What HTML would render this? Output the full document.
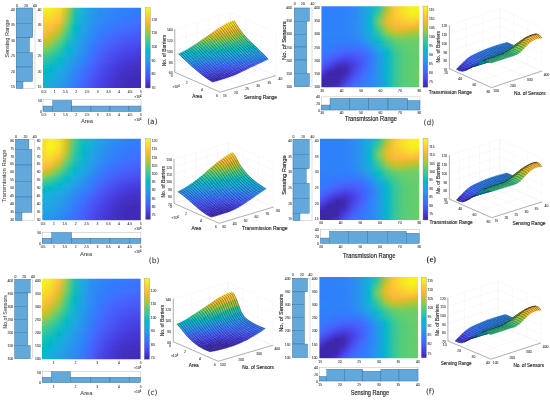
<!DOCTYPE html><html><head><meta charset="utf-8"><style>
html,body{margin:0;padding:0;background:#fff;width:550px;height:400px;overflow:hidden}
svg{display:block}
text{font-family:"Liberation Sans",Arial,sans-serif;dominant-baseline:central}
.t{font-size:3.4px;fill:#444;stroke:#444;stroke-width:0.08}
.zl{font-size:4.9px;fill:#333;stroke:#333;stroke-width:0.13}
.al{font-size:5.9px;fill:#2a2a2a;stroke:#2a2a2a;stroke-width:0.18}
.alL{font-size:5.7px;fill:#4a4a4a;stroke:#4a4a4a;stroke-width:0.06}
.al3{font-size:5px;fill:#2a2a2a;stroke:#2a2a2a;stroke-width:0.15}
.pl{font-size:7.5px;fill:#444;stroke:#444;stroke-width:0.1;font-family:"DejaVu Sans","Liberation Sans",sans-serif}
.pe{font-size:8.5px;fill:#333;font-family:"Liberation Serif",serif;font-weight:bold}
.hb{fill:#62a8da;stroke:#2c5f8c;stroke-width:0.35}
.s path{fill:currentColor;stroke:currentColor;stroke-width:0.4;stroke-linejoin:round}
.c0{color:#3e26a8}.c1{color:#402ab4}.c2{color:#422ec0}.c3{color:#4332cb}.c4{color:#4537d5}.c5{color:#463cde}.c6{color:#4741e5}.c7{color:#4747eb}.c8{color:#484df0}.c9{color:#4852f4}.c10{color:#4758f8}.c11{color:#465efb}.c12{color:#4563fd}.c13{color:#4269fe}.c14{color:#3e6fff}.c15{color:#3875fe}.c16{color:#327cfc}.c17{color:#2f81fa}.c18{color:#2e87f7}.c19{color:#2d8cf3}.c20{color:#2b91ef}.c21{color:#2797eb}.c22{color:#259be8}.c23{color:#23a0e5}.c24{color:#20a5e3}.c25{color:#1ca9df}.c26{color:#18addb}.c27{color:#12b1d6}.c28{color:#08b5d0}.c29{color:#01b8ca}.c30{color:#02bac3}.c31{color:#0bbdbd}.c32{color:#19bfb6}.c33{color:#24c1ae}.c34{color:#2cc4a7}.c35{color:#31c69f}.c36{color:#37c897}.c37{color:#3fca8e}.c38{color:#4acb84}.c39{color:#57cc7a}.c40{color:#64cd6f}.c41{color:#72cd64}.c42{color:#81cc59}.c43{color:#8fcb4e}.c44{color:#9dc943}.c45{color:#abc739}.c46{color:#b9c431}.c47{color:#c5c22a}.c48{color:#d1bf27}.c49{color:#dcbd29}.c50{color:#e6bb2d}.c51{color:#f0ba36}.c52{color:#f8ba3d}.c53{color:#febe3c}.c54{color:#fec338}.c55{color:#fec934}.c56{color:#fccf30}.c57{color:#fad62d}.c58{color:#f7dc2a}.c59{color:#f5e327}.c60{color:#f5e924}.c61{color:#f6ef20}.c62{color:#f7f51b}.c63{color:#f9fb15}
.s .cr{fill:none;stroke:#0a1a3a;stroke-opacity:0.6;stroke-width:0.9}
.s .el{fill:none;stroke:#000;stroke-opacity:0.45;stroke-width:0.75}
</style></head><body><svg width="550" height="400" viewBox="0 0 550 400"><defs><filter id="bv" x="-5%" y="-5%" width="110%" height="110%"><feGaussianBlur stdDeviation="0.3 1.3"/></filter><clipPath id="c1"><rect x="43" y="7.8" width="98" height="80.2"/></clipPath><linearGradient id="g2"><stop offset="0" stop-color="#f9fb15"/><stop offset="0.08" stop-color="#f6f21e"/><stop offset="0.17" stop-color="#f8da2b"/><stop offset="0.25" stop-color="#bcc42f"/><stop offset="0.33" stop-color="#26c2ac"/><stop offset="0.42" stop-color="#18addb"/><stop offset="0.5" stop-color="#259be8"/><stop offset="0.58" stop-color="#2b91ef"/><stop offset="0.67" stop-color="#2d89f5"/><stop offset="0.75" stop-color="#2e84f8"/><stop offset="0.83" stop-color="#3080fa"/><stop offset="0.92" stop-color="#317dfc"/><stop offset="1" stop-color="#347afd"/></linearGradient><linearGradient id="g3"><stop offset="0" stop-color="#f7f41c"/><stop offset="0.08" stop-color="#f5ed21"/><stop offset="0.17" stop-color="#f9d82c"/><stop offset="0.25" stop-color="#b9c431"/><stop offset="0.33" stop-color="#24c2ae"/><stop offset="0.42" stop-color="#19addc"/><stop offset="0.5" stop-color="#259be8"/><stop offset="0.58" stop-color="#2c90f0"/><stop offset="0.67" stop-color="#2d89f5"/><stop offset="0.75" stop-color="#2e84f9"/><stop offset="0.83" stop-color="#3080fa"/><stop offset="0.92" stop-color="#317dfc"/><stop offset="1" stop-color="#3479fd"/></linearGradient><linearGradient id="g4"><stop offset="0" stop-color="#f5e825"/><stop offset="0.08" stop-color="#f5e427"/><stop offset="0.17" stop-color="#fbd22f"/><stop offset="0.25" stop-color="#aec637"/><stop offset="0.33" stop-color="#1ec0b2"/><stop offset="0.42" stop-color="#1aacdd"/><stop offset="0.5" stop-color="#269ae9"/><stop offset="0.58" stop-color="#2c8ef1"/><stop offset="0.67" stop-color="#2e87f7"/><stop offset="0.75" stop-color="#2e83f9"/><stop offset="0.83" stop-color="#307ffb"/><stop offset="0.92" stop-color="#327cfc"/><stop offset="1" stop-color="#3777fe"/></linearGradient><linearGradient id="g5"><stop offset="0" stop-color="#f6de29"/><stop offset="0.08" stop-color="#f7db2b"/><stop offset="0.17" stop-color="#fec934"/><stop offset="0.25" stop-color="#a0c841"/><stop offset="0.33" stop-color="#17bfb6"/><stop offset="0.42" stop-color="#1babde"/><stop offset="0.5" stop-color="#2698ea"/><stop offset="0.58" stop-color="#2d8df2"/><stop offset="0.67" stop-color="#2e85f8"/><stop offset="0.75" stop-color="#2f81fa"/><stop offset="0.83" stop-color="#317dfc"/><stop offset="0.92" stop-color="#347afd"/><stop offset="1" stop-color="#3a74fe"/></linearGradient><linearGradient id="g6"><stop offset="0" stop-color="#fad52d"/><stop offset="0.08" stop-color="#fbd22f"/><stop offset="0.17" stop-color="#fec03b"/><stop offset="0.25" stop-color="#8fcb4e"/><stop offset="0.33" stop-color="#0ebebb"/><stop offset="0.42" stop-color="#1da9e0"/><stop offset="0.5" stop-color="#2797eb"/><stop offset="0.58" stop-color="#2d8af4"/><stop offset="0.67" stop-color="#2f83f9"/><stop offset="0.75" stop-color="#317efb"/><stop offset="0.83" stop-color="#337afd"/><stop offset="0.92" stop-color="#3776fe"/><stop offset="1" stop-color="#3d70ff"/></linearGradient><linearGradient id="g7"><stop offset="0" stop-color="#fdce31"/><stop offset="0.08" stop-color="#fec934"/><stop offset="0.17" stop-color="#f5ba3a"/><stop offset="0.25" stop-color="#7acc5e"/><stop offset="0.33" stop-color="#07bcc0"/><stop offset="0.42" stop-color="#1ea6e1"/><stop offset="0.5" stop-color="#2994ed"/><stop offset="0.58" stop-color="#2d88f6"/><stop offset="0.67" stop-color="#3080fb"/><stop offset="0.75" stop-color="#347afd"/><stop offset="0.83" stop-color="#3876fe"/><stop offset="0.92" stop-color="#3c72ff"/><stop offset="1" stop-color="#406cfe"/></linearGradient><linearGradient id="g8"><stop offset="0" stop-color="#fec735"/><stop offset="0.08" stop-color="#fec13a"/><stop offset="0.17" stop-color="#e2bc2b"/><stop offset="0.25" stop-color="#64cd6f"/><stop offset="0.33" stop-color="#02bac5"/><stop offset="0.42" stop-color="#20a4e3"/><stop offset="0.5" stop-color="#2b91ef"/><stop offset="0.58" stop-color="#2e85f8"/><stop offset="0.67" stop-color="#327cfc"/><stop offset="0.75" stop-color="#3876fe"/><stop offset="0.83" stop-color="#3d71ff"/><stop offset="0.92" stop-color="#406dfe"/><stop offset="1" stop-color="#4367fd"/></linearGradient><linearGradient id="g9"><stop offset="0" stop-color="#fec13a"/><stop offset="0.08" stop-color="#f8ba3d"/><stop offset="0.17" stop-color="#cbc129"/><stop offset="0.25" stop-color="#4fcc80"/><stop offset="0.33" stop-color="#01b8ca"/><stop offset="0.42" stop-color="#23a1e4"/><stop offset="0.5" stop-color="#2c8ef1"/><stop offset="0.58" stop-color="#2f81fa"/><stop offset="0.67" stop-color="#3678fe"/><stop offset="0.75" stop-color="#3d71ff"/><stop offset="0.83" stop-color="#416bfe"/><stop offset="0.92" stop-color="#4367fd"/><stop offset="1" stop-color="#4562fc"/></linearGradient><linearGradient id="g10"><stop offset="0" stop-color="#fbbc3d"/><stop offset="0.08" stop-color="#e9bb30"/><stop offset="0.17" stop-color="#afc637"/><stop offset="0.25" stop-color="#3dc990"/><stop offset="0.33" stop-color="#06b5cf"/><stop offset="0.42" stop-color="#249ee6"/><stop offset="0.5" stop-color="#2d8bf4"/><stop offset="0.58" stop-color="#317efb"/><stop offset="0.67" stop-color="#3a73fe"/><stop offset="0.75" stop-color="#416bfe"/><stop offset="0.83" stop-color="#4466fd"/><stop offset="0.92" stop-color="#4561fc"/><stop offset="1" stop-color="#465dfa"/></linearGradient><linearGradient id="g11"><stop offset="0" stop-color="#f0ba36"/><stop offset="0.08" stop-color="#d7be28"/><stop offset="0.17" stop-color="#90ca4d"/><stop offset="0.25" stop-color="#32c69f"/><stop offset="0.33" stop-color="#0eb2d4"/><stop offset="0.42" stop-color="#269be8"/><stop offset="0.5" stop-color="#2d88f6"/><stop offset="0.58" stop-color="#347afd"/><stop offset="0.67" stop-color="#3f6eff"/><stop offset="0.75" stop-color="#4466fd"/><stop offset="0.83" stop-color="#4660fb"/><stop offset="0.92" stop-color="#475bf9"/><stop offset="1" stop-color="#4757f7"/></linearGradient><linearGradient id="g12"><stop offset="0" stop-color="#e0bc2a"/><stop offset="0.08" stop-color="#bfc32d"/><stop offset="0.17" stop-color="#6fcd66"/><stop offset="0.25" stop-color="#28c2ab"/><stop offset="0.33" stop-color="#15afd9"/><stop offset="0.42" stop-color="#2797ea"/><stop offset="0.5" stop-color="#2e84f8"/><stop offset="0.58" stop-color="#3875fe"/><stop offset="0.67" stop-color="#4269fe"/><stop offset="0.75" stop-color="#4661fc"/><stop offset="0.83" stop-color="#475af9"/><stop offset="0.92" stop-color="#4755f6"/><stop offset="1" stop-color="#4852f4"/></linearGradient><linearGradient id="g13"><stop offset="0" stop-color="#c8c129"/><stop offset="0.08" stop-color="#a2c840"/><stop offset="0.17" stop-color="#53cc7d"/><stop offset="0.25" stop-color="#18bfb6"/><stop offset="0.33" stop-color="#1aacdd"/><stop offset="0.42" stop-color="#2994ed"/><stop offset="0.5" stop-color="#2f81fa"/><stop offset="0.58" stop-color="#3d71ff"/><stop offset="0.67" stop-color="#4464fd"/><stop offset="0.75" stop-color="#475bf9"/><stop offset="0.83" stop-color="#4855f6"/><stop offset="0.92" stop-color="#4850f2"/><stop offset="1" stop-color="#484cf0"/></linearGradient><linearGradient id="g14"><stop offset="0" stop-color="#aac73a"/><stop offset="0.08" stop-color="#80cc59"/><stop offset="0.17" stop-color="#3cc991"/><stop offset="0.25" stop-color="#07bcc0"/><stop offset="0.33" stop-color="#1da8e0"/><stop offset="0.42" stop-color="#2b91ef"/><stop offset="0.5" stop-color="#317dfc"/><stop offset="0.58" stop-color="#406cfe"/><stop offset="0.67" stop-color="#465ffb"/><stop offset="0.75" stop-color="#4756f7"/><stop offset="0.83" stop-color="#484ff2"/><stop offset="0.92" stop-color="#484aee"/><stop offset="1" stop-color="#4747eb"/></linearGradient><linearGradient id="g15"><stop offset="0" stop-color="#87cb54"/><stop offset="0.08" stop-color="#5ecd74"/><stop offset="0.17" stop-color="#30c5a1"/><stop offset="0.25" stop-color="#01b8c9"/><stop offset="0.33" stop-color="#20a4e3"/><stop offset="0.42" stop-color="#2c8ef1"/><stop offset="0.5" stop-color="#347afd"/><stop offset="0.58" stop-color="#4367fd"/><stop offset="0.67" stop-color="#475af9"/><stop offset="0.75" stop-color="#4851f3"/><stop offset="0.83" stop-color="#484aee"/><stop offset="0.92" stop-color="#4745e9"/><stop offset="1" stop-color="#4741e5"/></linearGradient><linearGradient id="g16"><stop offset="0" stop-color="#63cd70"/><stop offset="0.08" stop-color="#42ca8b"/><stop offset="0.17" stop-color="#23c1af"/><stop offset="0.25" stop-color="#09b4d1"/><stop offset="0.33" stop-color="#23a0e5"/><stop offset="0.42" stop-color="#2d8bf4"/><stop offset="0.5" stop-color="#3876fe"/><stop offset="0.58" stop-color="#4563fc"/><stop offset="0.67" stop-color="#4755f6"/><stop offset="0.75" stop-color="#484cef"/><stop offset="0.83" stop-color="#4745e9"/><stop offset="0.92" stop-color="#4740e4"/><stop offset="1" stop-color="#463cdf"/></linearGradient><linearGradient id="g17"><stop offset="0" stop-color="#45cb88"/><stop offset="0.08" stop-color="#32c69e"/><stop offset="0.17" stop-color="#0fbebb"/><stop offset="0.25" stop-color="#14b0d8"/><stop offset="0.33" stop-color="#259ce7"/><stop offset="0.42" stop-color="#2e87f7"/><stop offset="0.5" stop-color="#3c71ff"/><stop offset="0.58" stop-color="#465ffb"/><stop offset="0.67" stop-color="#4851f3"/><stop offset="0.75" stop-color="#4747eb"/><stop offset="0.83" stop-color="#4740e4"/><stop offset="0.92" stop-color="#463bde"/><stop offset="1" stop-color="#4538d8"/></linearGradient><linearGradient id="g18"><stop offset="0" stop-color="#34c79c"/><stop offset="0.08" stop-color="#26c2ad"/><stop offset="0.17" stop-color="#02bac5"/><stop offset="0.25" stop-color="#1aabdd"/><stop offset="0.33" stop-color="#2797ea"/><stop offset="0.42" stop-color="#2e83f9"/><stop offset="0.5" stop-color="#406dfe"/><stop offset="0.58" stop-color="#475af9"/><stop offset="0.67" stop-color="#484df0"/><stop offset="0.75" stop-color="#4743e7"/><stop offset="0.83" stop-color="#463cde"/><stop offset="0.92" stop-color="#4538d7"/><stop offset="1" stop-color="#4435d1"/></linearGradient><linearGradient id="g19"><stop offset="0" stop-color="#28c3aa"/><stop offset="0.08" stop-color="#13beb8"/><stop offset="0.17" stop-color="#05b6ce"/><stop offset="0.25" stop-color="#1fa6e1"/><stop offset="0.33" stop-color="#2a93ee"/><stop offset="0.42" stop-color="#307ffb"/><stop offset="0.5" stop-color="#4369fe"/><stop offset="0.58" stop-color="#4757f7"/><stop offset="0.67" stop-color="#4849ed"/><stop offset="0.75" stop-color="#473fe2"/><stop offset="0.83" stop-color="#4538d8"/><stop offset="0.92" stop-color="#4435d0"/><stop offset="1" stop-color="#4433cb"/></linearGradient><linearGradient id="g20"><stop offset="0" stop-color="#17bfb6"/><stop offset="0.08" stop-color="#04bbc2"/><stop offset="0.17" stop-color="#10b2d5"/><stop offset="0.25" stop-color="#22a2e4"/><stop offset="0.33" stop-color="#2c8ef1"/><stop offset="0.42" stop-color="#347afd"/><stop offset="0.5" stop-color="#4464fd"/><stop offset="0.58" stop-color="#4853f5"/><stop offset="0.67" stop-color="#4745e9"/><stop offset="0.75" stop-color="#463bdd"/><stop offset="0.83" stop-color="#4435d2"/><stop offset="0.92" stop-color="#4332ca"/><stop offset="1" stop-color="#4331c6"/></linearGradient><linearGradient id="g21"><stop offset="0" stop-color="#06bcc0"/><stop offset="0.08" stop-color="#01b8ca"/><stop offset="0.17" stop-color="#18addb"/><stop offset="0.25" stop-color="#249de7"/><stop offset="0.33" stop-color="#2d8af4"/><stop offset="0.42" stop-color="#3975fe"/><stop offset="0.5" stop-color="#4660fc"/><stop offset="0.58" stop-color="#484ff2"/><stop offset="0.67" stop-color="#4742e6"/><stop offset="0.75" stop-color="#4538d8"/><stop offset="0.83" stop-color="#4433cc"/><stop offset="0.92" stop-color="#4230c4"/><stop offset="1" stop-color="#422fc1"/></linearGradient><linearGradient id="g22"><stop offset="0" stop-color="#01b8c8"/><stop offset="0.08" stop-color="#09b4d1"/><stop offset="0.17" stop-color="#1ca9df"/><stop offset="0.25" stop-color="#2699e9"/><stop offset="0.33" stop-color="#2e86f7"/><stop offset="0.42" stop-color="#3d70ff"/><stop offset="0.5" stop-color="#475dfa"/><stop offset="0.58" stop-color="#484cf0"/><stop offset="0.67" stop-color="#473fe2"/><stop offset="0.75" stop-color="#4536d3"/><stop offset="0.83" stop-color="#4331c6"/><stop offset="0.92" stop-color="#422ebf"/><stop offset="1" stop-color="#412ebd"/></linearGradient><linearGradient id="g23"><stop offset="0" stop-color="#06b5ce"/><stop offset="0.08" stop-color="#12b1d6"/><stop offset="0.17" stop-color="#1fa5e2"/><stop offset="0.25" stop-color="#2895ec"/><stop offset="0.33" stop-color="#2f82f9"/><stop offset="0.42" stop-color="#406cfe"/><stop offset="0.5" stop-color="#4759f8"/><stop offset="0.58" stop-color="#4849ed"/><stop offset="0.67" stop-color="#463cdf"/><stop offset="0.75" stop-color="#4434cf"/><stop offset="0.83" stop-color="#422fc2"/><stop offset="0.92" stop-color="#412dbb"/><stop offset="1" stop-color="#412cbb"/></linearGradient><linearGradient id="g24"><stop offset="0" stop-color="#0cb3d3"/><stop offset="0.08" stop-color="#17aeda"/><stop offset="0.17" stop-color="#22a2e4"/><stop offset="0.25" stop-color="#2b92ee"/><stop offset="0.33" stop-color="#307ffb"/><stop offset="0.42" stop-color="#4368fe"/><stop offset="0.5" stop-color="#4756f7"/><stop offset="0.58" stop-color="#4747eb"/><stop offset="0.67" stop-color="#463adc"/><stop offset="0.75" stop-color="#4433cb"/><stop offset="0.83" stop-color="#422ebe"/><stop offset="0.92" stop-color="#402bb8"/><stop offset="1" stop-color="#412cb9"/></linearGradient><linearGradient id="g25"><stop offset="0" stop-color="#12b1d6"/><stop offset="0.08" stop-color="#1babde"/><stop offset="0.17" stop-color="#249fe6"/><stop offset="0.25" stop-color="#2c8ff0"/><stop offset="0.33" stop-color="#327cfc"/><stop offset="0.42" stop-color="#4466fd"/><stop offset="0.5" stop-color="#4854f5"/><stop offset="0.58" stop-color="#4744e9"/><stop offset="0.67" stop-color="#4539d9"/><stop offset="0.75" stop-color="#4332c8"/><stop offset="0.83" stop-color="#412dbc"/><stop offset="0.92" stop-color="#402bb6"/><stop offset="1" stop-color="#402bb8"/></linearGradient><linearGradient id="g26"><stop offset="0" stop-color="#14b0d8"/><stop offset="0.08" stop-color="#1da8e0"/><stop offset="0.17" stop-color="#259ce7"/><stop offset="0.25" stop-color="#2d8df2"/><stop offset="0.33" stop-color="#347afd"/><stop offset="0.42" stop-color="#4563fd"/><stop offset="0.5" stop-color="#4852f4"/><stop offset="0.58" stop-color="#4743e7"/><stop offset="0.67" stop-color="#4538d7"/><stop offset="0.75" stop-color="#4331c6"/><stop offset="0.83" stop-color="#412dbb"/><stop offset="0.92" stop-color="#402bb6"/><stop offset="1" stop-color="#402bb7"/></linearGradient><linearGradient id="g27"><stop offset="0" stop-color="#15afd9"/><stop offset="0.08" stop-color="#1ea7e1"/><stop offset="0.17" stop-color="#259be8"/><stop offset="0.25" stop-color="#2d8cf3"/><stop offset="0.33" stop-color="#3579fd"/><stop offset="0.42" stop-color="#4563fc"/><stop offset="0.5" stop-color="#4851f3"/><stop offset="0.58" stop-color="#4742e6"/><stop offset="0.67" stop-color="#4537d6"/><stop offset="0.75" stop-color="#4331c6"/><stop offset="0.83" stop-color="#412cbb"/><stop offset="0.92" stop-color="#402bb6"/><stop offset="1" stop-color="#402bb7"/></linearGradient><linearGradient id="g28" x1="0" y1="0" x2="0" y2="1"><stop offset="0" stop-color="#f9fb15"/><stop offset="0.07" stop-color="#f5e128"/><stop offset="0.13" stop-color="#fec735"/><stop offset="0.2" stop-color="#eaba31"/><stop offset="0.27" stop-color="#bbc42f"/><stop offset="0.33" stop-color="#81cc59"/><stop offset="0.4" stop-color="#48cb86"/><stop offset="0.47" stop-color="#29c3aa"/><stop offset="0.53" stop-color="#01b9c7"/><stop offset="0.6" stop-color="#1caadf"/><stop offset="0.67" stop-color="#2797eb"/><stop offset="0.73" stop-color="#2f80fa"/><stop offset="0.8" stop-color="#4367fd"/><stop offset="0.87" stop-color="#484ff2"/><stop offset="0.93" stop-color="#4538d7"/><stop offset="1" stop-color="#3e26a8"/></linearGradient><clipPath id="c29"><rect x="42.2" y="138.75" width="98.7" height="81.45"/></clipPath><linearGradient id="g30"><stop offset="0" stop-color="#f7dc2a"/><stop offset="0.08" stop-color="#f6f01f"/><stop offset="0.17" stop-color="#f7dc2a"/><stop offset="0.25" stop-color="#d4bf28"/><stop offset="0.33" stop-color="#4acb84"/><stop offset="0.42" stop-color="#14beb8"/><stop offset="0.5" stop-color="#12b1d7"/><stop offset="0.58" stop-color="#22a1e4"/><stop offset="0.67" stop-color="#2895ec"/><stop offset="0.75" stop-color="#2d8cf3"/><stop offset="0.83" stop-color="#2e86f7"/><stop offset="0.92" stop-color="#2f82fa"/><stop offset="1" stop-color="#317efb"/></linearGradient><linearGradient id="g31"><stop offset="0" stop-color="#f7db2b"/><stop offset="0.08" stop-color="#f7f41c"/><stop offset="0.17" stop-color="#f6e028"/><stop offset="0.25" stop-color="#d5be28"/><stop offset="0.33" stop-color="#47cb87"/><stop offset="0.42" stop-color="#10beba"/><stop offset="0.5" stop-color="#14b0d8"/><stop offset="0.58" stop-color="#23a0e5"/><stop offset="0.67" stop-color="#2994ed"/><stop offset="0.75" stop-color="#2d8bf4"/><stop offset="0.83" stop-color="#2e85f8"/><stop offset="0.92" stop-color="#2f80fa"/><stop offset="1" stop-color="#327cfc"/></linearGradient><linearGradient id="g32"><stop offset="0" stop-color="#f8d92c"/><stop offset="0.08" stop-color="#f8f719"/><stop offset="0.17" stop-color="#f5e327"/><stop offset="0.25" stop-color="#d3bf27"/><stop offset="0.33" stop-color="#3fca8e"/><stop offset="0.42" stop-color="#09bcbe"/><stop offset="0.5" stop-color="#18aedb"/><stop offset="0.58" stop-color="#249ee6"/><stop offset="0.67" stop-color="#2b92ef"/><stop offset="0.75" stop-color="#2d88f6"/><stop offset="0.83" stop-color="#2f82fa"/><stop offset="0.92" stop-color="#317dfc"/><stop offset="1" stop-color="#3579fd"/></linearGradient><linearGradient id="g33"><stop offset="0" stop-color="#f9d82c"/><stop offset="0.08" stop-color="#f8f61a"/><stop offset="0.17" stop-color="#f6e029"/><stop offset="0.25" stop-color="#cac129"/><stop offset="0.33" stop-color="#3ac994"/><stop offset="0.42" stop-color="#03bbc3"/><stop offset="0.5" stop-color="#1aabdd"/><stop offset="0.58" stop-color="#259ce7"/><stop offset="0.67" stop-color="#2c8ff1"/><stop offset="0.75" stop-color="#2e86f8"/><stop offset="0.83" stop-color="#307ffb"/><stop offset="0.92" stop-color="#347afd"/><stop offset="1" stop-color="#3876fe"/></linearGradient><linearGradient id="g34"><stop offset="0" stop-color="#f9d72d"/><stop offset="0.08" stop-color="#f6f21e"/><stop offset="0.17" stop-color="#f9d82c"/><stop offset="0.25" stop-color="#bcc42f"/><stop offset="0.33" stop-color="#35c79b"/><stop offset="0.42" stop-color="#01b9c7"/><stop offset="0.5" stop-color="#1ca9e0"/><stop offset="0.58" stop-color="#2699e9"/><stop offset="0.67" stop-color="#2d8cf3"/><stop offset="0.75" stop-color="#2e83f9"/><stop offset="0.83" stop-color="#327cfc"/><stop offset="0.92" stop-color="#3777fe"/><stop offset="1" stop-color="#3b73fe"/></linearGradient><linearGradient id="g35"><stop offset="0" stop-color="#fad52e"/><stop offset="0.08" stop-color="#f5ea24"/><stop offset="0.17" stop-color="#fdcc32"/><stop offset="0.25" stop-color="#a9c73b"/><stop offset="0.33" stop-color="#30c5a2"/><stop offset="0.42" stop-color="#02b7cb"/><stop offset="0.5" stop-color="#1fa6e1"/><stop offset="0.58" stop-color="#2896eb"/><stop offset="0.67" stop-color="#2d89f5"/><stop offset="0.75" stop-color="#3080fb"/><stop offset="0.83" stop-color="#3579fd"/><stop offset="0.92" stop-color="#3a73fe"/><stop offset="1" stop-color="#3e6fff"/></linearGradient><linearGradient id="g36"><stop offset="0" stop-color="#fbd12f"/><stop offset="0.08" stop-color="#f6de29"/><stop offset="0.17" stop-color="#febe3c"/><stop offset="0.25" stop-color="#90ca4d"/><stop offset="0.33" stop-color="#2ac3a9"/><stop offset="0.42" stop-color="#07b5d0"/><stop offset="0.5" stop-color="#21a3e3"/><stop offset="0.58" stop-color="#2a93ee"/><stop offset="0.67" stop-color="#2e86f8"/><stop offset="0.75" stop-color="#327cfc"/><stop offset="0.83" stop-color="#3975fe"/><stop offset="0.92" stop-color="#3e70ff"/><stop offset="1" stop-color="#406cfe"/></linearGradient><linearGradient id="g37"><stop offset="0" stop-color="#fdcc32"/><stop offset="0.08" stop-color="#fccf30"/><stop offset="0.17" stop-color="#e8bb2f"/><stop offset="0.25" stop-color="#72cd63"/><stop offset="0.33" stop-color="#21c1b0"/><stop offset="0.42" stop-color="#0eb2d4"/><stop offset="0.5" stop-color="#23a0e5"/><stop offset="0.58" stop-color="#2c8ff0"/><stop offset="0.67" stop-color="#2f82fa"/><stop offset="0.75" stop-color="#3678fe"/><stop offset="0.83" stop-color="#3d71ff"/><stop offset="0.92" stop-color="#406cfe"/><stop offset="1" stop-color="#4368fe"/></linearGradient><linearGradient id="g38"><stop offset="0" stop-color="#fec338"/><stop offset="0.08" stop-color="#febf3b"/><stop offset="0.17" stop-color="#c7c129"/><stop offset="0.25" stop-color="#56cc7b"/><stop offset="0.33" stop-color="#14beb8"/><stop offset="0.42" stop-color="#15afd9"/><stop offset="0.5" stop-color="#259ce7"/><stop offset="0.58" stop-color="#2d8bf4"/><stop offset="0.67" stop-color="#317dfb"/><stop offset="0.75" stop-color="#3a73fe"/><stop offset="0.83" stop-color="#406cfe"/><stop offset="0.92" stop-color="#4368fd"/><stop offset="1" stop-color="#4564fd"/></linearGradient><linearGradient id="g39"><stop offset="0" stop-color="#f9ba3d"/><stop offset="0.08" stop-color="#e8bb2f"/><stop offset="0.17" stop-color="#9dc943"/><stop offset="0.25" stop-color="#3cc991"/><stop offset="0.33" stop-color="#05bbc1"/><stop offset="0.42" stop-color="#1aabdd"/><stop offset="0.5" stop-color="#2798ea"/><stop offset="0.58" stop-color="#2e87f7"/><stop offset="0.67" stop-color="#3578fd"/><stop offset="0.75" stop-color="#3f6efe"/><stop offset="0.83" stop-color="#4367fd"/><stop offset="0.92" stop-color="#4562fc"/><stop offset="1" stop-color="#465ffb"/></linearGradient><linearGradient id="g40"><stop offset="0" stop-color="#e1bc2b"/><stop offset="0.08" stop-color="#c2c22c"/><stop offset="0.17" stop-color="#6ecd67"/><stop offset="0.25" stop-color="#2ec4a4"/><stop offset="0.33" stop-color="#01b8ca"/><stop offset="0.42" stop-color="#1ea7e1"/><stop offset="0.5" stop-color="#2a93ed"/><stop offset="0.58" stop-color="#2f82fa"/><stop offset="0.67" stop-color="#3b73fe"/><stop offset="0.75" stop-color="#4368fe"/><stop offset="0.83" stop-color="#4561fc"/><stop offset="0.92" stop-color="#475dfa"/><stop offset="1" stop-color="#4759f8"/></linearGradient><linearGradient id="g41"><stop offset="0" stop-color="#b9c430"/><stop offset="0.08" stop-color="#90ca4d"/><stop offset="0.17" stop-color="#45cb88"/><stop offset="0.25" stop-color="#1ac0b5"/><stop offset="0.33" stop-color="#0db3d3"/><stop offset="0.42" stop-color="#22a1e4"/><stop offset="0.5" stop-color="#2c8ef1"/><stop offset="0.58" stop-color="#327cfc"/><stop offset="0.67" stop-color="#406cfe"/><stop offset="0.75" stop-color="#4562fc"/><stop offset="0.83" stop-color="#475bf9"/><stop offset="0.92" stop-color="#4756f7"/><stop offset="1" stop-color="#4853f4"/></linearGradient><linearGradient id="g42"><stop offset="0" stop-color="#83cc57"/><stop offset="0.08" stop-color="#5bcc76"/><stop offset="0.17" stop-color="#2fc5a2"/><stop offset="0.25" stop-color="#02bac4"/><stop offset="0.33" stop-color="#19addc"/><stop offset="0.42" stop-color="#259be7"/><stop offset="0.5" stop-color="#2d88f6"/><stop offset="0.58" stop-color="#3876fe"/><stop offset="0.67" stop-color="#4466fd"/><stop offset="0.75" stop-color="#475bfa"/><stop offset="0.83" stop-color="#4854f5"/><stop offset="0.92" stop-color="#484ff2"/><stop offset="1" stop-color="#484bef"/></linearGradient><linearGradient id="g43"><stop offset="0" stop-color="#4ccb83"/><stop offset="0.08" stop-color="#36c799"/><stop offset="0.17" stop-color="#17bfb7"/><stop offset="0.25" stop-color="#08b4d1"/><stop offset="0.33" stop-color="#1fa6e2"/><stop offset="0.42" stop-color="#2895ec"/><stop offset="0.5" stop-color="#2f82f9"/><stop offset="0.58" stop-color="#3e6fff"/><stop offset="0.67" stop-color="#4660fb"/><stop offset="0.75" stop-color="#4755f6"/><stop offset="0.83" stop-color="#484df0"/><stop offset="0.92" stop-color="#4848ec"/><stop offset="1" stop-color="#4744e8"/></linearGradient><linearGradient id="g44"><stop offset="0" stop-color="#2ec4a4"/><stop offset="0.08" stop-color="#1ec0b2"/><stop offset="0.17" stop-color="#01b9c7"/><stop offset="0.25" stop-color="#18aedb"/><stop offset="0.33" stop-color="#249fe6"/><stop offset="0.42" stop-color="#2c8ef1"/><stop offset="0.5" stop-color="#327cfc"/><stop offset="0.58" stop-color="#4368fe"/><stop offset="0.67" stop-color="#4759f9"/><stop offset="0.75" stop-color="#484ef1"/><stop offset="0.83" stop-color="#4746ea"/><stop offset="0.92" stop-color="#4740e4"/><stop offset="1" stop-color="#463ee1"/></linearGradient><linearGradient id="g45"><stop offset="0" stop-color="#0ebdbb"/><stop offset="0.08" stop-color="#02bac5"/><stop offset="0.17" stop-color="#0db3d3"/><stop offset="0.25" stop-color="#1ea7e1"/><stop offset="0.33" stop-color="#2798ea"/><stop offset="0.42" stop-color="#2d88f6"/><stop offset="0.5" stop-color="#3975fe"/><stop offset="0.58" stop-color="#4562fc"/><stop offset="0.67" stop-color="#4853f5"/><stop offset="0.75" stop-color="#4848ec"/><stop offset="0.83" stop-color="#473fe3"/><stop offset="0.92" stop-color="#463adc"/><stop offset="1" stop-color="#4538d8"/></linearGradient><linearGradient id="g46"><stop offset="0" stop-color="#02b7cb"/><stop offset="0.08" stop-color="#0ab4d1"/><stop offset="0.17" stop-color="#19addc"/><stop offset="0.25" stop-color="#23a0e5"/><stop offset="0.33" stop-color="#2b91ef"/><stop offset="0.42" stop-color="#2f81fa"/><stop offset="0.5" stop-color="#3f6efe"/><stop offset="0.58" stop-color="#475cfa"/><stop offset="0.67" stop-color="#484ef1"/><stop offset="0.75" stop-color="#4742e6"/><stop offset="0.83" stop-color="#463adb"/><stop offset="0.92" stop-color="#4536d3"/><stop offset="1" stop-color="#4435d0"/></linearGradient><linearGradient id="g47"><stop offset="0" stop-color="#0fb2d4"/><stop offset="0.08" stop-color="#16afd9"/><stop offset="0.17" stop-color="#1ea8e1"/><stop offset="0.25" stop-color="#259be8"/><stop offset="0.33" stop-color="#2d8bf3"/><stop offset="0.42" stop-color="#337afd"/><stop offset="0.5" stop-color="#4367fd"/><stop offset="0.58" stop-color="#4757f7"/><stop offset="0.67" stop-color="#4848ec"/><stop offset="0.75" stop-color="#463de0"/><stop offset="0.83" stop-color="#4536d3"/><stop offset="0.92" stop-color="#4332cb"/><stop offset="1" stop-color="#4332c9"/></linearGradient><linearGradient id="g48"><stop offset="0" stop-color="#17aeda"/><stop offset="0.08" stop-color="#1babde"/><stop offset="0.17" stop-color="#21a3e3"/><stop offset="0.25" stop-color="#2796eb"/><stop offset="0.33" stop-color="#2e86f7"/><stop offset="0.42" stop-color="#3a74fe"/><stop offset="0.5" stop-color="#4562fc"/><stop offset="0.58" stop-color="#4851f4"/><stop offset="0.67" stop-color="#4743e7"/><stop offset="0.75" stop-color="#4539d9"/><stop offset="0.83" stop-color="#4433cb"/><stop offset="0.92" stop-color="#4230c4"/><stop offset="1" stop-color="#4230c4"/></linearGradient><linearGradient id="g49"><stop offset="0" stop-color="#1aabdd"/><stop offset="0.08" stop-color="#1ea8e1"/><stop offset="0.17" stop-color="#23a0e5"/><stop offset="0.25" stop-color="#2a92ee"/><stop offset="0.33" stop-color="#2f81fa"/><stop offset="0.42" stop-color="#3f6eff"/><stop offset="0.5" stop-color="#475cfa"/><stop offset="0.58" stop-color="#484df0"/><stop offset="0.67" stop-color="#473fe2"/><stop offset="0.75" stop-color="#4536d2"/><stop offset="0.83" stop-color="#4330c5"/><stop offset="0.92" stop-color="#422ebe"/><stop offset="1" stop-color="#422fc0"/></linearGradient><linearGradient id="g50"><stop offset="0" stop-color="#1ca9df"/><stop offset="0.08" stop-color="#20a5e2"/><stop offset="0.17" stop-color="#259ce7"/><stop offset="0.25" stop-color="#2c8ef1"/><stop offset="0.33" stop-color="#327cfc"/><stop offset="0.42" stop-color="#4269fe"/><stop offset="0.5" stop-color="#4758f8"/><stop offset="0.58" stop-color="#4848ec"/><stop offset="0.67" stop-color="#463bdd"/><stop offset="0.75" stop-color="#4433cc"/><stop offset="0.83" stop-color="#422ec0"/><stop offset="0.92" stop-color="#412cba"/><stop offset="1" stop-color="#412ebe"/></linearGradient><linearGradient id="g51"><stop offset="0" stop-color="#1ea8e1"/><stop offset="0.08" stop-color="#22a2e4"/><stop offset="0.17" stop-color="#2699e9"/><stop offset="0.25" stop-color="#2d8bf4"/><stop offset="0.33" stop-color="#3678fd"/><stop offset="0.42" stop-color="#4465fd"/><stop offset="0.5" stop-color="#4854f5"/><stop offset="0.58" stop-color="#4745e9"/><stop offset="0.67" stop-color="#4539d9"/><stop offset="0.75" stop-color="#4331c8"/><stop offset="0.83" stop-color="#412dbc"/><stop offset="0.92" stop-color="#402bb8"/><stop offset="1" stop-color="#412dbc"/></linearGradient><linearGradient id="g52"><stop offset="0" stop-color="#20a5e2"/><stop offset="0.08" stop-color="#249fe6"/><stop offset="0.17" stop-color="#2895ec"/><stop offset="0.25" stop-color="#2e87f7"/><stop offset="0.33" stop-color="#3974fe"/><stop offset="0.42" stop-color="#4561fc"/><stop offset="0.5" stop-color="#4851f3"/><stop offset="0.58" stop-color="#4742e6"/><stop offset="0.67" stop-color="#4537d5"/><stop offset="0.75" stop-color="#4230c4"/><stop offset="0.83" stop-color="#412cba"/><stop offset="0.92" stop-color="#402bb7"/><stop offset="1" stop-color="#412cbb"/></linearGradient><linearGradient id="g53"><stop offset="0" stop-color="#23a1e5"/><stop offset="0.08" stop-color="#269ae9"/><stop offset="0.17" stop-color="#2c90f0"/><stop offset="0.25" stop-color="#2f82f9"/><stop offset="0.33" stop-color="#3d71ff"/><stop offset="0.42" stop-color="#465ffb"/><stop offset="0.5" stop-color="#484ef1"/><stop offset="0.58" stop-color="#4740e3"/><stop offset="0.67" stop-color="#4535d2"/><stop offset="0.75" stop-color="#4230c3"/><stop offset="0.83" stop-color="#412cba"/><stop offset="0.92" stop-color="#402bb7"/><stop offset="1" stop-color="#412cb9"/></linearGradient><linearGradient id="g54"><stop offset="0" stop-color="#269ae8"/><stop offset="0.08" stop-color="#2a92ee"/><stop offset="0.17" stop-color="#2d89f5"/><stop offset="0.25" stop-color="#317dfb"/><stop offset="0.33" stop-color="#3f6efe"/><stop offset="0.42" stop-color="#465dfa"/><stop offset="0.5" stop-color="#484df0"/><stop offset="0.58" stop-color="#473fe2"/><stop offset="0.67" stop-color="#4435d1"/><stop offset="0.75" stop-color="#4230c3"/><stop offset="0.83" stop-color="#412cbb"/><stop offset="0.92" stop-color="#402bb7"/><stop offset="1" stop-color="#402cb8"/></linearGradient><linearGradient id="g55"><stop offset="0" stop-color="#2895ec"/><stop offset="0.08" stop-color="#2d8df2"/><stop offset="0.17" stop-color="#2e85f8"/><stop offset="0.25" stop-color="#337bfd"/><stop offset="0.33" stop-color="#406cfe"/><stop offset="0.42" stop-color="#475cfa"/><stop offset="0.5" stop-color="#484df0"/><stop offset="0.58" stop-color="#473ee1"/><stop offset="0.67" stop-color="#4435d1"/><stop offset="0.75" stop-color="#4230c4"/><stop offset="0.83" stop-color="#412dbc"/><stop offset="0.92" stop-color="#402cb8"/><stop offset="1" stop-color="#402bb7"/></linearGradient><linearGradient id="g56" x1="0" y1="0" x2="0" y2="1"><stop offset="0" stop-color="#f9fb15"/><stop offset="0.07" stop-color="#f5e128"/><stop offset="0.13" stop-color="#fec735"/><stop offset="0.2" stop-color="#eaba31"/><stop offset="0.27" stop-color="#bbc42f"/><stop offset="0.33" stop-color="#81cc59"/><stop offset="0.4" stop-color="#48cb86"/><stop offset="0.47" stop-color="#29c3aa"/><stop offset="0.53" stop-color="#01b9c7"/><stop offset="0.6" stop-color="#1caadf"/><stop offset="0.67" stop-color="#2797eb"/><stop offset="0.73" stop-color="#2f80fa"/><stop offset="0.8" stop-color="#4367fd"/><stop offset="0.87" stop-color="#484ff2"/><stop offset="0.93" stop-color="#4538d7"/><stop offset="1" stop-color="#3e26a8"/></linearGradient><clipPath id="c57"><rect x="42" y="278.75" width="98.75" height="80.55"/></clipPath><linearGradient id="g58"><stop offset="0" stop-color="#f9fb15"/><stop offset="0.08" stop-color="#f5ee21"/><stop offset="0.17" stop-color="#fec537"/><stop offset="0.25" stop-color="#97ca48"/><stop offset="0.33" stop-color="#1dc0b3"/><stop offset="0.42" stop-color="#1ea7e1"/><stop offset="0.5" stop-color="#2b92ee"/><stop offset="0.58" stop-color="#2e86f7"/><stop offset="0.67" stop-color="#3080fb"/><stop offset="0.75" stop-color="#327cfc"/><stop offset="0.83" stop-color="#3479fd"/><stop offset="0.92" stop-color="#3678fe"/><stop offset="1" stop-color="#3876fe"/></linearGradient><linearGradient id="g59"><stop offset="0" stop-color="#f8f818"/><stop offset="0.08" stop-color="#f5eb23"/><stop offset="0.17" stop-color="#fec339"/><stop offset="0.25" stop-color="#94ca4a"/><stop offset="0.33" stop-color="#1cc0b3"/><stop offset="0.42" stop-color="#1ea7e1"/><stop offset="0.5" stop-color="#2b91ef"/><stop offset="0.58" stop-color="#2e86f7"/><stop offset="0.67" stop-color="#307ffb"/><stop offset="0.75" stop-color="#327cfc"/><stop offset="0.83" stop-color="#3479fd"/><stop offset="0.92" stop-color="#3677fe"/><stop offset="1" stop-color="#3975fe"/></linearGradient><linearGradient id="g60"><stop offset="0" stop-color="#f6f21e"/><stop offset="0.08" stop-color="#f5e526"/><stop offset="0.17" stop-color="#febd3c"/><stop offset="0.25" stop-color="#8ccb50"/><stop offset="0.33" stop-color="#19bfb5"/><stop offset="0.42" stop-color="#1fa6e2"/><stop offset="0.5" stop-color="#2b90f0"/><stop offset="0.58" stop-color="#2e85f8"/><stop offset="0.67" stop-color="#317efb"/><stop offset="0.75" stop-color="#337afd"/><stop offset="0.83" stop-color="#3678fd"/><stop offset="0.92" stop-color="#3876fe"/><stop offset="1" stop-color="#3b72fe"/></linearGradient><linearGradient id="g61"><stop offset="0" stop-color="#f5ec23"/><stop offset="0.08" stop-color="#f6de29"/><stop offset="0.17" stop-color="#f7ba3c"/><stop offset="0.25" stop-color="#81cc59"/><stop offset="0.33" stop-color="#14bfb8"/><stop offset="0.42" stop-color="#20a5e3"/><stop offset="0.5" stop-color="#2c8ff0"/><stop offset="0.58" stop-color="#2e83f9"/><stop offset="0.67" stop-color="#317dfc"/><stop offset="0.75" stop-color="#3578fd"/><stop offset="0.83" stop-color="#3876fe"/><stop offset="0.92" stop-color="#3a73fe"/><stop offset="1" stop-color="#3e6fff"/></linearGradient><linearGradient id="g62"><stop offset="0" stop-color="#f5e526"/><stop offset="0.08" stop-color="#f9d62d"/><stop offset="0.17" stop-color="#ecba32"/><stop offset="0.25" stop-color="#73cd63"/><stop offset="0.33" stop-color="#0ebdbb"/><stop offset="0.42" stop-color="#21a3e3"/><stop offset="0.5" stop-color="#2c8ef1"/><stop offset="0.58" stop-color="#2f82fa"/><stop offset="0.67" stop-color="#337afd"/><stop offset="0.75" stop-color="#3876fe"/><stop offset="0.83" stop-color="#3b72fe"/><stop offset="0.92" stop-color="#3e70ff"/><stop offset="1" stop-color="#406cfe"/></linearGradient><linearGradient id="g63"><stop offset="0" stop-color="#f6de29"/><stop offset="0.08" stop-color="#fdcd31"/><stop offset="0.17" stop-color="#debc2a"/><stop offset="0.25" stop-color="#65cd6e"/><stop offset="0.33" stop-color="#08bcbf"/><stop offset="0.42" stop-color="#22a2e4"/><stop offset="0.5" stop-color="#2d8df2"/><stop offset="0.58" stop-color="#2f80fa"/><stop offset="0.67" stop-color="#3678fd"/><stop offset="0.75" stop-color="#3b72ff"/><stop offset="0.83" stop-color="#3f6eff"/><stop offset="0.92" stop-color="#416bfe"/><stop offset="1" stop-color="#4368fe"/></linearGradient><linearGradient id="g64"><stop offset="0" stop-color="#f9d72d"/><stop offset="0.08" stop-color="#fec438"/><stop offset="0.17" stop-color="#cdc028"/><stop offset="0.25" stop-color="#56cc7b"/><stop offset="0.33" stop-color="#02bbc3"/><stop offset="0.42" stop-color="#23a1e4"/><stop offset="0.5" stop-color="#2d8cf3"/><stop offset="0.58" stop-color="#307ffb"/><stop offset="0.67" stop-color="#3975fe"/><stop offset="0.75" stop-color="#3f6eff"/><stop offset="0.83" stop-color="#426afe"/><stop offset="0.92" stop-color="#4366fd"/><stop offset="1" stop-color="#4564fd"/></linearGradient><linearGradient id="g65"><stop offset="0" stop-color="#fdce31"/><stop offset="0.08" stop-color="#fbbc3d"/><stop offset="0.17" stop-color="#b9c430"/><stop offset="0.25" stop-color="#47cb87"/><stop offset="0.33" stop-color="#01b9c7"/><stop offset="0.42" stop-color="#239fe5"/><stop offset="0.5" stop-color="#2d8bf4"/><stop offset="0.58" stop-color="#317dfc"/><stop offset="0.67" stop-color="#3c72ff"/><stop offset="0.75" stop-color="#426afe"/><stop offset="0.83" stop-color="#4465fd"/><stop offset="0.92" stop-color="#4561fc"/><stop offset="1" stop-color="#465ffb"/></linearGradient><linearGradient id="g66"><stop offset="0" stop-color="#fec537"/><stop offset="0.08" stop-color="#ecba33"/><stop offset="0.17" stop-color="#a2c840"/><stop offset="0.25" stop-color="#3ac993"/><stop offset="0.33" stop-color="#03b7cc"/><stop offset="0.42" stop-color="#249ee6"/><stop offset="0.5" stop-color="#2d89f5"/><stop offset="0.58" stop-color="#337afd"/><stop offset="0.67" stop-color="#3f6eff"/><stop offset="0.75" stop-color="#4466fd"/><stop offset="0.83" stop-color="#4660fb"/><stop offset="0.92" stop-color="#475cfa"/><stop offset="1" stop-color="#475bf9"/></linearGradient><linearGradient id="g67"><stop offset="0" stop-color="#fbbc3d"/><stop offset="0.08" stop-color="#d9be28"/><stop offset="0.17" stop-color="#88cb53"/><stop offset="0.25" stop-color="#32c69e"/><stop offset="0.33" stop-color="#08b4d1"/><stop offset="0.42" stop-color="#259ce7"/><stop offset="0.5" stop-color="#2d88f6"/><stop offset="0.58" stop-color="#3678fd"/><stop offset="0.67" stop-color="#416bfe"/><stop offset="0.75" stop-color="#4561fc"/><stop offset="0.83" stop-color="#475bf9"/><stop offset="0.92" stop-color="#4757f7"/><stop offset="1" stop-color="#4756f7"/></linearGradient><linearGradient id="g68"><stop offset="0" stop-color="#ecba32"/><stop offset="0.08" stop-color="#c1c32c"/><stop offset="0.17" stop-color="#6dcd67"/><stop offset="0.25" stop-color="#2ac3a9"/><stop offset="0.33" stop-color="#10b2d5"/><stop offset="0.42" stop-color="#269ae8"/><stop offset="0.5" stop-color="#2e86f7"/><stop offset="0.58" stop-color="#3876fe"/><stop offset="0.67" stop-color="#4368fe"/><stop offset="0.75" stop-color="#465dfb"/><stop offset="0.83" stop-color="#4756f7"/><stop offset="0.92" stop-color="#4852f4"/><stop offset="1" stop-color="#4852f4"/></linearGradient><linearGradient id="g69"><stop offset="0" stop-color="#d5be28"/><stop offset="0.08" stop-color="#a4c83e"/><stop offset="0.17" stop-color="#54cc7c"/><stop offset="0.25" stop-color="#1ec0b2"/><stop offset="0.33" stop-color="#16afd9"/><stop offset="0.42" stop-color="#2798ea"/><stop offset="0.5" stop-color="#2e84f8"/><stop offset="0.58" stop-color="#3b73fe"/><stop offset="0.67" stop-color="#4465fd"/><stop offset="0.75" stop-color="#475af9"/><stop offset="0.83" stop-color="#4852f4"/><stop offset="0.92" stop-color="#484ef1"/><stop offset="1" stop-color="#484df0"/></linearGradient><linearGradient id="g70"><stop offset="0" stop-color="#b8c431"/><stop offset="0.08" stop-color="#83cc57"/><stop offset="0.17" stop-color="#3eca8f"/><stop offset="0.25" stop-color="#0ebdbb"/><stop offset="0.33" stop-color="#1aacdd"/><stop offset="0.42" stop-color="#2896ec"/><stop offset="0.5" stop-color="#2f82fa"/><stop offset="0.58" stop-color="#3e70ff"/><stop offset="0.67" stop-color="#4561fc"/><stop offset="0.75" stop-color="#4756f7"/><stop offset="0.83" stop-color="#484ef1"/><stop offset="0.92" stop-color="#4849ed"/><stop offset="1" stop-color="#4848ec"/></linearGradient><linearGradient id="g71"><stop offset="0" stop-color="#96ca48"/><stop offset="0.08" stop-color="#63cd70"/><stop offset="0.17" stop-color="#32c69f"/><stop offset="0.25" stop-color="#02bac4"/><stop offset="0.33" stop-color="#1da9e0"/><stop offset="0.42" stop-color="#2a93ed"/><stop offset="0.5" stop-color="#307ffb"/><stop offset="0.58" stop-color="#406dfe"/><stop offset="0.67" stop-color="#465efb"/><stop offset="0.75" stop-color="#4853f5"/><stop offset="0.83" stop-color="#484aee"/><stop offset="0.92" stop-color="#4745e9"/><stop offset="1" stop-color="#4744e8"/></linearGradient><linearGradient id="g72"><stop offset="0" stop-color="#73cd63"/><stop offset="0.08" stop-color="#48cb86"/><stop offset="0.17" stop-color="#27c2ac"/><stop offset="0.25" stop-color="#03b7cc"/><stop offset="0.33" stop-color="#1fa5e2"/><stop offset="0.42" stop-color="#2b91ef"/><stop offset="0.5" stop-color="#327cfc"/><stop offset="0.58" stop-color="#4269fe"/><stop offset="0.67" stop-color="#475bf9"/><stop offset="0.75" stop-color="#484ff2"/><stop offset="0.83" stop-color="#4747eb"/><stop offset="0.92" stop-color="#4741e5"/><stop offset="1" stop-color="#473fe3"/></linearGradient><linearGradient id="g73"><stop offset="0" stop-color="#55cc7c"/><stop offset="0.08" stop-color="#36c898"/><stop offset="0.17" stop-color="#16bfb7"/><stop offset="0.25" stop-color="#0cb3d2"/><stop offset="0.33" stop-color="#22a2e4"/><stop offset="0.42" stop-color="#2c8ef1"/><stop offset="0.5" stop-color="#3479fd"/><stop offset="0.58" stop-color="#4466fd"/><stop offset="0.67" stop-color="#4757f7"/><stop offset="0.75" stop-color="#484cef"/><stop offset="0.83" stop-color="#4743e7"/><stop offset="0.92" stop-color="#463ee1"/><stop offset="1" stop-color="#463cde"/></linearGradient><linearGradient id="g74"><stop offset="0" stop-color="#3eca8f"/><stop offset="0.08" stop-color="#2dc4a6"/><stop offset="0.17" stop-color="#06bbc1"/><stop offset="0.25" stop-color="#15afd8"/><stop offset="0.33" stop-color="#249fe6"/><stop offset="0.42" stop-color="#2d8bf4"/><stop offset="0.5" stop-color="#3876fe"/><stop offset="0.58" stop-color="#4562fc"/><stop offset="0.67" stop-color="#4853f5"/><stop offset="0.75" stop-color="#4848ec"/><stop offset="0.83" stop-color="#473fe3"/><stop offset="0.92" stop-color="#463adc"/><stop offset="1" stop-color="#4538d8"/></linearGradient><linearGradient id="g75"><stop offset="0" stop-color="#32c69e"/><stop offset="0.08" stop-color="#20c1b1"/><stop offset="0.17" stop-color="#01b8c9"/><stop offset="0.25" stop-color="#1aacdd"/><stop offset="0.33" stop-color="#259be8"/><stop offset="0.42" stop-color="#2d88f6"/><stop offset="0.5" stop-color="#3b73fe"/><stop offset="0.58" stop-color="#465ffb"/><stop offset="0.67" stop-color="#484ff2"/><stop offset="0.75" stop-color="#4744e8"/><stop offset="0.83" stop-color="#463cde"/><stop offset="0.92" stop-color="#4537d7"/><stop offset="1" stop-color="#4536d3"/></linearGradient><linearGradient id="g76"><stop offset="0" stop-color="#29c3aa"/><stop offset="0.08" stop-color="#10beba"/><stop offset="0.17" stop-color="#07b5d0"/><stop offset="0.25" stop-color="#1ea8e1"/><stop offset="0.33" stop-color="#2798ea"/><stop offset="0.42" stop-color="#2e86f8"/><stop offset="0.5" stop-color="#3e6fff"/><stop offset="0.58" stop-color="#475bf9"/><stop offset="0.67" stop-color="#484bef"/><stop offset="0.75" stop-color="#4740e3"/><stop offset="0.83" stop-color="#4539d8"/><stop offset="0.92" stop-color="#4435d1"/><stop offset="1" stop-color="#4434cd"/></linearGradient><linearGradient id="g77"><stop offset="0" stop-color="#1cc0b3"/><stop offset="0.08" stop-color="#04bbc2"/><stop offset="0.17" stop-color="#10b2d5"/><stop offset="0.25" stop-color="#20a4e3"/><stop offset="0.33" stop-color="#2995ec"/><stop offset="0.42" stop-color="#2e83f9"/><stop offset="0.5" stop-color="#406cfe"/><stop offset="0.58" stop-color="#4757f7"/><stop offset="0.67" stop-color="#4747eb"/><stop offset="0.75" stop-color="#463cde"/><stop offset="0.83" stop-color="#4536d3"/><stop offset="0.92" stop-color="#4433cb"/><stop offset="1" stop-color="#4332c9"/></linearGradient><linearGradient id="g78"><stop offset="0" stop-color="#0dbdbb"/><stop offset="0.08" stop-color="#01b8c8"/><stop offset="0.17" stop-color="#17aeda"/><stop offset="0.25" stop-color="#23a0e5"/><stop offset="0.33" stop-color="#2b92ef"/><stop offset="0.42" stop-color="#2f80fa"/><stop offset="0.5" stop-color="#4269fe"/><stop offset="0.58" stop-color="#4854f5"/><stop offset="0.67" stop-color="#4744e8"/><stop offset="0.75" stop-color="#4539d9"/><stop offset="0.83" stop-color="#4433cd"/><stop offset="0.92" stop-color="#4331c6"/><stop offset="1" stop-color="#4230c4"/></linearGradient><linearGradient id="g79"><stop offset="0" stop-color="#03bbc2"/><stop offset="0.08" stop-color="#05b6ce"/><stop offset="0.17" stop-color="#1aabdd"/><stop offset="0.25" stop-color="#249de7"/><stop offset="0.33" stop-color="#2c8ef1"/><stop offset="0.42" stop-color="#317dfc"/><stop offset="0.5" stop-color="#4466fd"/><stop offset="0.58" stop-color="#4851f3"/><stop offset="0.67" stop-color="#4740e4"/><stop offset="0.75" stop-color="#4536d4"/><stop offset="0.83" stop-color="#4331c8"/><stop offset="0.92" stop-color="#422fc2"/><stop offset="1" stop-color="#422fc0"/></linearGradient><linearGradient id="g80"><stop offset="0" stop-color="#01b8c9"/><stop offset="0.08" stop-color="#0cb3d3"/><stop offset="0.17" stop-color="#1da8e0"/><stop offset="0.25" stop-color="#269ae8"/><stop offset="0.33" stop-color="#2d8cf3"/><stop offset="0.42" stop-color="#347afd"/><stop offset="0.5" stop-color="#4563fd"/><stop offset="0.58" stop-color="#484ef1"/><stop offset="0.67" stop-color="#463ee1"/><stop offset="0.75" stop-color="#4435d0"/><stop offset="0.83" stop-color="#4230c4"/><stop offset="0.92" stop-color="#422ebe"/><stop offset="1" stop-color="#412dbd"/></linearGradient><linearGradient id="g81"><stop offset="0" stop-color="#05b6ce"/><stop offset="0.08" stop-color="#13b0d7"/><stop offset="0.17" stop-color="#1fa5e2"/><stop offset="0.25" stop-color="#2797ea"/><stop offset="0.33" stop-color="#2d89f5"/><stop offset="0.42" stop-color="#3777fe"/><stop offset="0.5" stop-color="#4660fc"/><stop offset="0.58" stop-color="#484cef"/><stop offset="0.67" stop-color="#463cdf"/><stop offset="0.75" stop-color="#4434ce"/><stop offset="0.83" stop-color="#422fc2"/><stop offset="0.92" stop-color="#412dbc"/><stop offset="1" stop-color="#412cba"/></linearGradient><linearGradient id="g82"><stop offset="0" stop-color="#0db3d3"/><stop offset="0.08" stop-color="#18addb"/><stop offset="0.17" stop-color="#22a2e4"/><stop offset="0.25" stop-color="#2895ec"/><stop offset="0.33" stop-color="#2e86f7"/><stop offset="0.42" stop-color="#3a73fe"/><stop offset="0.5" stop-color="#465efb"/><stop offset="0.58" stop-color="#484aee"/><stop offset="0.67" stop-color="#463cde"/><stop offset="0.75" stop-color="#4433cd"/><stop offset="0.83" stop-color="#422fc1"/><stop offset="0.92" stop-color="#412dbb"/><stop offset="1" stop-color="#402cb8"/></linearGradient><linearGradient id="g83"><stop offset="0" stop-color="#11b1d6"/><stop offset="0.08" stop-color="#1aacdd"/><stop offset="0.17" stop-color="#23a1e5"/><stop offset="0.25" stop-color="#2994ed"/><stop offset="0.33" stop-color="#2e85f8"/><stop offset="0.42" stop-color="#3c72ff"/><stop offset="0.5" stop-color="#475dfa"/><stop offset="0.58" stop-color="#484aee"/><stop offset="0.67" stop-color="#463cde"/><stop offset="0.75" stop-color="#4433cd"/><stop offset="0.83" stop-color="#422fc1"/><stop offset="0.92" stop-color="#412cbb"/><stop offset="1" stop-color="#402bb7"/></linearGradient><linearGradient id="g84" x1="0" y1="0" x2="0" y2="1"><stop offset="0" stop-color="#f9fb15"/><stop offset="0.07" stop-color="#f5e128"/><stop offset="0.13" stop-color="#fec735"/><stop offset="0.2" stop-color="#eaba31"/><stop offset="0.27" stop-color="#bbc42f"/><stop offset="0.33" stop-color="#81cc59"/><stop offset="0.4" stop-color="#48cb86"/><stop offset="0.47" stop-color="#29c3aa"/><stop offset="0.53" stop-color="#01b9c7"/><stop offset="0.6" stop-color="#1caadf"/><stop offset="0.67" stop-color="#2797eb"/><stop offset="0.73" stop-color="#2f80fa"/><stop offset="0.8" stop-color="#4367fd"/><stop offset="0.87" stop-color="#484ff2"/><stop offset="0.93" stop-color="#4538d7"/><stop offset="1" stop-color="#3e26a8"/></linearGradient><clipPath id="c85"><rect x="321.25" y="6.25" width="98.25" height="81.05"/></clipPath><linearGradient id="g86"><stop offset="0" stop-color="#2f81fa"/><stop offset="0.08" stop-color="#2f81fa"/><stop offset="0.17" stop-color="#2f81fa"/><stop offset="0.25" stop-color="#2f82f9"/><stop offset="0.33" stop-color="#2d89f5"/><stop offset="0.42" stop-color="#2699e9"/><stop offset="0.5" stop-color="#15afd9"/><stop offset="0.58" stop-color="#21c1b0"/><stop offset="0.67" stop-color="#a4c83e"/><stop offset="0.75" stop-color="#fec239"/><stop offset="0.83" stop-color="#f6de29"/><stop offset="0.92" stop-color="#f5ee21"/><stop offset="1" stop-color="#f6f020"/></linearGradient><linearGradient id="g87"><stop offset="0" stop-color="#2f81fa"/><stop offset="0.08" stop-color="#2f81fa"/><stop offset="0.17" stop-color="#2f81fa"/><stop offset="0.25" stop-color="#2f82f9"/><stop offset="0.33" stop-color="#2d89f5"/><stop offset="0.42" stop-color="#2699e9"/><stop offset="0.5" stop-color="#16afd9"/><stop offset="0.58" stop-color="#23c1af"/><stop offset="0.67" stop-color="#acc738"/><stop offset="0.75" stop-color="#fec636"/><stop offset="0.83" stop-color="#f6e028"/><stop offset="0.92" stop-color="#f6f11e"/><stop offset="1" stop-color="#f6f31d"/></linearGradient><linearGradient id="g88"><stop offset="0" stop-color="#2f81fa"/><stop offset="0.08" stop-color="#2f81fa"/><stop offset="0.17" stop-color="#2f81fa"/><stop offset="0.25" stop-color="#2f82fa"/><stop offset="0.33" stop-color="#2d89f5"/><stop offset="0.42" stop-color="#2699e9"/><stop offset="0.5" stop-color="#14b0d8"/><stop offset="0.58" stop-color="#2fc5a3"/><stop offset="0.67" stop-color="#c0c32d"/><stop offset="0.75" stop-color="#fec934"/><stop offset="0.83" stop-color="#f6e128"/><stop offset="0.92" stop-color="#f7f31d"/><stop offset="1" stop-color="#f6f21d"/></linearGradient><linearGradient id="g89"><stop offset="0" stop-color="#2f81fa"/><stop offset="0.08" stop-color="#2f81fa"/><stop offset="0.17" stop-color="#2f81fa"/><stop offset="0.25" stop-color="#2f82fa"/><stop offset="0.33" stop-color="#2d89f5"/><stop offset="0.42" stop-color="#2699e9"/><stop offset="0.5" stop-color="#10b2d5"/><stop offset="0.58" stop-color="#3fca8e"/><stop offset="0.67" stop-color="#d4bf28"/><stop offset="0.75" stop-color="#fec835"/><stop offset="0.83" stop-color="#f7dc2a"/><stop offset="0.92" stop-color="#f5ee21"/><stop offset="1" stop-color="#f5eb23"/></linearGradient><linearGradient id="g90"><stop offset="0" stop-color="#2f81fa"/><stop offset="0.08" stop-color="#2f81fa"/><stop offset="0.17" stop-color="#2f81fa"/><stop offset="0.25" stop-color="#2f82f9"/><stop offset="0.33" stop-color="#2d89f5"/><stop offset="0.42" stop-color="#2699e9"/><stop offset="0.5" stop-color="#0ab4d1"/><stop offset="0.58" stop-color="#5bcc77"/><stop offset="0.67" stop-color="#e2bc2b"/><stop offset="0.75" stop-color="#fec437"/><stop offset="0.83" stop-color="#fbd22f"/><stop offset="0.92" stop-color="#f5e327"/><stop offset="1" stop-color="#f7dd2a"/></linearGradient><linearGradient id="g91"><stop offset="0" stop-color="#2f81fa"/><stop offset="0.08" stop-color="#2f81fa"/><stop offset="0.17" stop-color="#2f81fa"/><stop offset="0.25" stop-color="#2f82f9"/><stop offset="0.33" stop-color="#2d89f5"/><stop offset="0.42" stop-color="#2699e9"/><stop offset="0.5" stop-color="#06b5cf"/><stop offset="0.58" stop-color="#6acd6a"/><stop offset="0.67" stop-color="#e5bb2d"/><stop offset="0.75" stop-color="#febf3b"/><stop offset="0.83" stop-color="#fec735"/><stop offset="0.92" stop-color="#fbd32f"/><stop offset="1" stop-color="#feca33"/></linearGradient><linearGradient id="g92"><stop offset="0" stop-color="#2f81fa"/><stop offset="0.08" stop-color="#2f81fa"/><stop offset="0.17" stop-color="#2f81fa"/><stop offset="0.25" stop-color="#2f82fa"/><stop offset="0.33" stop-color="#2d89f6"/><stop offset="0.42" stop-color="#2699e9"/><stop offset="0.5" stop-color="#05b6ce"/><stop offset="0.58" stop-color="#60cd72"/><stop offset="0.67" stop-color="#dabd28"/><stop offset="0.75" stop-color="#f9bb3d"/><stop offset="0.83" stop-color="#fdbd3d"/><stop offset="0.92" stop-color="#fec03b"/><stop offset="1" stop-color="#f6ba3b"/></linearGradient><linearGradient id="g93"><stop offset="0" stop-color="#2f81fa"/><stop offset="0.08" stop-color="#2f81fa"/><stop offset="0.17" stop-color="#2f81fa"/><stop offset="0.25" stop-color="#2f82fa"/><stop offset="0.33" stop-color="#2d88f6"/><stop offset="0.42" stop-color="#2699e9"/><stop offset="0.5" stop-color="#07b5d0"/><stop offset="0.58" stop-color="#45cb89"/><stop offset="0.67" stop-color="#c0c32d"/><stop offset="0.75" stop-color="#ecba32"/><stop offset="0.83" stop-color="#edba33"/><stop offset="0.92" stop-color="#e6bb2d"/><stop offset="1" stop-color="#d4bf28"/></linearGradient><linearGradient id="g94"><stop offset="0" stop-color="#2f82fa"/><stop offset="0.08" stop-color="#2f82fa"/><stop offset="0.17" stop-color="#2f81fa"/><stop offset="0.25" stop-color="#2f82fa"/><stop offset="0.33" stop-color="#2d88f6"/><stop offset="0.42" stop-color="#2699e9"/><stop offset="0.5" stop-color="#0fb2d4"/><stop offset="0.58" stop-color="#33c69e"/><stop offset="0.67" stop-color="#9ac945"/><stop offset="0.75" stop-color="#d2bf27"/><stop offset="0.83" stop-color="#d0bf27"/><stop offset="0.92" stop-color="#c0c32d"/><stop offset="1" stop-color="#adc638"/></linearGradient><linearGradient id="g95"><stop offset="0" stop-color="#2f82fa"/><stop offset="0.08" stop-color="#2f82fa"/><stop offset="0.17" stop-color="#2f81fa"/><stop offset="0.25" stop-color="#2f82fa"/><stop offset="0.33" stop-color="#2d87f7"/><stop offset="0.42" stop-color="#2796eb"/><stop offset="0.5" stop-color="#17aeda"/><stop offset="0.58" stop-color="#28c2ab"/><stop offset="0.67" stop-color="#70cd65"/><stop offset="0.75" stop-color="#a5c83d"/><stop offset="0.83" stop-color="#a7c73c"/><stop offset="0.92" stop-color="#99c946"/><stop offset="1" stop-color="#8acb51"/></linearGradient><linearGradient id="g96"><stop offset="0" stop-color="#2f81fa"/><stop offset="0.08" stop-color="#2f81fa"/><stop offset="0.17" stop-color="#2f81fa"/><stop offset="0.25" stop-color="#2f80fa"/><stop offset="0.33" stop-color="#2e85f8"/><stop offset="0.42" stop-color="#2b92ee"/><stop offset="0.5" stop-color="#1ea8e0"/><stop offset="0.58" stop-color="#15bfb7"/><stop offset="0.67" stop-color="#4ccb83"/><stop offset="0.75" stop-color="#76cc61"/><stop offset="0.83" stop-color="#7fcc5a"/><stop offset="0.92" stop-color="#7bcc5d"/><stop offset="1" stop-color="#72cd63"/></linearGradient><linearGradient id="g97"><stop offset="0" stop-color="#2f80fa"/><stop offset="0.08" stop-color="#3080fa"/><stop offset="0.17" stop-color="#307efb"/><stop offset="0.25" stop-color="#317dfb"/><stop offset="0.33" stop-color="#2f80fa"/><stop offset="0.42" stop-color="#2d8bf4"/><stop offset="0.5" stop-color="#249fe5"/><stop offset="0.58" stop-color="#01b9c7"/><stop offset="0.67" stop-color="#36c799"/><stop offset="0.75" stop-color="#59cc78"/><stop offset="0.83" stop-color="#69cd6b"/><stop offset="0.92" stop-color="#6dcd67"/><stop offset="1" stop-color="#69cd6b"/></linearGradient><linearGradient id="g98"><stop offset="0" stop-color="#307efb"/><stop offset="0.08" stop-color="#317dfb"/><stop offset="0.17" stop-color="#337afd"/><stop offset="0.25" stop-color="#3678fd"/><stop offset="0.33" stop-color="#3579fd"/><stop offset="0.42" stop-color="#2f82fa"/><stop offset="0.5" stop-color="#2895ec"/><stop offset="0.58" stop-color="#12b1d7"/><stop offset="0.67" stop-color="#29c3aa"/><stop offset="0.75" stop-color="#4bcb84"/><stop offset="0.83" stop-color="#61cd71"/><stop offset="0.92" stop-color="#6acd6a"/><stop offset="1" stop-color="#68cd6c"/></linearGradient><linearGradient id="g99"><stop offset="0" stop-color="#327cfc"/><stop offset="0.08" stop-color="#347afd"/><stop offset="0.17" stop-color="#3974fe"/><stop offset="0.25" stop-color="#3e6fff"/><stop offset="0.33" stop-color="#3e6fff"/><stop offset="0.42" stop-color="#3777fe"/><stop offset="0.5" stop-color="#2d8af4"/><stop offset="0.58" stop-color="#1ea6e1"/><stop offset="0.67" stop-color="#15bfb7"/><stop offset="0.75" stop-color="#40ca8d"/><stop offset="0.83" stop-color="#5dcc75"/><stop offset="0.92" stop-color="#68cd6c"/><stop offset="1" stop-color="#68cd6b"/></linearGradient><linearGradient id="g100"><stop offset="0" stop-color="#3479fd"/><stop offset="0.08" stop-color="#3975fe"/><stop offset="0.17" stop-color="#416cfe"/><stop offset="0.25" stop-color="#4464fd"/><stop offset="0.33" stop-color="#4564fd"/><stop offset="0.42" stop-color="#406cfe"/><stop offset="0.5" stop-color="#2f80fa"/><stop offset="0.58" stop-color="#249de7"/><stop offset="0.67" stop-color="#02bbc3"/><stop offset="0.75" stop-color="#38c896"/><stop offset="0.83" stop-color="#57cc7a"/><stop offset="0.92" stop-color="#64cd6f"/><stop offset="1" stop-color="#68cd6b"/></linearGradient><linearGradient id="g101"><stop offset="0" stop-color="#3876fe"/><stop offset="0.08" stop-color="#3f6dfe"/><stop offset="0.17" stop-color="#4660fc"/><stop offset="0.25" stop-color="#4757f7"/><stop offset="0.33" stop-color="#4758f8"/><stop offset="0.42" stop-color="#4564fd"/><stop offset="0.5" stop-color="#3579fd"/><stop offset="0.58" stop-color="#2796eb"/><stop offset="0.67" stop-color="#02b7cb"/><stop offset="0.75" stop-color="#34c79c"/><stop offset="0.83" stop-color="#53cc7d"/><stop offset="0.92" stop-color="#61cd71"/><stop offset="1" stop-color="#68cd6b"/></linearGradient><linearGradient id="g102"><stop offset="0" stop-color="#3d70ff"/><stop offset="0.08" stop-color="#4563fd"/><stop offset="0.17" stop-color="#4851f4"/><stop offset="0.25" stop-color="#4747eb"/><stop offset="0.33" stop-color="#484df0"/><stop offset="0.42" stop-color="#465efb"/><stop offset="0.5" stop-color="#3875fe"/><stop offset="0.58" stop-color="#2a93ee"/><stop offset="0.67" stop-color="#06b5ce"/><stop offset="0.75" stop-color="#33c69e"/><stop offset="0.83" stop-color="#53cc7d"/><stop offset="0.92" stop-color="#60cd72"/><stop offset="1" stop-color="#68cd6b"/></linearGradient><linearGradient id="g103"><stop offset="0" stop-color="#4368fe"/><stop offset="0.08" stop-color="#4756f7"/><stop offset="0.17" stop-color="#4740e4"/><stop offset="0.25" stop-color="#4538d7"/><stop offset="0.33" stop-color="#4743e8"/><stop offset="0.42" stop-color="#475bfa"/><stop offset="0.5" stop-color="#3876fe"/><stop offset="0.58" stop-color="#2b92ee"/><stop offset="0.67" stop-color="#07b5cf"/><stop offset="0.75" stop-color="#33c69d"/><stop offset="0.83" stop-color="#54cc7c"/><stop offset="0.92" stop-color="#61cd72"/><stop offset="1" stop-color="#68cd6b"/></linearGradient><linearGradient id="g104"><stop offset="0" stop-color="#465efb"/><stop offset="0.08" stop-color="#4746ea"/><stop offset="0.17" stop-color="#4331c8"/><stop offset="0.25" stop-color="#422fc0"/><stop offset="0.33" stop-color="#473fe3"/><stop offset="0.42" stop-color="#475cfa"/><stop offset="0.5" stop-color="#3678fe"/><stop offset="0.58" stop-color="#2a93ee"/><stop offset="0.67" stop-color="#07b5cf"/><stop offset="0.75" stop-color="#33c69d"/><stop offset="0.83" stop-color="#55cc7c"/><stop offset="0.92" stop-color="#61cd71"/><stop offset="1" stop-color="#68cd6b"/></linearGradient><linearGradient id="g105"><stop offset="0" stop-color="#4850f3"/><stop offset="0.08" stop-color="#4536d3"/><stop offset="0.17" stop-color="#3e27aa"/><stop offset="0.25" stop-color="#402ab4"/><stop offset="0.33" stop-color="#4740e4"/><stop offset="0.42" stop-color="#4660fc"/><stop offset="0.5" stop-color="#337bfd"/><stop offset="0.58" stop-color="#2993ed"/><stop offset="0.67" stop-color="#06b5cf"/><stop offset="0.75" stop-color="#33c69d"/><stop offset="0.83" stop-color="#54cc7c"/><stop offset="0.92" stop-color="#61cd71"/><stop offset="1" stop-color="#68cd6b"/></linearGradient><linearGradient id="g106"><stop offset="0" stop-color="#4740e4"/><stop offset="0.08" stop-color="#3f29b2"/><stop offset="0.17" stop-color="#3e26a8"/><stop offset="0.25" stop-color="#402ab3"/><stop offset="0.33" stop-color="#4746ea"/><stop offset="0.42" stop-color="#4466fd"/><stop offset="0.5" stop-color="#317dfb"/><stop offset="0.58" stop-color="#2994ed"/><stop offset="0.67" stop-color="#06b5cf"/><stop offset="0.75" stop-color="#33c69d"/><stop offset="0.83" stop-color="#54cc7c"/><stop offset="0.92" stop-color="#61cd71"/><stop offset="1" stop-color="#68cd6b"/></linearGradient><linearGradient id="g107"><stop offset="0" stop-color="#4331c8"/><stop offset="0.08" stop-color="#3e26a8"/><stop offset="0.17" stop-color="#3e26a8"/><stop offset="0.25" stop-color="#422ebf"/><stop offset="0.33" stop-color="#484ff2"/><stop offset="0.42" stop-color="#416cfe"/><stop offset="0.5" stop-color="#3080fa"/><stop offset="0.58" stop-color="#2895ec"/><stop offset="0.67" stop-color="#06b5cf"/><stop offset="0.75" stop-color="#33c69d"/><stop offset="0.83" stop-color="#54cc7c"/><stop offset="0.92" stop-color="#61cd71"/><stop offset="1" stop-color="#68cd6b"/></linearGradient><linearGradient id="g108"><stop offset="0" stop-color="#3e27a9"/><stop offset="0.08" stop-color="#3e26a8"/><stop offset="0.17" stop-color="#3e26a8"/><stop offset="0.25" stop-color="#4536d3"/><stop offset="0.33" stop-color="#4759f8"/><stop offset="0.42" stop-color="#3c71ff"/><stop offset="0.5" stop-color="#2f82fa"/><stop offset="0.58" stop-color="#2895ec"/><stop offset="0.67" stop-color="#06b5ce"/><stop offset="0.75" stop-color="#33c69d"/><stop offset="0.83" stop-color="#54cc7c"/><stop offset="0.92" stop-color="#61cd71"/><stop offset="1" stop-color="#68cd6b"/></linearGradient><linearGradient id="g109"><stop offset="0" stop-color="#3e26a8"/><stop offset="0.08" stop-color="#3e26a8"/><stop offset="0.17" stop-color="#3e26a8"/><stop offset="0.25" stop-color="#4742e6"/><stop offset="0.33" stop-color="#4563fc"/><stop offset="0.42" stop-color="#3776fe"/><stop offset="0.5" stop-color="#2e83f9"/><stop offset="0.58" stop-color="#2896ec"/><stop offset="0.67" stop-color="#06b5ce"/><stop offset="0.75" stop-color="#33c79d"/><stop offset="0.83" stop-color="#54cc7c"/><stop offset="0.92" stop-color="#61cd71"/><stop offset="1" stop-color="#68cd6b"/></linearGradient><linearGradient id="g110"><stop offset="0" stop-color="#3e26a8"/><stop offset="0.08" stop-color="#3e26a8"/><stop offset="0.17" stop-color="#4230c4"/><stop offset="0.25" stop-color="#4850f2"/><stop offset="0.33" stop-color="#416cfe"/><stop offset="0.42" stop-color="#347afd"/><stop offset="0.5" stop-color="#2e84f8"/><stop offset="0.58" stop-color="#2896ec"/><stop offset="0.67" stop-color="#06b5ce"/><stop offset="0.75" stop-color="#33c79d"/><stop offset="0.83" stop-color="#54cc7c"/><stop offset="0.92" stop-color="#61cd71"/><stop offset="1" stop-color="#68cd6b"/></linearGradient><linearGradient id="g111"><stop offset="0" stop-color="#3e26a8"/><stop offset="0.08" stop-color="#3e26a8"/><stop offset="0.17" stop-color="#4536d3"/><stop offset="0.25" stop-color="#4756f7"/><stop offset="0.33" stop-color="#3e6fff"/><stop offset="0.42" stop-color="#337bfc"/><stop offset="0.5" stop-color="#2e84f8"/><stop offset="0.58" stop-color="#2896eb"/><stop offset="0.67" stop-color="#06b5ce"/><stop offset="0.75" stop-color="#33c69d"/><stop offset="0.83" stop-color="#54cc7c"/><stop offset="0.92" stop-color="#61cd71"/><stop offset="1" stop-color="#68cd6b"/></linearGradient><linearGradient id="g112" x1="0" y1="0" x2="0" y2="1"><stop offset="0" stop-color="#f9fb15"/><stop offset="0.07" stop-color="#f5e128"/><stop offset="0.13" stop-color="#fec735"/><stop offset="0.2" stop-color="#eaba31"/><stop offset="0.27" stop-color="#bbc42f"/><stop offset="0.33" stop-color="#81cc59"/><stop offset="0.4" stop-color="#48cb86"/><stop offset="0.47" stop-color="#29c3aa"/><stop offset="0.53" stop-color="#01b9c7"/><stop offset="0.6" stop-color="#1caadf"/><stop offset="0.67" stop-color="#2797eb"/><stop offset="0.73" stop-color="#2f80fa"/><stop offset="0.8" stop-color="#4367fd"/><stop offset="0.87" stop-color="#484ff2"/><stop offset="0.93" stop-color="#4538d7"/><stop offset="1" stop-color="#3e26a8"/></linearGradient><clipPath id="c113"><rect x="320" y="138.75" width="99.5" height="81.25"/></clipPath><linearGradient id="g114"><stop offset="0" stop-color="#2f81fa"/><stop offset="0.08" stop-color="#2f81fa"/><stop offset="0.17" stop-color="#2f81fa"/><stop offset="0.25" stop-color="#2f82f9"/><stop offset="0.33" stop-color="#2d89f5"/><stop offset="0.42" stop-color="#2699e9"/><stop offset="0.5" stop-color="#15afd9"/><stop offset="0.58" stop-color="#21c1b0"/><stop offset="0.67" stop-color="#a4c83e"/><stop offset="0.75" stop-color="#fec239"/><stop offset="0.83" stop-color="#f6de29"/><stop offset="0.92" stop-color="#f5ee21"/><stop offset="1" stop-color="#f6f020"/></linearGradient><linearGradient id="g115"><stop offset="0" stop-color="#2f81fa"/><stop offset="0.08" stop-color="#2f81fa"/><stop offset="0.17" stop-color="#2f81fa"/><stop offset="0.25" stop-color="#2f82f9"/><stop offset="0.33" stop-color="#2d89f5"/><stop offset="0.42" stop-color="#2699e9"/><stop offset="0.5" stop-color="#16afd9"/><stop offset="0.58" stop-color="#23c1af"/><stop offset="0.67" stop-color="#acc738"/><stop offset="0.75" stop-color="#fec636"/><stop offset="0.83" stop-color="#f6e028"/><stop offset="0.92" stop-color="#f6f11e"/><stop offset="1" stop-color="#f6f31d"/></linearGradient><linearGradient id="g116"><stop offset="0" stop-color="#2f81fa"/><stop offset="0.08" stop-color="#2f81fa"/><stop offset="0.17" stop-color="#2f81fa"/><stop offset="0.25" stop-color="#2f82fa"/><stop offset="0.33" stop-color="#2d89f5"/><stop offset="0.42" stop-color="#2699e9"/><stop offset="0.5" stop-color="#14b0d8"/><stop offset="0.58" stop-color="#2fc5a3"/><stop offset="0.67" stop-color="#c0c32d"/><stop offset="0.75" stop-color="#fec934"/><stop offset="0.83" stop-color="#f6e128"/><stop offset="0.92" stop-color="#f7f31d"/><stop offset="1" stop-color="#f6f21d"/></linearGradient><linearGradient id="g117"><stop offset="0" stop-color="#2f81fa"/><stop offset="0.08" stop-color="#2f81fa"/><stop offset="0.17" stop-color="#2f81fa"/><stop offset="0.25" stop-color="#2f82fa"/><stop offset="0.33" stop-color="#2d89f5"/><stop offset="0.42" stop-color="#2699e9"/><stop offset="0.5" stop-color="#10b2d5"/><stop offset="0.58" stop-color="#3fca8e"/><stop offset="0.67" stop-color="#d4bf28"/><stop offset="0.75" stop-color="#fec835"/><stop offset="0.83" stop-color="#f7dc2a"/><stop offset="0.92" stop-color="#f5ee21"/><stop offset="1" stop-color="#f5eb23"/></linearGradient><linearGradient id="g118"><stop offset="0" stop-color="#2f81fa"/><stop offset="0.08" stop-color="#2f81fa"/><stop offset="0.17" stop-color="#2f81fa"/><stop offset="0.25" stop-color="#2f82f9"/><stop offset="0.33" stop-color="#2d89f5"/><stop offset="0.42" stop-color="#2699e9"/><stop offset="0.5" stop-color="#0ab4d1"/><stop offset="0.58" stop-color="#5bcc77"/><stop offset="0.67" stop-color="#e2bc2b"/><stop offset="0.75" stop-color="#fec437"/><stop offset="0.83" stop-color="#fbd22f"/><stop offset="0.92" stop-color="#f5e327"/><stop offset="1" stop-color="#f7dd2a"/></linearGradient><linearGradient id="g119"><stop offset="0" stop-color="#2f81fa"/><stop offset="0.08" stop-color="#2f81fa"/><stop offset="0.17" stop-color="#2f81fa"/><stop offset="0.25" stop-color="#2f82f9"/><stop offset="0.33" stop-color="#2d89f5"/><stop offset="0.42" stop-color="#2699e9"/><stop offset="0.5" stop-color="#06b5cf"/><stop offset="0.58" stop-color="#6acd6a"/><stop offset="0.67" stop-color="#e5bb2d"/><stop offset="0.75" stop-color="#febf3b"/><stop offset="0.83" stop-color="#fec735"/><stop offset="0.92" stop-color="#fbd32f"/><stop offset="1" stop-color="#feca33"/></linearGradient><linearGradient id="g120"><stop offset="0" stop-color="#2f81fa"/><stop offset="0.08" stop-color="#2f81fa"/><stop offset="0.17" stop-color="#2f81fa"/><stop offset="0.25" stop-color="#2f82fa"/><stop offset="0.33" stop-color="#2d89f6"/><stop offset="0.42" stop-color="#2699e9"/><stop offset="0.5" stop-color="#05b6ce"/><stop offset="0.58" stop-color="#60cd72"/><stop offset="0.67" stop-color="#dabd28"/><stop offset="0.75" stop-color="#f9bb3d"/><stop offset="0.83" stop-color="#fdbd3d"/><stop offset="0.92" stop-color="#fec03b"/><stop offset="1" stop-color="#f6ba3b"/></linearGradient><linearGradient id="g121"><stop offset="0" stop-color="#2f81fa"/><stop offset="0.08" stop-color="#2f81fa"/><stop offset="0.17" stop-color="#2f81fa"/><stop offset="0.25" stop-color="#2f82fa"/><stop offset="0.33" stop-color="#2d88f6"/><stop offset="0.42" stop-color="#2699e9"/><stop offset="0.5" stop-color="#07b5d0"/><stop offset="0.58" stop-color="#45cb89"/><stop offset="0.67" stop-color="#c0c32d"/><stop offset="0.75" stop-color="#ecba32"/><stop offset="0.83" stop-color="#edba33"/><stop offset="0.92" stop-color="#e6bb2d"/><stop offset="1" stop-color="#d4bf28"/></linearGradient><linearGradient id="g122"><stop offset="0" stop-color="#2f82fa"/><stop offset="0.08" stop-color="#2f82fa"/><stop offset="0.17" stop-color="#2f81fa"/><stop offset="0.25" stop-color="#2f82fa"/><stop offset="0.33" stop-color="#2d88f6"/><stop offset="0.42" stop-color="#2699e9"/><stop offset="0.5" stop-color="#0fb2d4"/><stop offset="0.58" stop-color="#33c69e"/><stop offset="0.67" stop-color="#9ac945"/><stop offset="0.75" stop-color="#d2bf27"/><stop offset="0.83" stop-color="#d0bf27"/><stop offset="0.92" stop-color="#c0c32d"/><stop offset="1" stop-color="#adc638"/></linearGradient><linearGradient id="g123"><stop offset="0" stop-color="#2f82fa"/><stop offset="0.08" stop-color="#2f82fa"/><stop offset="0.17" stop-color="#2f81fa"/><stop offset="0.25" stop-color="#2f82fa"/><stop offset="0.33" stop-color="#2d87f7"/><stop offset="0.42" stop-color="#2796eb"/><stop offset="0.5" stop-color="#17aeda"/><stop offset="0.58" stop-color="#28c2ab"/><stop offset="0.67" stop-color="#70cd65"/><stop offset="0.75" stop-color="#a5c83d"/><stop offset="0.83" stop-color="#a7c73c"/><stop offset="0.92" stop-color="#99c946"/><stop offset="1" stop-color="#8acb51"/></linearGradient><linearGradient id="g124"><stop offset="0" stop-color="#2f81fa"/><stop offset="0.08" stop-color="#2f81fa"/><stop offset="0.17" stop-color="#2f81fa"/><stop offset="0.25" stop-color="#2f80fa"/><stop offset="0.33" stop-color="#2e85f8"/><stop offset="0.42" stop-color="#2b92ee"/><stop offset="0.5" stop-color="#1ea8e0"/><stop offset="0.58" stop-color="#15bfb7"/><stop offset="0.67" stop-color="#4ccb83"/><stop offset="0.75" stop-color="#76cc61"/><stop offset="0.83" stop-color="#7fcc5a"/><stop offset="0.92" stop-color="#7bcc5d"/><stop offset="1" stop-color="#72cd63"/></linearGradient><linearGradient id="g125"><stop offset="0" stop-color="#2f80fa"/><stop offset="0.08" stop-color="#3080fa"/><stop offset="0.17" stop-color="#307efb"/><stop offset="0.25" stop-color="#317dfb"/><stop offset="0.33" stop-color="#2f80fa"/><stop offset="0.42" stop-color="#2d8bf4"/><stop offset="0.5" stop-color="#249fe5"/><stop offset="0.58" stop-color="#01b9c7"/><stop offset="0.67" stop-color="#36c799"/><stop offset="0.75" stop-color="#59cc78"/><stop offset="0.83" stop-color="#69cd6b"/><stop offset="0.92" stop-color="#6dcd67"/><stop offset="1" stop-color="#69cd6b"/></linearGradient><linearGradient id="g126"><stop offset="0" stop-color="#307efb"/><stop offset="0.08" stop-color="#317dfb"/><stop offset="0.17" stop-color="#337afd"/><stop offset="0.25" stop-color="#3678fd"/><stop offset="0.33" stop-color="#3579fd"/><stop offset="0.42" stop-color="#2f82fa"/><stop offset="0.5" stop-color="#2895ec"/><stop offset="0.58" stop-color="#12b1d7"/><stop offset="0.67" stop-color="#29c3aa"/><stop offset="0.75" stop-color="#4bcb84"/><stop offset="0.83" stop-color="#61cd71"/><stop offset="0.92" stop-color="#6acd6a"/><stop offset="1" stop-color="#68cd6c"/></linearGradient><linearGradient id="g127"><stop offset="0" stop-color="#327cfc"/><stop offset="0.08" stop-color="#347afd"/><stop offset="0.17" stop-color="#3974fe"/><stop offset="0.25" stop-color="#3e6fff"/><stop offset="0.33" stop-color="#3e6fff"/><stop offset="0.42" stop-color="#3777fe"/><stop offset="0.5" stop-color="#2d8af4"/><stop offset="0.58" stop-color="#1ea6e1"/><stop offset="0.67" stop-color="#15bfb7"/><stop offset="0.75" stop-color="#40ca8d"/><stop offset="0.83" stop-color="#5dcc75"/><stop offset="0.92" stop-color="#68cd6c"/><stop offset="1" stop-color="#68cd6b"/></linearGradient><linearGradient id="g128"><stop offset="0" stop-color="#3479fd"/><stop offset="0.08" stop-color="#3975fe"/><stop offset="0.17" stop-color="#416cfe"/><stop offset="0.25" stop-color="#4464fd"/><stop offset="0.33" stop-color="#4564fd"/><stop offset="0.42" stop-color="#406cfe"/><stop offset="0.5" stop-color="#2f80fa"/><stop offset="0.58" stop-color="#249de7"/><stop offset="0.67" stop-color="#02bbc3"/><stop offset="0.75" stop-color="#38c896"/><stop offset="0.83" stop-color="#57cc7a"/><stop offset="0.92" stop-color="#64cd6f"/><stop offset="1" stop-color="#68cd6b"/></linearGradient><linearGradient id="g129"><stop offset="0" stop-color="#3876fe"/><stop offset="0.08" stop-color="#3f6dfe"/><stop offset="0.17" stop-color="#4660fc"/><stop offset="0.25" stop-color="#4757f7"/><stop offset="0.33" stop-color="#4758f8"/><stop offset="0.42" stop-color="#4564fd"/><stop offset="0.5" stop-color="#3579fd"/><stop offset="0.58" stop-color="#2796eb"/><stop offset="0.67" stop-color="#02b7cb"/><stop offset="0.75" stop-color="#34c79c"/><stop offset="0.83" stop-color="#53cc7d"/><stop offset="0.92" stop-color="#61cd71"/><stop offset="1" stop-color="#68cd6b"/></linearGradient><linearGradient id="g130"><stop offset="0" stop-color="#3d70ff"/><stop offset="0.08" stop-color="#4563fd"/><stop offset="0.17" stop-color="#4851f4"/><stop offset="0.25" stop-color="#4747eb"/><stop offset="0.33" stop-color="#484df0"/><stop offset="0.42" stop-color="#465efb"/><stop offset="0.5" stop-color="#3875fe"/><stop offset="0.58" stop-color="#2a93ee"/><stop offset="0.67" stop-color="#06b5ce"/><stop offset="0.75" stop-color="#33c69e"/><stop offset="0.83" stop-color="#53cc7d"/><stop offset="0.92" stop-color="#60cd72"/><stop offset="1" stop-color="#68cd6b"/></linearGradient><linearGradient id="g131"><stop offset="0" stop-color="#4368fe"/><stop offset="0.08" stop-color="#4756f7"/><stop offset="0.17" stop-color="#4740e4"/><stop offset="0.25" stop-color="#4538d7"/><stop offset="0.33" stop-color="#4743e8"/><stop offset="0.42" stop-color="#475bfa"/><stop offset="0.5" stop-color="#3876fe"/><stop offset="0.58" stop-color="#2b92ee"/><stop offset="0.67" stop-color="#07b5cf"/><stop offset="0.75" stop-color="#33c69d"/><stop offset="0.83" stop-color="#54cc7c"/><stop offset="0.92" stop-color="#61cd72"/><stop offset="1" stop-color="#68cd6b"/></linearGradient><linearGradient id="g132"><stop offset="0" stop-color="#465efb"/><stop offset="0.08" stop-color="#4746ea"/><stop offset="0.17" stop-color="#4331c8"/><stop offset="0.25" stop-color="#422fc0"/><stop offset="0.33" stop-color="#473fe3"/><stop offset="0.42" stop-color="#475cfa"/><stop offset="0.5" stop-color="#3678fe"/><stop offset="0.58" stop-color="#2a93ee"/><stop offset="0.67" stop-color="#07b5cf"/><stop offset="0.75" stop-color="#33c69d"/><stop offset="0.83" stop-color="#55cc7c"/><stop offset="0.92" stop-color="#61cd71"/><stop offset="1" stop-color="#68cd6b"/></linearGradient><linearGradient id="g133"><stop offset="0" stop-color="#4850f3"/><stop offset="0.08" stop-color="#4536d3"/><stop offset="0.17" stop-color="#3e27aa"/><stop offset="0.25" stop-color="#402ab4"/><stop offset="0.33" stop-color="#4740e4"/><stop offset="0.42" stop-color="#4660fc"/><stop offset="0.5" stop-color="#337bfd"/><stop offset="0.58" stop-color="#2993ed"/><stop offset="0.67" stop-color="#06b5cf"/><stop offset="0.75" stop-color="#33c69d"/><stop offset="0.83" stop-color="#54cc7c"/><stop offset="0.92" stop-color="#61cd71"/><stop offset="1" stop-color="#68cd6b"/></linearGradient><linearGradient id="g134"><stop offset="0" stop-color="#4740e4"/><stop offset="0.08" stop-color="#3f29b2"/><stop offset="0.17" stop-color="#3e26a8"/><stop offset="0.25" stop-color="#402ab3"/><stop offset="0.33" stop-color="#4746ea"/><stop offset="0.42" stop-color="#4466fd"/><stop offset="0.5" stop-color="#317dfb"/><stop offset="0.58" stop-color="#2994ed"/><stop offset="0.67" stop-color="#06b5cf"/><stop offset="0.75" stop-color="#33c69d"/><stop offset="0.83" stop-color="#54cc7c"/><stop offset="0.92" stop-color="#61cd71"/><stop offset="1" stop-color="#68cd6b"/></linearGradient><linearGradient id="g135"><stop offset="0" stop-color="#4331c8"/><stop offset="0.08" stop-color="#3e26a8"/><stop offset="0.17" stop-color="#3e26a8"/><stop offset="0.25" stop-color="#422ebf"/><stop offset="0.33" stop-color="#484ff2"/><stop offset="0.42" stop-color="#416cfe"/><stop offset="0.5" stop-color="#3080fa"/><stop offset="0.58" stop-color="#2895ec"/><stop offset="0.67" stop-color="#06b5cf"/><stop offset="0.75" stop-color="#33c69d"/><stop offset="0.83" stop-color="#54cc7c"/><stop offset="0.92" stop-color="#61cd71"/><stop offset="1" stop-color="#68cd6b"/></linearGradient><linearGradient id="g136"><stop offset="0" stop-color="#3e27a9"/><stop offset="0.08" stop-color="#3e26a8"/><stop offset="0.17" stop-color="#3e26a8"/><stop offset="0.25" stop-color="#4536d3"/><stop offset="0.33" stop-color="#4759f8"/><stop offset="0.42" stop-color="#3c71ff"/><stop offset="0.5" stop-color="#2f82fa"/><stop offset="0.58" stop-color="#2895ec"/><stop offset="0.67" stop-color="#06b5ce"/><stop offset="0.75" stop-color="#33c69d"/><stop offset="0.83" stop-color="#54cc7c"/><stop offset="0.92" stop-color="#61cd71"/><stop offset="1" stop-color="#68cd6b"/></linearGradient><linearGradient id="g137"><stop offset="0" stop-color="#3e26a8"/><stop offset="0.08" stop-color="#3e26a8"/><stop offset="0.17" stop-color="#3e26a8"/><stop offset="0.25" stop-color="#4742e6"/><stop offset="0.33" stop-color="#4563fc"/><stop offset="0.42" stop-color="#3776fe"/><stop offset="0.5" stop-color="#2e83f9"/><stop offset="0.58" stop-color="#2896ec"/><stop offset="0.67" stop-color="#06b5ce"/><stop offset="0.75" stop-color="#33c79d"/><stop offset="0.83" stop-color="#54cc7c"/><stop offset="0.92" stop-color="#61cd71"/><stop offset="1" stop-color="#68cd6b"/></linearGradient><linearGradient id="g138"><stop offset="0" stop-color="#3e26a8"/><stop offset="0.08" stop-color="#3e26a8"/><stop offset="0.17" stop-color="#4230c4"/><stop offset="0.25" stop-color="#4850f2"/><stop offset="0.33" stop-color="#416cfe"/><stop offset="0.42" stop-color="#347afd"/><stop offset="0.5" stop-color="#2e84f8"/><stop offset="0.58" stop-color="#2896ec"/><stop offset="0.67" stop-color="#06b5ce"/><stop offset="0.75" stop-color="#33c79d"/><stop offset="0.83" stop-color="#54cc7c"/><stop offset="0.92" stop-color="#61cd71"/><stop offset="1" stop-color="#68cd6b"/></linearGradient><linearGradient id="g139"><stop offset="0" stop-color="#3e26a8"/><stop offset="0.08" stop-color="#3e26a8"/><stop offset="0.17" stop-color="#4536d3"/><stop offset="0.25" stop-color="#4756f7"/><stop offset="0.33" stop-color="#3e6fff"/><stop offset="0.42" stop-color="#337bfc"/><stop offset="0.5" stop-color="#2e84f8"/><stop offset="0.58" stop-color="#2896eb"/><stop offset="0.67" stop-color="#06b5ce"/><stop offset="0.75" stop-color="#33c69d"/><stop offset="0.83" stop-color="#54cc7c"/><stop offset="0.92" stop-color="#61cd71"/><stop offset="1" stop-color="#68cd6b"/></linearGradient><linearGradient id="g140" x1="0" y1="0" x2="0" y2="1"><stop offset="0" stop-color="#f9fb15"/><stop offset="0.07" stop-color="#f5e128"/><stop offset="0.13" stop-color="#fec735"/><stop offset="0.2" stop-color="#eaba31"/><stop offset="0.27" stop-color="#bbc42f"/><stop offset="0.33" stop-color="#81cc59"/><stop offset="0.4" stop-color="#48cb86"/><stop offset="0.47" stop-color="#29c3aa"/><stop offset="0.53" stop-color="#01b9c7"/><stop offset="0.6" stop-color="#1caadf"/><stop offset="0.67" stop-color="#2797eb"/><stop offset="0.73" stop-color="#2f80fa"/><stop offset="0.8" stop-color="#4367fd"/><stop offset="0.87" stop-color="#484ff2"/><stop offset="0.93" stop-color="#4538d7"/><stop offset="1" stop-color="#3e26a8"/></linearGradient><clipPath id="c141"><rect x="319.25" y="277" width="98.75" height="81.2"/></clipPath><linearGradient id="g142"><stop offset="0" stop-color="#2f81fa"/><stop offset="0.08" stop-color="#2f81fa"/><stop offset="0.17" stop-color="#2f81fa"/><stop offset="0.25" stop-color="#2f82f9"/><stop offset="0.33" stop-color="#2d89f5"/><stop offset="0.42" stop-color="#2699e9"/><stop offset="0.5" stop-color="#15afd9"/><stop offset="0.58" stop-color="#21c1b0"/><stop offset="0.67" stop-color="#a4c83e"/><stop offset="0.75" stop-color="#fec239"/><stop offset="0.83" stop-color="#f6de29"/><stop offset="0.92" stop-color="#f5ee21"/><stop offset="1" stop-color="#f6f020"/></linearGradient><linearGradient id="g143"><stop offset="0" stop-color="#2f81fa"/><stop offset="0.08" stop-color="#2f81fa"/><stop offset="0.17" stop-color="#2f81fa"/><stop offset="0.25" stop-color="#2f82f9"/><stop offset="0.33" stop-color="#2d89f5"/><stop offset="0.42" stop-color="#2699e9"/><stop offset="0.5" stop-color="#16afd9"/><stop offset="0.58" stop-color="#23c1af"/><stop offset="0.67" stop-color="#acc738"/><stop offset="0.75" stop-color="#fec636"/><stop offset="0.83" stop-color="#f6e028"/><stop offset="0.92" stop-color="#f6f11e"/><stop offset="1" stop-color="#f6f31d"/></linearGradient><linearGradient id="g144"><stop offset="0" stop-color="#2f81fa"/><stop offset="0.08" stop-color="#2f81fa"/><stop offset="0.17" stop-color="#2f81fa"/><stop offset="0.25" stop-color="#2f82fa"/><stop offset="0.33" stop-color="#2d89f5"/><stop offset="0.42" stop-color="#2699e9"/><stop offset="0.5" stop-color="#14b0d8"/><stop offset="0.58" stop-color="#2fc5a3"/><stop offset="0.67" stop-color="#c0c32d"/><stop offset="0.75" stop-color="#fec934"/><stop offset="0.83" stop-color="#f6e128"/><stop offset="0.92" stop-color="#f7f31d"/><stop offset="1" stop-color="#f6f21d"/></linearGradient><linearGradient id="g145"><stop offset="0" stop-color="#2f81fa"/><stop offset="0.08" stop-color="#2f81fa"/><stop offset="0.17" stop-color="#2f81fa"/><stop offset="0.25" stop-color="#2f82fa"/><stop offset="0.33" stop-color="#2d89f5"/><stop offset="0.42" stop-color="#2699e9"/><stop offset="0.5" stop-color="#10b2d5"/><stop offset="0.58" stop-color="#3fca8e"/><stop offset="0.67" stop-color="#d4bf28"/><stop offset="0.75" stop-color="#fec835"/><stop offset="0.83" stop-color="#f7dc2a"/><stop offset="0.92" stop-color="#f5ee21"/><stop offset="1" stop-color="#f5eb23"/></linearGradient><linearGradient id="g146"><stop offset="0" stop-color="#2f81fa"/><stop offset="0.08" stop-color="#2f81fa"/><stop offset="0.17" stop-color="#2f81fa"/><stop offset="0.25" stop-color="#2f82f9"/><stop offset="0.33" stop-color="#2d89f5"/><stop offset="0.42" stop-color="#2699e9"/><stop offset="0.5" stop-color="#0ab4d1"/><stop offset="0.58" stop-color="#5bcc77"/><stop offset="0.67" stop-color="#e2bc2b"/><stop offset="0.75" stop-color="#fec437"/><stop offset="0.83" stop-color="#fbd22f"/><stop offset="0.92" stop-color="#f5e327"/><stop offset="1" stop-color="#f7dd2a"/></linearGradient><linearGradient id="g147"><stop offset="0" stop-color="#2f81fa"/><stop offset="0.08" stop-color="#2f81fa"/><stop offset="0.17" stop-color="#2f81fa"/><stop offset="0.25" stop-color="#2f82f9"/><stop offset="0.33" stop-color="#2d89f5"/><stop offset="0.42" stop-color="#2699e9"/><stop offset="0.5" stop-color="#06b5cf"/><stop offset="0.58" stop-color="#6acd6a"/><stop offset="0.67" stop-color="#e5bb2d"/><stop offset="0.75" stop-color="#febf3b"/><stop offset="0.83" stop-color="#fec735"/><stop offset="0.92" stop-color="#fbd32f"/><stop offset="1" stop-color="#feca33"/></linearGradient><linearGradient id="g148"><stop offset="0" stop-color="#2f81fa"/><stop offset="0.08" stop-color="#2f81fa"/><stop offset="0.17" stop-color="#2f81fa"/><stop offset="0.25" stop-color="#2f82fa"/><stop offset="0.33" stop-color="#2d89f6"/><stop offset="0.42" stop-color="#2699e9"/><stop offset="0.5" stop-color="#05b6ce"/><stop offset="0.58" stop-color="#60cd72"/><stop offset="0.67" stop-color="#dabd28"/><stop offset="0.75" stop-color="#f9bb3d"/><stop offset="0.83" stop-color="#fdbd3d"/><stop offset="0.92" stop-color="#fec03b"/><stop offset="1" stop-color="#f6ba3b"/></linearGradient><linearGradient id="g149"><stop offset="0" stop-color="#2f81fa"/><stop offset="0.08" stop-color="#2f81fa"/><stop offset="0.17" stop-color="#2f81fa"/><stop offset="0.25" stop-color="#2f82fa"/><stop offset="0.33" stop-color="#2d88f6"/><stop offset="0.42" stop-color="#2699e9"/><stop offset="0.5" stop-color="#07b5d0"/><stop offset="0.58" stop-color="#45cb89"/><stop offset="0.67" stop-color="#c0c32d"/><stop offset="0.75" stop-color="#ecba32"/><stop offset="0.83" stop-color="#edba33"/><stop offset="0.92" stop-color="#e6bb2d"/><stop offset="1" stop-color="#d4bf28"/></linearGradient><linearGradient id="g150"><stop offset="0" stop-color="#2f82fa"/><stop offset="0.08" stop-color="#2f82fa"/><stop offset="0.17" stop-color="#2f81fa"/><stop offset="0.25" stop-color="#2f82fa"/><stop offset="0.33" stop-color="#2d88f6"/><stop offset="0.42" stop-color="#2699e9"/><stop offset="0.5" stop-color="#0fb2d4"/><stop offset="0.58" stop-color="#33c69e"/><stop offset="0.67" stop-color="#9ac945"/><stop offset="0.75" stop-color="#d2bf27"/><stop offset="0.83" stop-color="#d0bf27"/><stop offset="0.92" stop-color="#c0c32d"/><stop offset="1" stop-color="#adc638"/></linearGradient><linearGradient id="g151"><stop offset="0" stop-color="#2f82fa"/><stop offset="0.08" stop-color="#2f82fa"/><stop offset="0.17" stop-color="#2f81fa"/><stop offset="0.25" stop-color="#2f82fa"/><stop offset="0.33" stop-color="#2d87f7"/><stop offset="0.42" stop-color="#2796eb"/><stop offset="0.5" stop-color="#17aeda"/><stop offset="0.58" stop-color="#28c2ab"/><stop offset="0.67" stop-color="#70cd65"/><stop offset="0.75" stop-color="#a5c83d"/><stop offset="0.83" stop-color="#a7c73c"/><stop offset="0.92" stop-color="#99c946"/><stop offset="1" stop-color="#8acb51"/></linearGradient><linearGradient id="g152"><stop offset="0" stop-color="#2f81fa"/><stop offset="0.08" stop-color="#2f81fa"/><stop offset="0.17" stop-color="#2f81fa"/><stop offset="0.25" stop-color="#2f80fa"/><stop offset="0.33" stop-color="#2e85f8"/><stop offset="0.42" stop-color="#2b92ee"/><stop offset="0.5" stop-color="#1ea8e0"/><stop offset="0.58" stop-color="#15bfb7"/><stop offset="0.67" stop-color="#4ccb83"/><stop offset="0.75" stop-color="#76cc61"/><stop offset="0.83" stop-color="#7fcc5a"/><stop offset="0.92" stop-color="#7bcc5d"/><stop offset="1" stop-color="#72cd63"/></linearGradient><linearGradient id="g153"><stop offset="0" stop-color="#2f80fa"/><stop offset="0.08" stop-color="#3080fa"/><stop offset="0.17" stop-color="#307efb"/><stop offset="0.25" stop-color="#317dfb"/><stop offset="0.33" stop-color="#2f80fa"/><stop offset="0.42" stop-color="#2d8bf4"/><stop offset="0.5" stop-color="#249fe5"/><stop offset="0.58" stop-color="#01b9c7"/><stop offset="0.67" stop-color="#36c799"/><stop offset="0.75" stop-color="#59cc78"/><stop offset="0.83" stop-color="#69cd6b"/><stop offset="0.92" stop-color="#6dcd67"/><stop offset="1" stop-color="#69cd6b"/></linearGradient><linearGradient id="g154"><stop offset="0" stop-color="#307efb"/><stop offset="0.08" stop-color="#317dfb"/><stop offset="0.17" stop-color="#337afd"/><stop offset="0.25" stop-color="#3678fd"/><stop offset="0.33" stop-color="#3579fd"/><stop offset="0.42" stop-color="#2f82fa"/><stop offset="0.5" stop-color="#2895ec"/><stop offset="0.58" stop-color="#12b1d7"/><stop offset="0.67" stop-color="#29c3aa"/><stop offset="0.75" stop-color="#4bcb84"/><stop offset="0.83" stop-color="#61cd71"/><stop offset="0.92" stop-color="#6acd6a"/><stop offset="1" stop-color="#68cd6c"/></linearGradient><linearGradient id="g155"><stop offset="0" stop-color="#327cfc"/><stop offset="0.08" stop-color="#347afd"/><stop offset="0.17" stop-color="#3974fe"/><stop offset="0.25" stop-color="#3e6fff"/><stop offset="0.33" stop-color="#3e6fff"/><stop offset="0.42" stop-color="#3777fe"/><stop offset="0.5" stop-color="#2d8af4"/><stop offset="0.58" stop-color="#1ea6e1"/><stop offset="0.67" stop-color="#15bfb7"/><stop offset="0.75" stop-color="#40ca8d"/><stop offset="0.83" stop-color="#5dcc75"/><stop offset="0.92" stop-color="#68cd6c"/><stop offset="1" stop-color="#68cd6b"/></linearGradient><linearGradient id="g156"><stop offset="0" stop-color="#3479fd"/><stop offset="0.08" stop-color="#3975fe"/><stop offset="0.17" stop-color="#416cfe"/><stop offset="0.25" stop-color="#4464fd"/><stop offset="0.33" stop-color="#4564fd"/><stop offset="0.42" stop-color="#406cfe"/><stop offset="0.5" stop-color="#2f80fa"/><stop offset="0.58" stop-color="#249de7"/><stop offset="0.67" stop-color="#02bbc3"/><stop offset="0.75" stop-color="#38c896"/><stop offset="0.83" stop-color="#57cc7a"/><stop offset="0.92" stop-color="#64cd6f"/><stop offset="1" stop-color="#68cd6b"/></linearGradient><linearGradient id="g157"><stop offset="0" stop-color="#3876fe"/><stop offset="0.08" stop-color="#3f6dfe"/><stop offset="0.17" stop-color="#4660fc"/><stop offset="0.25" stop-color="#4757f7"/><stop offset="0.33" stop-color="#4758f8"/><stop offset="0.42" stop-color="#4564fd"/><stop offset="0.5" stop-color="#3579fd"/><stop offset="0.58" stop-color="#2796eb"/><stop offset="0.67" stop-color="#02b7cb"/><stop offset="0.75" stop-color="#34c79c"/><stop offset="0.83" stop-color="#53cc7d"/><stop offset="0.92" stop-color="#61cd71"/><stop offset="1" stop-color="#68cd6b"/></linearGradient><linearGradient id="g158"><stop offset="0" stop-color="#3d70ff"/><stop offset="0.08" stop-color="#4563fd"/><stop offset="0.17" stop-color="#4851f4"/><stop offset="0.25" stop-color="#4747eb"/><stop offset="0.33" stop-color="#484df0"/><stop offset="0.42" stop-color="#465efb"/><stop offset="0.5" stop-color="#3875fe"/><stop offset="0.58" stop-color="#2a93ee"/><stop offset="0.67" stop-color="#06b5ce"/><stop offset="0.75" stop-color="#33c69e"/><stop offset="0.83" stop-color="#53cc7d"/><stop offset="0.92" stop-color="#60cd72"/><stop offset="1" stop-color="#68cd6b"/></linearGradient><linearGradient id="g159"><stop offset="0" stop-color="#4368fe"/><stop offset="0.08" stop-color="#4756f7"/><stop offset="0.17" stop-color="#4740e4"/><stop offset="0.25" stop-color="#4538d7"/><stop offset="0.33" stop-color="#4743e8"/><stop offset="0.42" stop-color="#475bfa"/><stop offset="0.5" stop-color="#3876fe"/><stop offset="0.58" stop-color="#2b92ee"/><stop offset="0.67" stop-color="#07b5cf"/><stop offset="0.75" stop-color="#33c69d"/><stop offset="0.83" stop-color="#54cc7c"/><stop offset="0.92" stop-color="#61cd72"/><stop offset="1" stop-color="#68cd6b"/></linearGradient><linearGradient id="g160"><stop offset="0" stop-color="#465efb"/><stop offset="0.08" stop-color="#4746ea"/><stop offset="0.17" stop-color="#4331c8"/><stop offset="0.25" stop-color="#422fc0"/><stop offset="0.33" stop-color="#473fe3"/><stop offset="0.42" stop-color="#475cfa"/><stop offset="0.5" stop-color="#3678fe"/><stop offset="0.58" stop-color="#2a93ee"/><stop offset="0.67" stop-color="#07b5cf"/><stop offset="0.75" stop-color="#33c69d"/><stop offset="0.83" stop-color="#55cc7c"/><stop offset="0.92" stop-color="#61cd71"/><stop offset="1" stop-color="#68cd6b"/></linearGradient><linearGradient id="g161"><stop offset="0" stop-color="#4850f3"/><stop offset="0.08" stop-color="#4536d3"/><stop offset="0.17" stop-color="#3e27aa"/><stop offset="0.25" stop-color="#402ab4"/><stop offset="0.33" stop-color="#4740e4"/><stop offset="0.42" stop-color="#4660fc"/><stop offset="0.5" stop-color="#337bfd"/><stop offset="0.58" stop-color="#2993ed"/><stop offset="0.67" stop-color="#06b5cf"/><stop offset="0.75" stop-color="#33c69d"/><stop offset="0.83" stop-color="#54cc7c"/><stop offset="0.92" stop-color="#61cd71"/><stop offset="1" stop-color="#68cd6b"/></linearGradient><linearGradient id="g162"><stop offset="0" stop-color="#4740e4"/><stop offset="0.08" stop-color="#3f29b2"/><stop offset="0.17" stop-color="#3e26a8"/><stop offset="0.25" stop-color="#402ab3"/><stop offset="0.33" stop-color="#4746ea"/><stop offset="0.42" stop-color="#4466fd"/><stop offset="0.5" stop-color="#317dfb"/><stop offset="0.58" stop-color="#2994ed"/><stop offset="0.67" stop-color="#06b5cf"/><stop offset="0.75" stop-color="#33c69d"/><stop offset="0.83" stop-color="#54cc7c"/><stop offset="0.92" stop-color="#61cd71"/><stop offset="1" stop-color="#68cd6b"/></linearGradient><linearGradient id="g163"><stop offset="0" stop-color="#4331c8"/><stop offset="0.08" stop-color="#3e26a8"/><stop offset="0.17" stop-color="#3e26a8"/><stop offset="0.25" stop-color="#422ebf"/><stop offset="0.33" stop-color="#484ff2"/><stop offset="0.42" stop-color="#416cfe"/><stop offset="0.5" stop-color="#3080fa"/><stop offset="0.58" stop-color="#2895ec"/><stop offset="0.67" stop-color="#06b5cf"/><stop offset="0.75" stop-color="#33c69d"/><stop offset="0.83" stop-color="#54cc7c"/><stop offset="0.92" stop-color="#61cd71"/><stop offset="1" stop-color="#68cd6b"/></linearGradient><linearGradient id="g164"><stop offset="0" stop-color="#3e27a9"/><stop offset="0.08" stop-color="#3e26a8"/><stop offset="0.17" stop-color="#3e26a8"/><stop offset="0.25" stop-color="#4536d3"/><stop offset="0.33" stop-color="#4759f8"/><stop offset="0.42" stop-color="#3c71ff"/><stop offset="0.5" stop-color="#2f82fa"/><stop offset="0.58" stop-color="#2895ec"/><stop offset="0.67" stop-color="#06b5ce"/><stop offset="0.75" stop-color="#33c69d"/><stop offset="0.83" stop-color="#54cc7c"/><stop offset="0.92" stop-color="#61cd71"/><stop offset="1" stop-color="#68cd6b"/></linearGradient><linearGradient id="g165"><stop offset="0" stop-color="#3e26a8"/><stop offset="0.08" stop-color="#3e26a8"/><stop offset="0.17" stop-color="#3e26a8"/><stop offset="0.25" stop-color="#4742e6"/><stop offset="0.33" stop-color="#4563fc"/><stop offset="0.42" stop-color="#3776fe"/><stop offset="0.5" stop-color="#2e83f9"/><stop offset="0.58" stop-color="#2896ec"/><stop offset="0.67" stop-color="#06b5ce"/><stop offset="0.75" stop-color="#33c79d"/><stop offset="0.83" stop-color="#54cc7c"/><stop offset="0.92" stop-color="#61cd71"/><stop offset="1" stop-color="#68cd6b"/></linearGradient><linearGradient id="g166"><stop offset="0" stop-color="#3e26a8"/><stop offset="0.08" stop-color="#3e26a8"/><stop offset="0.17" stop-color="#4230c4"/><stop offset="0.25" stop-color="#4850f2"/><stop offset="0.33" stop-color="#416cfe"/><stop offset="0.42" stop-color="#347afd"/><stop offset="0.5" stop-color="#2e84f8"/><stop offset="0.58" stop-color="#2896ec"/><stop offset="0.67" stop-color="#06b5ce"/><stop offset="0.75" stop-color="#33c79d"/><stop offset="0.83" stop-color="#54cc7c"/><stop offset="0.92" stop-color="#61cd71"/><stop offset="1" stop-color="#68cd6b"/></linearGradient><linearGradient id="g167"><stop offset="0" stop-color="#3e26a8"/><stop offset="0.08" stop-color="#3e26a8"/><stop offset="0.17" stop-color="#4536d3"/><stop offset="0.25" stop-color="#4756f7"/><stop offset="0.33" stop-color="#3e6fff"/><stop offset="0.42" stop-color="#337bfc"/><stop offset="0.5" stop-color="#2e84f8"/><stop offset="0.58" stop-color="#2896eb"/><stop offset="0.67" stop-color="#06b5ce"/><stop offset="0.75" stop-color="#33c69d"/><stop offset="0.83" stop-color="#54cc7c"/><stop offset="0.92" stop-color="#61cd71"/><stop offset="1" stop-color="#68cd6b"/></linearGradient><linearGradient id="g168" x1="0" y1="0" x2="0" y2="1"><stop offset="0" stop-color="#f9fb15"/><stop offset="0.07" stop-color="#f5e128"/><stop offset="0.13" stop-color="#fec735"/><stop offset="0.2" stop-color="#eaba31"/><stop offset="0.27" stop-color="#bbc42f"/><stop offset="0.33" stop-color="#81cc59"/><stop offset="0.4" stop-color="#48cb86"/><stop offset="0.47" stop-color="#29c3aa"/><stop offset="0.53" stop-color="#01b9c7"/><stop offset="0.6" stop-color="#1caadf"/><stop offset="0.67" stop-color="#2797eb"/><stop offset="0.73" stop-color="#2f80fa"/><stop offset="0.8" stop-color="#4367fd"/><stop offset="0.87" stop-color="#484ff2"/><stop offset="0.93" stop-color="#4538d7"/><stop offset="1" stop-color="#3e26a8"/></linearGradient></defs><g clip-path="url(#c1)"><g filter="url(#bv)"><rect x="43" y="4.46" width="98" height="4.04" fill="url(#g2)"/><rect x="43" y="7.8" width="98" height="4.04" fill="url(#g3)"/><rect x="43" y="11.14" width="98" height="4.04" fill="url(#g4)"/><rect x="43" y="14.48" width="98" height="4.04" fill="url(#g5)"/><rect x="43" y="17.82" width="98" height="4.04" fill="url(#g6)"/><rect x="43" y="21.17" width="98" height="4.04" fill="url(#g7)"/><rect x="43" y="24.51" width="98" height="4.04" fill="url(#g8)"/><rect x="43" y="27.85" width="98" height="4.04" fill="url(#g9)"/><rect x="43" y="31.19" width="98" height="4.04" fill="url(#g10)"/><rect x="43" y="34.53" width="98" height="4.04" fill="url(#g11)"/><rect x="43" y="37.88" width="98" height="4.04" fill="url(#g12)"/><rect x="43" y="41.22" width="98" height="4.04" fill="url(#g13)"/><rect x="43" y="44.56" width="98" height="4.04" fill="url(#g14)"/><rect x="43" y="47.9" width="98" height="4.04" fill="url(#g15)"/><rect x="43" y="51.24" width="98" height="4.04" fill="url(#g16)"/><rect x="43" y="54.58" width="98" height="4.04" fill="url(#g17)"/><rect x="43" y="57.92" width="98" height="4.04" fill="url(#g18)"/><rect x="43" y="61.27" width="98" height="4.04" fill="url(#g19)"/><rect x="43" y="64.61" width="98" height="4.04" fill="url(#g20)"/><rect x="43" y="67.95" width="98" height="4.04" fill="url(#g21)"/><rect x="43" y="71.29" width="98" height="4.04" fill="url(#g22)"/><rect x="43" y="74.63" width="98" height="4.04" fill="url(#g23)"/><rect x="43" y="77.97" width="98" height="4.04" fill="url(#g24)"/><rect x="43" y="81.32" width="98" height="4.04" fill="url(#g25)"/><rect x="43" y="84.66" width="98" height="4.04" fill="url(#g26)"/><rect x="43" y="88" width="98" height="4.04" fill="url(#g27)"/></g></g><rect x="145.3" y="7.8" width="5" height="80.2" fill="url(#g28)" stroke="#888" stroke-width="0.35"/><rect x="16.2" y="8" width="18.8" height="80.4" fill="#fff" stroke="#aaa" stroke-width="0.4"/><rect x="16.2" y="8" width="16.6" height="15.5" class="hb"/><rect x="16.2" y="23.5" width="16.6" height="14.3" class="hb"/><rect x="16.2" y="37.8" width="13.3" height="14.7" class="hb"/><rect x="16.2" y="52.5" width="16.4" height="14.5" class="hb"/><rect x="16.2" y="67" width="16.4" height="14.6" class="hb"/><rect x="16.2" y="81.6" width="6.8" height="6.8" class="hb"/><rect x="43" y="99.6" width="98" height="11.9" fill="#fff" stroke="#aaa" stroke-width="0.4"/><rect x="43" y="106" width="9.7" height="5.5" class="hb"/><rect x="52.7" y="100.4" width="19.1" height="11.1" class="hb"/><rect x="71.8" y="106" width="19.2" height="5.5" class="hb"/><rect x="91" y="106" width="19" height="5.5" class="hb"/><rect x="110" y="106" width="19" height="5.5" class="hb"/><rect x="129" y="106" width="12" height="5.5" class="hb"/><path d="M174.8 72.3L230.4 55.8L275.8 75.7M174.8 61.45L230.4 44.95L275.8 64.85M174.8 50.6L230.4 34.1L275.8 54M174.8 39.75L230.4 23.25L275.8 43.15M174.8 28.9L230.4 12.4L275.8 32.3M174.8 72.3L230.4 55.8L230.4 12.4M189.93 78.93L245.53 62.43L245.53 19.03M205.07 85.57L260.67 69.07L260.67 25.67M220.2 92.2L275.8 75.7L275.8 32.3M220.2 92.2L174.8 72.3L174.8 28.9M231.32 88.9L185.92 69L185.92 25.6M242.44 85.6L197.04 65.7L197.04 22.3M253.56 82.3L208.16 62.4L208.16 19M264.68 79L219.28 59.1L219.28 15.7M275.8 75.7L230.4 55.8L230.4 12.4" fill="none" stroke="#ececec" stroke-width="0.3"/><path d="M174.8 28.9L174.8 72.3L220.2 92.2L275.8 75.7" fill="none" stroke="#555" stroke-width="0.45"/><g class="s"><path d="M230.2 21.9l2.4 3.7l4-0.9l-2.4-4.1z" class="c60"/><path d="M232.6 25.5l2.4 3.7l4-0.9l-2.4-3.7z" class="c55"/><path d="M235.1 29.3l2.4 3.5l4-1l-2.4-3.4z" class="c50"/><path d="M237.5 32.8l2.4 3.1l4-1l-2.4-3.1z" class="c45"/><path d="M239.9 35.9l2.4 2.8l4-1.1l-2.4-2.8z" class="c41"/><path d="M242.4 38.8l2.4 2.6l4-1.2l-2.4-2.5z" class="c38"/><path d="M244.8 41.4l2.4 2.4l4-1.3l-2.4-2.3z" class="c35"/><path d="M247.2 43.8l2.4 2.4l4-1.4l-2.4-2.3z" class="c33"/><path d="M249.7 46.2l2.4 2.4l4-1.5l-2.4-2.3z" class="c30"/><path d="M252.1 48.5l2.4 2.4l4-1.6l-2.4-2.3z" class="c28"/><path d="M254.5 50.9l2.4 2.5l4-1.7l-2.4-2.3z" class="c25"/><path d="M257 53.4l2.4 2.5l4-1.8l-2.4-2.4z" class="c23"/><path d="M259.4 55.9l2.4 2.6l4-1.9l-2.4-2.5z" class="c20"/><path d="M261.8 58.5l2.4 2.6l4-1.9l-2.4-2.6z" class="c17"/><path d="M232.2 21.2L234.6 25L237.1 28.8L239.5 32.3L241.9 35.4L244.4 38.2L246.8 40.7L249.2 43.1L251.7 45.4L254.1 47.7L256.5 50.1L259 52.5L261.4 55L263.8 57.6L266.2 60.2" class="el"/><path d="M234.2 20.6L236.6 24.6L239 28.4L241.5 31.8L243.9 34.9L246.3 37.7L248.8 40.2L251.2 42.5L253.6 44.8L256.1 47L258.5 49.3L260.9 51.7L263.4 54.1L265.8 56.6L268.2 59.3" class="el"/><path d="M226.2 23.7l2.4 3.3l4-1.4l-2.4-3.7z" class="c60"/><path d="M228.7 26.9l2.4 3.7l4-1.3l-2.4-3.7z" class="c55"/><path d="M231.1 30.6l2.4 3.5l4-1.3l-2.4-3.5z" class="c50"/><path d="M233.5 34.1l2.4 3.1l4-1.3l-2.4-3.1z" class="c45"/><path d="M236 37.3l2.4 2.9l4-1.4l-2.4-2.8z" class="c41"/><path d="M238.4 40.2l2.4 2.7l4-1.5l-2.4-2.6z" class="c38"/><path d="M240.8 42.9l2.4 2.5l4-1.6l-2.4-2.4z" class="c35"/><path d="M243.3 45.4l2.4 2.4l4-1.6l-2.4-2.4z" class="c32"/><path d="M245.7 47.8l2.4 2.4l4-1.7l-2.4-2.4z" class="c30"/><path d="M248.1 50.2l2.4 2.5l4-1.8l-2.4-2.4z" class="c27"/><path d="M250.6 52.7l2.4 2.5l4-1.9l-2.4-2.5z" class="c24"/><path d="M253 55.3l2.4 2.6l4-1.9l-2.4-2.5z" class="c21"/><path d="M255.4 57.8l2.4 2.6l4-1.9l-2.4-2.6z" class="c18"/><path d="M257.9 60.4l2.4 2.6l4-1.8l-2.4-2.6z" class="c15"/><path d="M228.2 22.7L230.7 26.2L233.1 29.9L235.5 33.4L238 36.6L240.4 39.4L242.8 42.1L245.3 44.6L247.7 47L250.1 49.4L252.5 51.8L255 54.3L257.4 56.9L259.8 59.4L262.3 62.1" class="el"/><path d="M230.2 21.9L232.6 25.5L235.1 29.3L237.5 32.8L239.9 35.9L242.4 38.8L244.8 41.4L247.2 43.8L249.7 46.2L252.1 48.5L254.5 50.9L257 53.4L259.4 55.9L261.8 58.5L264.3 61.1" class="el"/><path d="M222.3 25.9l2.4 2.9l4-1.9l-2.4-3.3z" class="c58"/><path d="M224.7 28.8l2.4 3.5l4-1.7l-2.4-3.7z" class="c54"/><path d="M227.1 32.3l2.4 3.5l4-1.7l-2.4-3.5z" class="c49"/><path d="M229.6 35.8l2.4 3.1l4-1.6l-2.4-3.1z" class="c45"/><path d="M232 38.9l2.4 2.9l4-1.6l-2.4-2.9z" class="c41"/><path d="M234.4 41.8l2.4 2.8l4-1.7l-2.4-2.7z" class="c37"/><path d="M236.9 44.6l2.4 2.6l4-1.8l-2.4-2.5z" class="c34"/><path d="M239.3 47.2l2.4 2.5l4-1.8l-2.4-2.4z" class="c31"/><path d="M241.7 49.6l2.4 2.5l4-1.9l-2.4-2.4z" class="c28"/><path d="M244.2 52.1l2.4 2.5l4-2l-2.4-2.5z" class="c26"/><path d="M246.6 54.7l2.4 2.6l4-2l-2.4-2.5z" class="c23"/><path d="M249 57.2l2.4 2.6l4-2l-2.4-2.6z" class="c20"/><path d="M251.5 59.8l2.4 2.5l4-1.9l-2.4-2.6z" class="c17"/><path d="M253.9 62.3l2.4 2.5l4-1.8l-2.4-2.6z" class="c14"/><path d="M224.3 24.8L226.7 27.8L229.1 31.4L231.6 34.9L234 38L236.4 41L238.8 43.7L241.3 46.2L243.7 48.7L246.1 51.2L248.6 53.7L251 56.2L253.4 58.8L255.9 61.4L258.3 63.9" class="el"/><path d="M226.2 23.7L228.7 26.9L231.1 30.6L233.5 34.1L236 37.3L238.4 40.2L240.8 42.9L243.3 45.4L245.7 47.8L248.1 50.2L250.6 52.7L253 55.3L255.4 57.8L257.9 60.4L260.3 63" class="el"/><path d="M218.3 28.5l2.4 2.6l4-2.2l-2.4-2.9z" class="c56"/><path d="M220.7 31.1l2.4 3.3l4-2l-2.4-3.5z" class="c52"/><path d="M223.2 34.4l2.4 3.3l4-1.9l-2.4-3.5z" class="c48"/><path d="M225.6 37.7l2.4 3l4-1.8l-2.4-3.1z" class="c43"/><path d="M228 40.7l2.4 2.9l4-1.9l-2.4-2.9z" class="c40"/><path d="M230.5 43.7l2.4 2.8l4-1.9l-2.4-2.8z" class="c36"/><path d="M232.9 46.5l2.4 2.6l4-2l-2.4-2.6z" class="c33"/><path d="M235.3 49.1l2.4 2.5l4-2l-2.4-2.5z" class="c30"/><path d="M237.8 51.6l2.4 2.5l4-2l-2.4-2.5z" class="c27"/><path d="M240.2 54.2l2.4 2.6l4-2.1l-2.4-2.5z" class="c24"/><path d="M242.6 56.7l2.4 2.6l4-2.1l-2.4-2.6z" class="c21"/><path d="M245.1 59.3l2.4 2.5l4-2l-2.4-2.6z" class="c18"/><path d="M247.5 61.8l2.4 2.5l4-2l-2.4-2.5z" class="c15"/><path d="M249.9 64.3l2.4 2.4l4-1.8l-2.4-2.5z" class="c12"/><path d="M220.3 27.2L222.7 29.9L225.1 33.3L227.6 36.7L230 39.8L232.4 42.7L234.9 45.5L237.3 48.1L239.7 50.6L242.2 53.1L244.6 55.7L247 58.3L249.5 60.8L251.9 63.3L254.3 65.7" class="el"/><path d="M222.3 25.9L224.7 28.8L227.1 32.3L229.6 35.8L232 38.9L234.4 41.8L236.9 44.6L239.3 47.2L241.7 49.6L244.2 52.1L246.6 54.7L249 57.2L251.5 59.8L253.9 62.3L256.3 64.8" class="el"/><path d="M214.3 31.2l2.4 2.3l4-2.5l-2.4-2.6z" class="c54"/><path d="M216.8 33.5l2.4 3.1l4-2.3l-2.4-3.3z" class="c50"/><path d="M219.2 36.7l2.4 3.2l4-2.1l-2.4-3.3z" class="c46"/><path d="M221.6 39.9l2.4 2.9l4-2l-2.4-3z" class="c42"/><path d="M224.1 42.8l2.4 2.9l4-2l-2.4-2.9z" class="c38"/><path d="M226.5 45.7l2.4 2.8l4-2l-2.4-2.8z" class="c34"/><path d="M228.9 48.5l2.4 2.7l4-2.1l-2.4-2.6z" class="c31"/><path d="M231.4 51.2l2.4 2.6l4-2.1l-2.4-2.5z" class="c28"/><path d="M233.8 53.8l2.4 2.6l4-2.1l-2.4-2.5z" class="c25"/><path d="M236.2 56.3l2.4 2.6l4-2.1l-2.4-2.6z" class="c22"/><path d="M238.6 58.9l2.4 2.5l4-2.1l-2.4-2.6z" class="c19"/><path d="M241.1 61.4l2.4 2.5l4-2.1l-2.4-2.5z" class="c16"/><path d="M243.5 63.9l2.4 2.4l4-2l-2.4-2.5z" class="c14"/><path d="M245.9 66.3l2.4 2.2l4-1.9l-2.4-2.4z" class="c11"/><path d="M216.3 29.8L218.7 32.3L221.2 35.5L223.6 38.8L226 41.7L228.5 44.7L230.9 47.5L233.3 50.1L235.8 52.7L238.2 55.2L240.6 57.8L243.1 60.4L245.5 62.9L247.9 65.3L250.4 67.6" class="el"/><path d="M218.3 28.5L220.7 31.1L223.2 34.4L225.6 37.7L228 40.7L230.5 43.7L232.9 46.5L235.3 49.1L237.8 51.6L240.2 54.2L242.6 56.7L245.1 59.3L247.5 61.8L249.9 64.3L252.3 66.7" class="el"/><path d="M210.4 34l2.4 2.2l4-2.6l-2.4-2.3z" class="c51"/><path d="M212.8 36.2l2.4 2.9l4-2.4l-2.4-3.1z" class="c48"/><path d="M215.2 39.1l2.4 3l4-2.3l-2.4-3.2z" class="c44"/><path d="M217.7 42.1l2.4 2.8l4-2.2l-2.4-2.9z" class="c40"/><path d="M220.1 45l2.4 2.8l4-2.1l-2.4-2.9z" class="c36"/><path d="M222.5 47.8l2.4 2.8l4-2.1l-2.4-2.8z" class="c33"/><path d="M224.9 50.6l2.4 2.7l4-2.1l-2.4-2.7z" class="c29"/><path d="M227.4 53.3l2.4 2.6l4-2.2l-2.4-2.6z" class="c26"/><path d="M229.8 55.9l2.4 2.6l4-2.2l-2.4-2.6z" class="c23"/><path d="M232.2 58.5l2.4 2.5l4-2.2l-2.4-2.6z" class="c20"/><path d="M234.7 61l2.4 2.5l4-2.1l-2.4-2.5z" class="c17"/><path d="M237.1 63.5l2.4 2.4l4-2.1l-2.4-2.5z" class="c14"/><path d="M239.5 66l2.4 2.3l4-2l-2.4-2.4z" class="c12"/><path d="M242 68.3l2.4 2.2l4-1.9l-2.4-2.2z" class="c9"/><path d="M212.3 32.6L214.8 34.9L217.2 37.9L219.6 41L222.1 43.8L224.5 46.7L226.9 49.6L229.4 52.2L231.8 54.8L234.2 57.4L236.7 60L239.1 62.5L241.5 64.9L244 67.3L246.4 69.5" class="el"/><path d="M214.3 31.2L216.8 33.5L219.2 36.7L221.6 39.9L224.1 42.8L226.5 45.7L228.9 48.5L231.4 51.2L233.8 53.8L236.2 56.3L238.6 58.9L241.1 61.4L243.5 63.9L245.9 66.3L248.4 68.5" class="el"/><path d="M206.4 36.8l2.4 2.1l4-2.7l-2.4-2.2z" class="c48"/><path d="M208.8 38.9l2.4 2.7l4-2.5l-2.4-2.9z" class="c45"/><path d="M211.2 41.6l2.4 2.9l4-2.4l-2.4-3z" class="c41"/><path d="M213.7 44.5l2.4 2.8l4-2.3l-2.4-2.8z" class="c38"/><path d="M216.1 47.3l2.4 2.7l4-2.2l-2.4-2.8z" class="c34"/><path d="M218.5 50l2.4 2.7l4-2.1l-2.4-2.8z" class="c31"/><path d="M221 52.8l2.4 2.7l4-2.2l-2.4-2.7z" class="c27"/><path d="M223.4 55.5l2.4 2.6l4-2.2l-2.4-2.6z" class="c24"/><path d="M225.8 58.1l2.4 2.6l4-2.2l-2.4-2.6z" class="c21"/><path d="M228.3 60.7l2.4 2.5l4-2.2l-2.4-2.5z" class="c18"/><path d="M230.7 63.2l2.4 2.4l4-2.1l-2.4-2.5z" class="c15"/><path d="M233.1 65.7l2.4 2.3l4-2l-2.4-2.4z" class="c13"/><path d="M235.6 68l2.4 2.2l4-2l-2.4-2.3z" class="c10"/><path d="M238 70.2l2.4 2.1l4-1.9l-2.4-2.2z" class="c8"/><path d="M208.4 35.4L210.8 37.5L213.2 40.4L215.7 43.3L218.1 46.1L220.5 48.9L223 51.7L225.4 54.4L227.8 57L230.3 59.6L232.7 62.1L235.1 64.6L237.6 67L240 69.3L242.4 71.4" class="el"/><path d="M210.4 34L212.8 36.2L215.2 39.1L217.7 42.1L220.1 45L222.5 47.8L224.9 50.6L227.4 53.3L229.8 55.9L232.2 58.5L234.7 61L237.1 63.5L239.5 66L242 68.3L244.4 70.4" class="el"/><path d="M202.4 39.5l2.4 2.1l4-2.7l-2.4-2.1z" class="c45"/><path d="M204.8 41.6l2.4 2.6l4-2.6l-2.4-2.7z" class="c42"/><path d="M207.3 44.2l2.4 2.7l4-2.4l-2.4-2.9z" class="c39"/><path d="M209.7 46.9l2.4 2.7l4-2.4l-2.4-2.8z" class="c35"/><path d="M212.1 49.6l2.4 2.7l4-2.3l-2.4-2.7z" class="c32"/><path d="M214.6 52.3l2.4 2.7l4-2.2l-2.4-2.7z" class="c29"/><path d="M217 55l2.4 2.7l4-2.2l-2.4-2.7z" class="c25"/><path d="M219.4 57.7l2.4 2.7l4-2.2l-2.4-2.6z" class="c22"/><path d="M221.9 60.3l2.4 2.6l4-2.2l-2.4-2.6z" class="c19"/><path d="M224.3 62.9l2.4 2.5l4-2.1l-2.4-2.5z" class="c16"/><path d="M226.7 65.4l2.4 2.4l4-2.1l-2.4-2.4z" class="c13"/><path d="M229.2 67.7l2.4 2.3l4-2l-2.4-2.3z" class="c11"/><path d="M231.6 70l2.4 2.1l4-1.9l-2.4-2.2z" class="c9"/><path d="M234 72.2l2.4 2l4-1.8l-2.4-2.1z" class="c6"/><path d="M204.4 38.1L206.8 40.3L209.3 42.9L211.7 45.7L214.1 48.4L216.6 51.1L219 53.9L221.4 56.6L223.9 59.2L226.3 61.8L228.7 64.3L231.2 66.7L233.6 69L236 71.2L238.4 73.3" class="el"/><path d="M206.4 36.8L208.8 38.9L211.2 41.6L213.7 44.5L216.1 47.3L218.5 50L221 52.8L223.4 55.5L225.8 58.1L228.3 60.7L230.7 63.2L233.1 65.7L235.6 68L238 70.2L240.4 72.3" class="el"/><path d="M198.4 42.3l2.4 2.1l4-2.7l-2.4-2.1z" class="c42"/><path d="M200.9 44.3l2.4 2.5l4-2.6l-2.4-2.6z" class="c39"/><path d="M203.3 46.8l2.4 2.6l4-2.4l-2.4-2.7z" class="c36"/><path d="M205.7 49.4l2.4 2.6l4-2.4l-2.4-2.7z" class="c33"/><path d="M208.2 52l2.4 2.6l4-2.3l-2.4-2.7z" class="c30"/><path d="M210.6 54.6l2.4 2.7l4-2.3l-2.4-2.7z" class="c27"/><path d="M213 57.3l2.4 2.6l4-2.3l-2.4-2.7z" class="c23"/><path d="M215.5 59.9l2.4 2.6l4-2.2l-2.4-2.7z" class="c20"/><path d="M217.9 62.5l2.4 2.5l4-2.2l-2.4-2.6z" class="c17"/><path d="M220.3 65.1l2.4 2.4l4-2.1l-2.4-2.5z" class="c14"/><path d="M222.8 67.5l2.4 2.3l4-2l-2.4-2.4z" class="c12"/><path d="M225.2 69.8l2.4 2.2l4-1.9l-2.4-2.3z" class="c9"/><path d="M227.6 71.9l2.4 2l4-1.8l-2.4-2.1z" class="c7"/><path d="M230.1 74l2.4 1.9l4-1.6l-2.4-2z" class="c5"/><path d="M200.4 40.9L202.9 43L205.3 45.5L207.7 48.2L210.2 50.8L212.6 53.5L215 56.1L217.5 58.8L219.9 61.4L222.3 64L224.7 66.4L227.2 68.8L229.6 71L232 73.1L234.5 75" class="el"/><path d="M202.4 39.5L204.8 41.6L207.3 44.2L209.7 46.9L212.1 49.6L214.6 52.3L217 55L219.4 57.7L221.9 60.3L224.3 62.9L226.7 65.4L229.2 67.7L231.6 70L234 72.2L236.5 74.2" class="el"/><path d="M194.5 44.9l2.4 2l4-2.6l-2.4-2.1z" class="c39"/><path d="M196.9 46.9l2.4 2.4l4-2.5l-2.4-2.5z" class="c36"/><path d="M199.3 49.3l2.4 2.5l4-2.4l-2.4-2.6z" class="c33"/><path d="M201.8 51.8l2.4 2.5l4-2.3l-2.4-2.6z" class="c30"/><path d="M204.2 54.3l2.4 2.6l4-2.3l-2.4-2.6z" class="c27"/><path d="M206.6 57l2.4 2.7l4-2.3l-2.4-2.7z" class="c24"/><path d="M209.1 59.6l2.4 2.6l4-2.3l-2.4-2.6z" class="c21"/><path d="M211.5 62.2l2.4 2.5l4-2.2l-2.4-2.6z" class="c18"/><path d="M213.9 64.7l2.4 2.4l4-2.1l-2.4-2.5z" class="c15"/><path d="M216.4 67.1l2.4 2.4l4-2l-2.4-2.4z" class="c13"/><path d="M218.8 69.5l2.4 2.2l4-1.9l-2.4-2.3z" class="c10"/><path d="M221.2 71.7l2.4 2.1l4-1.8l-2.4-2.2z" class="c8"/><path d="M223.7 73.8l2.4 1.9l4-1.7l-2.4-2z" class="c6"/><path d="M226.1 75.6l2.4 1.6l4-1.4l-2.4-1.9z" class="c4"/><path d="M196.5 43.6L198.9 45.6L201.3 48L203.8 50.6L206.2 53.2L208.6 55.8L211 58.4L213.5 61.1L215.9 63.6L218.3 66.1L220.8 68.5L223.2 70.8L225.6 72.9L228.1 74.8L230.5 76.6" class="el"/><path d="M198.4 42.3L200.9 44.3L203.3 46.8L205.7 49.4L208.2 52L210.6 54.6L213 57.3L215.5 59.9L217.9 62.5L220.3 65.1L222.8 67.5L225.2 69.8L227.6 71.9L230.1 74L232.5 75.8" class="el"/><path d="M190.5 47.5l2.4 1.9l4-2.5l-2.4-2z" class="c36"/><path d="M192.9 49.4l2.4 2.3l4-2.4l-2.4-2.4z" class="c34"/><path d="M195.4 51.7l2.4 2.5l4-2.4l-2.4-2.5z" class="c31"/><path d="M197.8 54.2l2.4 2.4l4-2.3l-2.4-2.5z" class="c28"/><path d="M200.2 56.6l2.4 2.6l4-2.3l-2.4-2.6z" class="c25"/><path d="M202.7 59.2l2.4 2.6l4-2.3l-2.4-2.7z" class="c22"/><path d="M205.1 61.9l2.4 2.5l4-2.2l-2.4-2.6z" class="c19"/><path d="M207.5 64.4l2.4 2.4l4-2.1l-2.4-2.5z" class="c16"/><path d="M210 66.8l2.4 2.3l4-1.9l-2.4-2.4z" class="c13"/><path d="M212.4 69.1l2.4 2.3l4-1.9l-2.4-2.4z" class="c11"/><path d="M214.8 71.3l2.4 2.1l4-1.8l-2.4-2.2z" class="c9"/><path d="M217.3 73.5l2.4 2l4-1.7l-2.4-2.1z" class="c7"/><path d="M219.7 75.4l2.4 1.7l4-1.5l-2.4-1.9z" class="c5"/><path d="M222.1 77.2l2.4 1.4l4-1.3l-2.4-1.6z" class="c4"/><path d="M192.5 46.3L194.9 48.2L197.3 50.5L199.8 53L202.2 55.5L204.6 58.1L207.1 60.8L209.5 63.3L211.9 65.7L214.4 68.1L216.8 70.4L219.2 72.6L221.7 74.6L224.1 76.4L226.5 77.9" class="el"/><path d="M194.5 44.9L196.9 46.9L199.3 49.3L201.8 51.8L204.2 54.3L206.6 57L209.1 59.6L211.5 62.2L213.9 64.7L216.4 67.1L218.8 69.5L221.2 71.7L223.7 73.8L226.1 75.6L228.5 77.3" class="el"/><path d="M186.5 49.9l2.4 1.8l4-2.4l-2.4-1.9z" class="c33"/><path d="M189 51.8l2.4 2.3l4-2.3l-2.4-2.3z" class="c31"/><path d="M191.4 54.1l2.4 2.4l4-2.3l-2.4-2.5z" class="c29"/><path d="M193.8 56.5l2.4 2.3l4-2.2l-2.4-2.4z" class="c26"/><path d="M196.3 58.8l2.4 2.6l4-2.2l-2.4-2.6z" class="c23"/><path d="M198.7 61.4l2.4 2.6l4-2.1l-2.4-2.6z" class="c20"/><path d="M201.1 64l2.4 2.4l4-2l-2.4-2.5z" class="c17"/><path d="M203.6 66.4l2.4 2.2l4-1.9l-2.4-2.4z" class="c14"/><path d="M206 68.6l2.4 2.2l4-1.7l-2.4-2.3z" class="c12"/><path d="M208.4 70.8l2.4 2.2l4-1.6l-2.4-2.3z" class="c10"/><path d="M210.8 73l2.4 2l4-1.5l-2.4-2.1z" class="c8"/><path d="M213.3 75l2.4 1.9l4-1.4l-2.4-2z" class="c6"/><path d="M215.7 76.9l2.4 1.6l4-1.3l-2.4-1.7z" class="c4"/><path d="M218.1 78.5l2.4 1.3l4-1.2l-2.4-1.4z" class="c3"/><path d="M188.5 48.8L190.9 50.6L193.4 52.9L195.8 55.4L198.2 57.7L200.7 60.3L203.1 63L205.5 65.4L208 67.7L210.4 70L212.8 72.2L215.3 74.3L217.7 76.2L220.1 77.8L222.6 79.2" class="el"/><path d="M190.5 47.5L192.9 49.4L195.4 51.7L197.8 54.2L200.2 56.6L202.7 59.2L205.1 61.9L207.5 64.4L210 66.8L212.4 69.1L214.8 71.3L217.3 73.5L219.7 75.4L222.1 77.2L224.5 78.5" class="el"/><path d="M182.6 52.1l2.4 1.9l4-2.2l-2.4-1.8z" class="c31"/><path d="M185 54l2.4 2.3l4-2.2l-2.4-2.3z" class="c29"/><path d="M187.4 56.3l2.4 2.4l4-2.2l-2.4-2.4z" class="c26"/><path d="M189.9 58.7l2.4 2.3l4-2.1l-2.4-2.3z" class="c24"/><path d="M192.3 61l2.4 2.4l4-2l-2.4-2.6z" class="c21"/><path d="M194.7 63.4l2.4 2.5l4-1.9l-2.4-2.6z" class="c18"/><path d="M197.1 65.9l2.4 2.3l4-1.7l-2.4-2.4z" class="c16"/><path d="M199.6 68.1l2.4 2.1l4-1.6l-2.4-2.2z" class="c13"/><path d="M202 70.2l2.4 2.1l4-1.5l-2.4-2.2z" class="c11"/><path d="M204.4 72.3l2.4 2l4-1.4l-2.4-2.2z" class="c9"/><path d="M206.9 74.4l2.4 1.9l4-1.2l-2.4-2z" class="c7"/><path d="M209.3 76.3l2.4 1.8l4-1.2l-2.4-1.9z" class="c5"/><path d="M211.7 78.1l2.4 1.6l4-1.1l-2.4-1.6z" class="c4"/><path d="M214.2 79.6l2.4 1.3l4-1.2l-2.4-1.3z" class="c3"/><path d="M184.5 51L187 52.9L189.4 55.2L191.8 57.6L194.3 59.9L196.7 62.4L199.1 65L201.6 67.3L204 69.5L206.4 71.6L208.9 73.7L211.3 75.7L213.7 77.5L216.2 79.1L218.6 80.3" class="el"/><path d="M186.5 49.9L189 51.8L191.4 54.1L193.8 56.5L196.3 58.8L198.7 61.4L201.1 64L203.6 66.4L206 68.6L208.4 70.8L210.8 73L213.3 75L215.7 76.9L218.1 78.5L220.6 79.7" class="el"/><path d="M178.6 53.9l2.4 2.1l4-2l-2.4-1.9z" class="c29"/><path d="M181 56l2.4 2.4l4-2.1l-2.4-2.3z" class="c27"/><path d="M183.4 58.4l2.4 2.4l4-2.1l-2.4-2.4z" class="c24"/><path d="M185.9 60.8l2.4 2.2l4-2l-2.4-2.3z" class="c22"/><path d="M188.3 63l2.4 2.2l4-1.8l-2.4-2.4z" class="c20"/><path d="M190.7 65.2l2.4 2.2l4-1.5l-2.4-2.5z" class="c17"/><path d="M193.2 67.4l2.4 2.1l4-1.4l-2.4-2.3z" class="c15"/><path d="M195.6 69.5l2.4 2l4-1.3l-2.4-2.1z" class="c13"/><path d="M198 71.5l2.4 2l4-1.2l-2.4-2.1z" class="c11"/><path d="M200.5 73.5l2.4 1.9l4-1l-2.4-2z" class="c9"/><path d="M202.9 75.4l2.4 1.8l4-0.9l-2.4-1.9z" class="c7"/><path d="M205.3 77.2l2.4 1.7l4-0.8l-2.4-1.8z" class="c6"/><path d="M207.8 78.9l2.4 1.6l4-0.9l-2.4-1.6z" class="c4"/><path d="M210.2 80.5l2.4 1.6l4-1.2l-2.4-1.3z" class="c4"/><path d="M178.6 53.9L181 56L183.4 58.4L185.9 60.8L188.3 63L190.7 65.2L193.2 67.4L195.6 69.5L198 71.5L200.5 73.5L202.9 75.4L205.3 77.2L207.8 78.9L210.2 80.5L212.6 82.1" class="el"/><path d="M180.6 53L183 55L185.4 57.4L187.9 59.8L190.3 62L192.7 64.3L195.2 66.7L197.6 68.8L200 70.9L202.5 72.9L204.9 74.9L207.3 76.8L209.8 78.5L212.2 80.1L214.6 81.5" class="el"/><path d="M182.6 52.1L185 54L187.4 56.3L189.9 58.7L192.3 61L194.7 63.4L197.1 65.9L199.6 68.1L202 70.2L204.4 72.3L206.9 74.4L209.3 76.3L211.7 78.1L214.2 79.6L216.6 80.9" class="el"/></g><text x="16.9" y="5.75" class="t" text-anchor="middle">0</text><text x="25.9" y="5.75" class="t" text-anchor="middle">20</text><text x="34.9" y="5.75" class="t" text-anchor="middle">40</text><text x="39.6" y="9.9" class="t" text-anchor="middle">40</text><text x="39.6" y="25.4" class="t" text-anchor="middle">35</text><text x="39.6" y="40.9" class="t" text-anchor="middle">30</text><text x="39.6" y="56.4" class="t" text-anchor="middle">25</text><text x="39.6" y="71.9" class="t" text-anchor="middle">20</text><text x="39.6" y="87.4" class="t" text-anchor="middle">15</text><text x="43.95" y="92.35" class="t" text-anchor="middle">0.5</text><text x="43.95" y="115.15" class="t" text-anchor="middle">0.5</text><text x="54.72" y="92.35" class="t" text-anchor="middle">1</text><text x="54.72" y="115.15" class="t" text-anchor="middle">1</text><text x="65.48" y="92.35" class="t" text-anchor="middle">1.5</text><text x="65.48" y="115.15" class="t" text-anchor="middle">1.5</text><text x="76.25" y="92.35" class="t" text-anchor="middle">2</text><text x="76.25" y="115.15" class="t" text-anchor="middle">2</text><text x="87.02" y="92.35" class="t" text-anchor="middle">2.5</text><text x="87.02" y="115.15" class="t" text-anchor="middle">2.5</text><text x="97.78" y="92.35" class="t" text-anchor="middle">3</text><text x="97.78" y="115.15" class="t" text-anchor="middle">3</text><text x="108.55" y="92.35" class="t" text-anchor="middle">3.5</text><text x="108.55" y="115.15" class="t" text-anchor="middle">3.5</text><text x="119.32" y="92.35" class="t" text-anchor="middle">4</text><text x="119.32" y="115.15" class="t" text-anchor="middle">4</text><text x="130.08" y="92.35" class="t" text-anchor="middle">4.5</text><text x="130.08" y="115.15" class="t" text-anchor="middle">4.5</text><text x="140.85" y="92.35" class="t" text-anchor="middle">5</text><text x="140.85" y="115.15" class="t" text-anchor="middle">5</text><text x="171.6" y="76.25" class="t" text-anchor="middle">0</text><text x="186.73" y="82.88" class="t" text-anchor="middle">2</text><text x="201.87" y="89.52" class="t" text-anchor="middle">4</text><text x="217" y="96.15" class="t" text-anchor="middle">6</text><text x="176" y="86.65" class="t" text-anchor="middle">×10<tspan dy="-1" font-size="2.6">4</tspan></text><text x="224.8" y="95.95" class="t" text-anchor="middle">15</text><text x="235.92" y="92.65" class="t" text-anchor="middle">20</text><text x="247.04" y="89.35" class="t" text-anchor="middle">25</text><text x="258.16" y="86.05" class="t" text-anchor="middle">30</text><text x="269.28" y="82.75" class="t" text-anchor="middle">35</text><text x="280.4" y="79.45" class="t" text-anchor="middle">40</text><text x="14.8" y="9.9" class="t" text-anchor="end">40</text><text x="14.8" y="25.4" class="t" text-anchor="end">35</text><text x="14.8" y="40.9" class="t" text-anchor="end">30</text><text x="14.8" y="56.4" class="t" text-anchor="end">25</text><text x="14.8" y="71.9" class="t" text-anchor="end">20</text><text x="14.8" y="87.4" class="t" text-anchor="end">15</text><text x="141.5" y="97.35" class="t" text-anchor="end">×10<tspan dy="-1" font-size="2.6">4</tspan></text><text x="141.5" y="120.15" class="t" text-anchor="end">×10<tspan dy="-1" font-size="2.6">4</tspan></text><text x="41.8" y="101.35" class="t" text-anchor="end">50</text><text x="41.8" y="112.05" class="t" text-anchor="end">0</text><text x="151.5" y="88.2" class="t" text-anchor="start">70</text><text x="151.5" y="74.47" class="t" text-anchor="start">80</text><text x="151.5" y="60.73" class="t" text-anchor="start">90</text><text x="151.5" y="47" class="t" text-anchor="start">100</text><text x="151.5" y="33.27" class="t" text-anchor="start">110</text><text x="151.5" y="19.54" class="t" text-anchor="start">120</text><text x="172.6" y="73.45" class="t" text-anchor="end">60</text><text x="172.6" y="62.6" class="t" text-anchor="end">80</text><text x="172.6" y="51.75" class="t" text-anchor="end">100</text><text x="172.6" y="40.9" class="t" text-anchor="end">120</text><text x="172.6" y="30.05" class="t" text-anchor="end">140</text><text x="87" y="121.3" class="alL" text-anchor="middle" textLength="12.2" lengthAdjust="spacingAndGlyphs" style="font-size:6px">Area</text><text x="152.4" y="121.7" class="pl" text-anchor="middle">(a)</text><text x="197.2" y="96" class="al3" text-anchor="middle" textLength="9.8" lengthAdjust="spacingAndGlyphs">Area</text><text x="260.5" y="96.8" class="al3" text-anchor="middle" textLength="33" lengthAdjust="spacingAndGlyphs">Sensing Range</text><text transform="translate(6.6 38.7) rotate(-90)" text-anchor="middle" class="alL" style="font-size:5.9px" textLength="38.3" lengthAdjust="spacingAndGlyphs">Sensing Range</text><text transform="translate(164.5 50.5) rotate(-90)" text-anchor="middle" class="zl">No. of Barriers</text><g clip-path="url(#c29)"><g filter="url(#bv)"><rect x="42.2" y="135.36" width="98.7" height="4.09" fill="url(#g30)"/><rect x="42.2" y="138.75" width="98.7" height="4.09" fill="url(#g31)"/><rect x="42.2" y="142.14" width="98.7" height="4.09" fill="url(#g32)"/><rect x="42.2" y="145.54" width="98.7" height="4.09" fill="url(#g33)"/><rect x="42.2" y="148.93" width="98.7" height="4.09" fill="url(#g34)"/><rect x="42.2" y="152.32" width="98.7" height="4.09" fill="url(#g35)"/><rect x="42.2" y="155.72" width="98.7" height="4.09" fill="url(#g36)"/><rect x="42.2" y="159.11" width="98.7" height="4.09" fill="url(#g37)"/><rect x="42.2" y="162.51" width="98.7" height="4.09" fill="url(#g38)"/><rect x="42.2" y="165.9" width="98.7" height="4.09" fill="url(#g39)"/><rect x="42.2" y="169.29" width="98.7" height="4.09" fill="url(#g40)"/><rect x="42.2" y="172.69" width="98.7" height="4.09" fill="url(#g41)"/><rect x="42.2" y="176.08" width="98.7" height="4.09" fill="url(#g42)"/><rect x="42.2" y="179.47" width="98.7" height="4.09" fill="url(#g43)"/><rect x="42.2" y="182.87" width="98.7" height="4.09" fill="url(#g44)"/><rect x="42.2" y="186.26" width="98.7" height="4.09" fill="url(#g45)"/><rect x="42.2" y="189.66" width="98.7" height="4.09" fill="url(#g46)"/><rect x="42.2" y="193.05" width="98.7" height="4.09" fill="url(#g47)"/><rect x="42.2" y="196.44" width="98.7" height="4.09" fill="url(#g48)"/><rect x="42.2" y="199.84" width="98.7" height="4.09" fill="url(#g49)"/><rect x="42.2" y="203.23" width="98.7" height="4.09" fill="url(#g50)"/><rect x="42.2" y="206.62" width="98.7" height="4.09" fill="url(#g51)"/><rect x="42.2" y="210.02" width="98.7" height="4.09" fill="url(#g52)"/><rect x="42.2" y="213.41" width="98.7" height="4.09" fill="url(#g53)"/><rect x="42.2" y="216.81" width="98.7" height="4.09" fill="url(#g54)"/><rect x="42.2" y="220.2" width="98.7" height="4.09" fill="url(#g55)"/></g></g><rect x="145.6" y="138.75" width="4.9" height="80.75" fill="url(#g56)" stroke="#888" stroke-width="0.35"/><rect x="15.5" y="139.25" width="18.75" height="81.25" fill="#fff" stroke="#aaa" stroke-width="0.4"/><rect x="15.5" y="139.25" width="13.4" height="10" class="hb"/><rect x="15.5" y="149.25" width="16.4" height="15.75" class="hb"/><rect x="15.5" y="165" width="16.4" height="16.25" class="hb"/><rect x="15.5" y="181.25" width="16.4" height="15.75" class="hb"/><rect x="15.5" y="197" width="16.4" height="15.5" class="hb"/><rect x="15.5" y="212.5" width="6.5" height="8" class="hb"/><rect x="42.2" y="232.4" width="98.7" height="11" fill="#fff" stroke="#aaa" stroke-width="0.4"/><rect x="42.2" y="238.2" width="9.4" height="5.2" class="hb"/><rect x="51.6" y="232.6" width="20" height="10.8" class="hb"/><rect x="71.6" y="238.2" width="19" height="5.2" class="hb"/><rect x="90.6" y="238.2" width="19.4" height="5.2" class="hb"/><rect x="110" y="238.2" width="19.6" height="5.2" class="hb"/><rect x="129.6" y="238.2" width="11.3" height="5.2" class="hb"/><path d="M174 203.4L228.4 187.1L273.6 207M174 196.02L228.4 179.72L273.6 199.62M174 188.63L228.4 172.33L273.6 192.23M174 181.25L228.4 164.95L273.6 184.85M174 173.87L228.4 157.57L273.6 177.47M174 166.48L228.4 150.18L273.6 170.08M174 159.1L228.4 142.8L273.6 162.7M174 203.4L228.4 187.1L228.4 142.8M189.07 210.03L243.47 193.73L243.47 149.43M204.13 216.67L258.53 200.37L258.53 156.07M219.2 223.3L273.6 207L273.6 162.7M219.2 223.3L174 203.4L174 159.1M230.08 220.04L184.88 200.14L184.88 155.84M240.96 216.78L195.76 196.88L195.76 152.58M251.84 213.52L206.64 193.62L206.64 149.32M262.72 210.26L217.52 190.36L217.52 146.06M273.6 207L228.4 187.1L228.4 142.8" fill="none" stroke="#ececec" stroke-width="0.3"/><path d="M174 159.1L174 203.4L219.2 223.3L273.6 207" fill="none" stroke="#555" stroke-width="0.45"/><g class="s"><path d="M228.3 154.8l2.4 2.1l3.9-1.5l-2.4-2.8z" class="c58"/><path d="M230.7 156.9l2.4 4l3.9-1.2l-2.4-4.3z" class="c55"/><path d="M233.1 160.8l2.4 4.4l3.9-1.2l-2.4-4.4z" class="c49"/><path d="M235.5 165.2l2.4 3.8l3.9-1.5l-2.4-3.6z" class="c44"/><path d="M238 169.1l2.4 3.5l3.9-1.7l-2.4-3.3z" class="c39"/><path d="M240.4 172.5l2.4 3.1l3.9-1.8l-2.4-2.9z" class="c36"/><path d="M242.8 175.6l2.4 2.6l3.9-1.9l-2.4-2.5z" class="c33"/><path d="M245.2 178.2l2.4 2.3l3.9-2l-2.4-2.2z" class="c31"/><path d="M247.7 180.5l2.4 2.1l3.9-2.1l-2.4-2z" class="c29"/><path d="M250.1 182.6l2.4 2l3.9-2.2l-2.4-1.9z" class="c27"/><path d="M252.5 184.6l2.4 1.9l3.9-2.3l-2.4-1.8z" class="c26"/><path d="M254.9 186.4l2.4 1.8l3.9-2.4l-2.4-1.7z" class="c24"/><path d="M257.3 188.2l2.4 1.6l3.9-2.5l-2.4-1.6z" class="c23"/><path d="M259.8 189.8l2.4 1.5l3.9-2.4l-2.4-1.5z" class="c23"/><path d="M230.2 153.6L232.6 156L235.1 160.1L237.5 164.5L239.9 168.3L242.3 171.7L244.8 174.7L247.2 177.2L249.6 179.4L252 181.5L254.4 183.4L256.9 185.2L259.3 187L261.7 188.6L264.1 190" class="el"/><path d="M232.2 152.6L234.6 155.3L237 159.6L239.4 164L241.9 167.6L244.3 170.9L246.7 173.8L249.1 176.3L251.5 178.5L254 180.5L256.4 182.3L258.8 184.1L261.2 185.8L263.6 187.3L266.1 188.9" class="el"/><path d="M224.4 157.3l2.4 1.8l3.9-2.2l-2.4-2.1z" class="c57"/><path d="M226.8 159l2.4 3.7l3.9-1.9l-2.4-4z" class="c54"/><path d="M229.2 162.7l2.4 4.3l3.9-1.8l-2.4-4.4z" class="c48"/><path d="M231.7 167l2.4 3.9l3.9-1.8l-2.4-3.8z" class="c43"/><path d="M234.1 170.9l2.4 3.6l3.9-1.9l-2.4-3.5z" class="c39"/><path d="M236.5 174.5l2.4 3.1l3.9-2l-2.4-3.1z" class="c35"/><path d="M238.9 177.6l2.4 2.7l3.9-2.1l-2.4-2.6z" class="c31"/><path d="M241.3 180.3l2.4 2.4l3.9-2.2l-2.4-2.3z" class="c29"/><path d="M243.8 182.7l2.4 2.2l3.9-2.3l-2.4-2.1z" class="c27"/><path d="M246.2 184.9l2.4 2.1l3.9-2.4l-2.4-2z" class="c25"/><path d="M248.6 186.9l2.4 2l3.9-2.5l-2.4-1.9z" class="c24"/><path d="M251 188.9l2.4 1.8l3.9-2.5l-2.4-1.8z" class="c22"/><path d="M253.5 190.7l2.4 1.7l3.9-2.6l-2.4-1.6z" class="c21"/><path d="M255.9 192.4l2.4 1.5l3.9-2.6l-2.4-1.5z" class="c20"/><path d="M226.3 156L228.8 157.9L231.2 161.7L233.6 166L236 169.9L238.4 173.5L240.9 176.6L243.3 179.2L245.7 181.6L248.1 183.7L250.6 185.7L253 187.6L255.4 189.4L257.8 191.1L260.2 192.6" class="el"/><path d="M228.3 154.8L230.7 156.9L233.1 160.8L235.5 165.2L238 169.1L240.4 172.5L242.8 175.6L245.2 178.2L247.7 180.5L250.1 182.6L252.5 184.6L254.9 186.4L257.3 188.2L259.8 189.8L262.2 191.3" class="el"/><path d="M220.5 160l2.4 1.7l3.9-2.7l-2.4-1.8z" class="c54"/><path d="M222.9 161.7l2.4 3.4l3.9-2.4l-2.4-3.7z" class="c52"/><path d="M225.4 165.1l2.4 4l3.9-2.2l-2.4-4.3z" class="c47"/><path d="M227.8 169.1l2.4 3.9l3.9-2.1l-2.4-3.9z" class="c42"/><path d="M230.2 173l2.4 3.5l3.9-2.1l-2.4-3.6z" class="c37"/><path d="M232.6 176.6l2.4 3.1l3.9-2.1l-2.4-3.1z" class="c33"/><path d="M235 179.7l2.4 2.8l3.9-2.2l-2.4-2.7z" class="c30"/><path d="M237.5 182.5l2.4 2.5l3.9-2.3l-2.4-2.4z" class="c27"/><path d="M239.9 185l2.4 2.3l3.9-2.4l-2.4-2.2z" class="c25"/><path d="M242.3 187.3l2.4 2.2l3.9-2.5l-2.4-2.1z" class="c23"/><path d="M244.7 189.4l2.4 2l3.9-2.6l-2.4-2z" class="c21"/><path d="M247.1 191.4l2.4 1.9l3.9-2.6l-2.4-1.8z" class="c20"/><path d="M249.6 193.3l2.4 1.7l3.9-2.7l-2.4-1.7z" class="c19"/><path d="M252 195.1l2.4 1.6l3.9-2.7l-2.4-1.5z" class="c18"/><path d="M222.5 158.6L224.9 160.3L227.3 163.9L229.7 168L232.1 171.9L234.6 175.5L237 178.7L239.4 181.4L241.8 183.8L244.2 186.1L246.7 188.2L249.1 190.2L251.5 192L253.9 193.7L256.4 195.3" class="el"/><path d="M224.4 157.3L226.8 159L229.2 162.7L231.7 167L234.1 170.9L236.5 174.5L238.9 177.6L241.3 180.3L243.8 182.7L246.2 184.9L248.6 186.9L251 188.9L253.5 190.7L255.9 192.4L258.3 193.9" class="el"/><path d="M216.6 163l2.4 1.8l3.9-3l-2.4-1.7z" class="c51"/><path d="M219 164.8l2.4 3.1l3.9-2.8l-2.4-3.4z" class="c49"/><path d="M221.5 167.9l2.4 3.8l3.9-2.5l-2.4-4z" class="c45"/><path d="M223.9 171.7l2.4 3.8l3.9-2.4l-2.4-3.9z" class="c40"/><path d="M226.3 175.4l2.4 3.5l3.9-2.3l-2.4-3.5z" class="c35"/><path d="M228.7 178.9l2.4 3.1l3.9-2.2l-2.4-3.1z" class="c31"/><path d="M231.2 182l2.4 2.8l3.9-2.3l-2.4-2.8z" class="c28"/><path d="M233.6 184.8l2.4 2.6l3.9-2.4l-2.4-2.5z" class="c25"/><path d="M236 187.4l2.4 2.4l3.9-2.5l-2.4-2.3z" class="c23"/><path d="M238.4 189.8l2.4 2.2l3.9-2.5l-2.4-2.2z" class="c21"/><path d="M240.8 192l2.4 2.1l3.9-2.6l-2.4-2z" class="c19"/><path d="M243.3 194l2.4 1.9l3.9-2.6l-2.4-1.9z" class="c17"/><path d="M245.7 196l2.4 1.8l3.9-2.7l-2.4-1.7z" class="c16"/><path d="M248.1 197.8l2.4 1.7l3.9-2.8l-2.4-1.6z" class="c15"/><path d="M218.6 161.5L221 163.2L223.4 166.5L225.8 170.4L228.3 174.2L230.7 177.7L233.1 180.8L235.5 183.6L237.9 186.2L240.4 188.5L242.8 190.7L245.2 192.7L247.6 194.6L250 196.4L252.5 198.1" class="el"/><path d="M220.5 160L222.9 161.7L225.4 165.1L227.8 169.1L230.2 173L232.6 176.6L235 179.7L237.5 182.5L239.9 185L242.3 187.3L244.7 189.4L247.1 191.4L249.6 193.3L252 195.1L254.4 196.7" class="el"/><path d="M212.7 166.2l2.4 1.9l3.9-3.3l-2.4-1.8z" class="c48"/><path d="M215.2 168l2.4 2.9l3.9-3.1l-2.4-3.1z" class="c46"/><path d="M217.6 170.9l2.4 3.5l3.9-2.8l-2.4-3.8z" class="c42"/><path d="M220 174.4l2.4 3.6l3.9-2.5l-2.4-3.8z" class="c37"/><path d="M222.4 178l2.4 3.3l3.9-2.4l-2.4-3.5z" class="c33"/><path d="M224.8 181.3l2.4 3l3.9-2.4l-2.4-3.1z" class="c29"/><path d="M227.3 184.3l2.4 2.8l3.9-2.4l-2.4-2.8z" class="c26"/><path d="M229.7 187.2l2.4 2.6l3.9-2.5l-2.4-2.6z" class="c23"/><path d="M232.1 189.8l2.4 2.4l3.9-2.5l-2.4-2.4z" class="c21"/><path d="M234.5 192.3l2.4 2.3l3.9-2.6l-2.4-2.2z" class="c18"/><path d="M237 194.5l2.4 2.1l3.9-2.6l-2.4-2.1z" class="c16"/><path d="M239.4 196.6l2.4 2l3.9-2.6l-2.4-1.9z" class="c15"/><path d="M241.8 198.6l2.4 1.8l3.9-2.7l-2.4-1.8z" class="c13"/><path d="M244.2 200.4l2.4 1.7l3.9-2.7l-2.4-1.7z" class="c12"/><path d="M214.7 164.5L217.1 166.4L219.5 169.4L221.9 173L224.4 176.7L226.8 180.1L229.2 183.2L231.6 186L234.1 188.6L236.5 191L238.9 193.3L241.3 195.3L243.7 197.3L246.2 199.1L248.6 200.8" class="el"/><path d="M216.6 163L219 164.8L221.5 167.9L223.9 171.7L226.3 175.4L228.7 178.9L231.2 182L233.6 184.8L236 187.4L238.4 189.8L240.8 192L243.3 194L245.7 196L248.1 197.8L250.5 199.4" class="el"/><path d="M208.9 169.5l2.4 1.9l3.9-3.4l-2.4-1.9z" class="c44"/><path d="M211.3 171.4l2.4 2.8l3.9-3.2l-2.4-2.9z" class="c42"/><path d="M213.7 174.1l2.4 3.2l3.9-2.9l-2.4-3.5z" class="c39"/><path d="M216.1 177.3l2.4 3.3l3.9-2.6l-2.4-3.6z" class="c35"/><path d="M218.5 180.6l2.4 3.2l3.9-2.5l-2.4-3.3z" class="c31"/><path d="M221 183.8l2.4 3l3.9-2.5l-2.4-3z" class="c27"/><path d="M223.4 186.8l2.4 2.8l3.9-2.4l-2.4-2.8z" class="c24"/><path d="M225.8 189.6l2.4 2.7l3.9-2.5l-2.4-2.6z" class="c21"/><path d="M228.2 192.3l2.4 2.5l3.9-2.5l-2.4-2.4z" class="c18"/><path d="M230.6 194.8l2.4 2.3l3.9-2.5l-2.4-2.3z" class="c16"/><path d="M233.1 197l2.4 2.1l3.9-2.5l-2.4-2.1z" class="c14"/><path d="M235.5 199.2l2.4 2l3.9-2.6l-2.4-2z" class="c12"/><path d="M237.9 201.1l2.4 1.8l3.9-2.6l-2.4-1.8z" class="c11"/><path d="M240.3 203l2.4 1.7l3.9-2.6l-2.4-1.7z" class="c10"/><path d="M210.8 167.8L213.2 169.7L215.6 172.5L218.1 175.9L220.5 179.3L222.9 182.5L225.3 185.6L227.7 188.4L230.2 191.1L232.6 193.5L235 195.8L237.4 197.9L239.9 199.9L242.3 201.7L244.7 203.5" class="el"/><path d="M212.7 166.2L215.2 168L217.6 170.9L220 174.4L222.4 178L224.8 181.3L227.3 184.3L229.7 187.2L232.1 189.8L234.5 192.3L237 194.5L239.4 196.6L241.8 198.6L244.2 200.4L246.6 202.2" class="el"/><path d="M205 172.9l2.4 1.8l3.9-3.3l-2.4-1.9z" class="c41"/><path d="M207.4 174.7l2.4 2.6l3.9-3.2l-2.4-2.8z" class="c38"/><path d="M209.8 177.4l2.4 3l3.9-3l-2.4-3.2z" class="c35"/><path d="M212.2 180.3l2.4 3l3.9-2.7l-2.4-3.3z" class="c32"/><path d="M214.7 183.3l2.4 3l3.9-2.5l-2.4-3.2z" class="c28"/><path d="M217.1 186.3l2.4 3l3.9-2.5l-2.4-3z" class="c25"/><path d="M219.5 189.3l2.4 2.8l3.9-2.5l-2.4-2.8z" class="c22"/><path d="M221.9 192.1l2.4 2.6l3.9-2.4l-2.4-2.7z" class="c19"/><path d="M224.3 194.7l2.4 2.5l3.9-2.4l-2.4-2.5z" class="c16"/><path d="M226.8 197.2l2.4 2.3l3.9-2.4l-2.4-2.3z" class="c14"/><path d="M229.2 199.5l2.4 2.1l3.9-2.4l-2.4-2.1z" class="c12"/><path d="M231.6 201.6l2.4 2l3.9-2.4l-2.4-2z" class="c10"/><path d="M234 203.6l2.4 1.8l3.9-2.4l-2.4-1.8z" class="c9"/><path d="M236.4 205.4l2.4 1.7l3.9-2.3l-2.4-1.7z" class="c7"/><path d="M206.9 171.2L209.3 173.1L211.8 175.8L214.2 178.8L216.6 182L219 185.1L221.4 188L223.9 190.9L226.3 193.5L228.7 196L231.1 198.3L233.5 200.4L236 202.4L238.4 204.2L240.8 205.9" class="el"/><path d="M208.9 169.5L211.3 171.4L213.7 174.1L216.1 177.3L218.5 180.6L221 183.8L223.4 186.8L225.8 189.6L228.2 192.3L230.6 194.8L233.1 197L235.5 199.2L237.9 201.1L240.3 203L242.8 204.7" class="el"/><path d="M201.1 176.3l2.4 1.7l3.9-3.2l-2.4-1.8z" class="c37"/><path d="M203.5 178l2.4 2.5l3.9-3.1l-2.4-2.6z" class="c35"/><path d="M205.9 180.5l2.4 2.7l3.9-2.9l-2.4-3z" class="c32"/><path d="M208.3 183.2l2.4 2.7l3.9-2.6l-2.4-3z" class="c29"/><path d="M210.8 185.9l2.4 2.9l3.9-2.5l-2.4-3z" class="c26"/><path d="M213.2 188.8l2.4 2.9l3.9-2.4l-2.4-3z" class="c22"/><path d="M215.6 191.7l2.4 2.7l3.9-2.4l-2.4-2.8z" class="c19"/><path d="M218 194.4l2.4 2.6l3.9-2.3l-2.4-2.6z" class="c17"/><path d="M220.5 197l2.4 2.4l3.9-2.3l-2.4-2.5z" class="c14"/><path d="M222.9 199.4l2.4 2.3l3.9-2.3l-2.4-2.3z" class="c12"/><path d="M225.3 201.7l2.4 2.1l3.9-2.3l-2.4-2.1z" class="c10"/><path d="M227.7 203.9l2.4 2l3.9-2.2l-2.4-2z" class="c8"/><path d="M230.1 205.8l2.4 1.8l3.9-2.2l-2.4-1.8z" class="c7"/><path d="M232.6 207.6l2.4 1.6l3.9-2.1l-2.4-1.7z" class="c6"/><path d="M203 174.6L205.4 176.4L207.9 178.9L210.3 181.8L212.7 184.6L215.1 187.6L217.6 190.5L220 193.3L222.4 195.9L224.8 198.3L227.2 200.6L229.7 202.8L232.1 204.7L234.5 206.5L236.9 208.1" class="el"/><path d="M205 172.9L207.4 174.7L209.8 177.4L212.2 180.3L214.7 183.3L217.1 186.3L219.5 189.3L221.9 192.1L224.3 194.7L226.8 197.2L229.2 199.5L231.6 201.6L234 203.6L236.4 205.4L238.9 207.1" class="el"/><path d="M197.2 179.4l2.4 1.6l3.9-3.1l-2.4-1.7z" class="c33"/><path d="M199.6 181l2.4 2.3l3.9-2.9l-2.4-2.5z" class="c32"/><path d="M202 183.4l2.4 2.6l3.9-2.7l-2.4-2.7z" class="c29"/><path d="M204.5 185.9l2.4 2.5l3.9-2.5l-2.4-2.7z" class="c26"/><path d="M206.9 188.4l2.4 2.7l3.9-2.4l-2.4-2.9z" class="c23"/><path d="M209.3 191.2l2.4 2.8l3.9-2.2l-2.4-2.9z" class="c20"/><path d="M211.7 194l2.4 2.6l3.9-2.1l-2.4-2.7z" class="c17"/><path d="M214.1 196.6l2.4 2.5l3.9-2.1l-2.4-2.6z" class="c15"/><path d="M216.6 199.1l2.4 2.4l3.9-2l-2.4-2.4z" class="c12"/><path d="M219 201.5l2.4 2.3l3.9-2l-2.4-2.3z" class="c10"/><path d="M221.4 203.7l2.4 2.1l3.9-2l-2.4-2.1z" class="c8"/><path d="M223.8 205.8l2.4 1.9l3.9-2l-2.4-2z" class="c6"/><path d="M226.3 207.8l2.4 1.7l3.9-1.9l-2.4-1.8z" class="c5"/><path d="M228.7 209.5l2.4 1.4l3.9-1.8l-2.4-1.6z" class="c4"/><path d="M199.1 177.9L201.6 179.5L204 182L206.4 184.6L208.8 187.2L211.2 190L213.7 192.9L216.1 195.5L218.5 198.1L220.9 200.5L223.4 202.8L225.8 204.9L228.2 206.8L230.6 208.6L233 210.1" class="el"/><path d="M201.1 176.3L203.5 178L205.9 180.5L208.3 183.2L210.8 185.9L213.2 188.8L215.6 191.7L218 194.4L220.5 197L222.9 199.4L225.3 201.7L227.7 203.9L230.1 205.8L232.6 207.6L235 209.1" class="el"/><path d="M193.3 182.3l2.4 1.5l3.9-2.8l-2.4-1.6z" class="c30"/><path d="M195.7 183.9l2.4 2.1l3.9-2.7l-2.4-2.3z" class="c29"/><path d="M198.2 186l2.4 2.4l3.9-2.5l-2.4-2.6z" class="c26"/><path d="M200.6 188.4l2.4 2.4l3.9-2.4l-2.4-2.5z" class="c24"/><path d="M203 190.8l2.4 2.6l3.9-2.2l-2.4-2.7z" class="c21"/><path d="M205.4 193.4l2.4 2.6l3.9-2l-2.4-2.8z" class="c19"/><path d="M207.8 196l2.4 2.5l3.9-1.9l-2.4-2.6z" class="c16"/><path d="M210.3 198.5l2.4 2.4l3.9-1.9l-2.4-2.5z" class="c13"/><path d="M212.7 200.9l2.4 2.3l3.9-1.8l-2.4-2.4z" class="c11"/><path d="M215.1 203.3l2.4 2.2l3.9-1.8l-2.4-2.3z" class="c9"/><path d="M217.5 205.5l2.4 2.1l3.9-1.7l-2.4-2.1z" class="c7"/><path d="M219.9 207.6l2.4 1.9l3.9-1.7l-2.4-1.9z" class="c5"/><path d="M222.4 209.5l2.4 1.6l3.9-1.6l-2.4-1.7z" class="c4"/><path d="M224.8 211.1l2.4 1.3l3.9-1.5l-2.4-1.4z" class="c3"/><path d="M195.3 180.9L197.7 182.5L200.1 184.7L202.5 187.2L204.9 189.6L207.4 192.3L209.8 195L212.2 197.6L214.6 200L217 202.4L219.5 204.7L221.9 206.7L224.3 208.6L226.7 210.3L229.2 211.7" class="el"/><path d="M197.2 179.4L199.6 181L202 183.4L204.5 185.9L206.9 188.4L209.3 191.2L211.7 194L214.1 196.6L216.6 199.1L219 201.5L221.4 203.7L223.8 205.8L226.3 207.8L228.7 209.5L231.1 210.9" class="el"/><path d="M189.4 185l2.4 1.5l3.9-2.6l-2.4-1.5z" class="c27"/><path d="M191.8 186.5l2.4 1.9l3.9-2.4l-2.4-2.1z" class="c26"/><path d="M194.3 188.5l2.4 2.2l3.9-2.3l-2.4-2.4z" class="c24"/><path d="M196.7 190.7l2.4 2.4l3.9-2.3l-2.4-2.4z" class="c22"/><path d="M199.1 193.1l2.4 2.4l3.9-2.1l-2.4-2.6z" class="c19"/><path d="M201.5 195.5l2.4 2.4l3.9-1.9l-2.4-2.6z" class="c17"/><path d="M204 197.9l2.4 2.4l3.9-1.8l-2.4-2.5z" class="c14"/><path d="M206.4 200.3l2.4 2.4l3.9-1.7l-2.4-2.4z" class="c12"/><path d="M208.8 202.7l2.4 2.3l3.9-1.7l-2.4-2.3z" class="c10"/><path d="M211.2 205l2.4 2.2l3.9-1.6l-2.4-2.2z" class="c8"/><path d="M213.6 207.1l2.4 2l3.9-1.5l-2.4-2.1z" class="c6"/><path d="M216.1 209.1l2.4 1.8l3.9-1.5l-2.4-1.9z" class="c4"/><path d="M218.5 210.9l2.4 1.5l3.9-1.4l-2.4-1.6z" class="c3"/><path d="M220.9 212.4l2.4 1.2l3.9-1.3l-2.4-1.3z" class="c3"/><path d="M191.4 183.7L193.8 185.2L196.2 187.3L198.6 189.6L201.1 192L203.5 194.5L205.9 197L208.3 199.4L210.7 201.8L213.2 204.1L215.6 206.3L218 208.4L220.4 210.2L222.8 211.8L225.3 213" class="el"/><path d="M193.3 182.3L195.7 183.9L198.2 186L200.6 188.4L203 190.8L205.4 193.4L207.8 196L210.3 198.5L212.7 200.9L215.1 203.3L217.5 205.5L219.9 207.6L222.4 209.5L224.8 211.1L227.2 212.4" class="el"/><path d="M185.5 187.5l2.4 1.5l3.9-2.4l-2.4-1.5z" class="c25"/><path d="M188 189l2.4 1.8l3.9-2.3l-2.4-1.9z" class="c24"/><path d="M190.4 190.8l2.4 2.1l3.9-2.2l-2.4-2.2z" class="c22"/><path d="M192.8 192.9l2.4 2.3l3.9-2.1l-2.4-2.4z" class="c20"/><path d="M195.2 195.2l2.4 2.3l3.9-2l-2.4-2.4z" class="c18"/><path d="M197.6 197.5l2.4 2.2l3.9-1.8l-2.4-2.4z" class="c16"/><path d="M200.1 199.7l2.4 2.3l3.9-1.7l-2.4-2.4z" class="c13"/><path d="M202.5 202l2.4 2.3l3.9-1.6l-2.4-2.4z" class="c11"/><path d="M204.9 204.3l2.4 2.2l3.9-1.5l-2.4-2.3z" class="c9"/><path d="M207.3 206.5l2.4 2.1l3.9-1.5l-2.4-2.2z" class="c7"/><path d="M209.8 208.6l2.4 1.9l3.9-1.4l-2.4-2z" class="c5"/><path d="M212.2 210.5l2.4 1.7l3.9-1.3l-2.4-1.8z" class="c4"/><path d="M214.6 212.2l2.4 1.4l3.9-1.2l-2.4-1.5z" class="c3"/><path d="M217 213.7l2.4 1.1l3.9-1.2l-2.4-1.2z" class="c3"/><path d="M187.5 186.3L189.9 187.8L192.3 189.6L194.7 191.8L197.2 194.2L199.6 196.5L202 198.8L204.4 201.1L206.9 203.5L209.3 205.7L211.7 207.9L214.1 209.8L216.5 211.6L219 213.1L221.4 214.2" class="el"/><path d="M189.4 185L191.8 186.5L194.3 188.5L196.7 190.7L199.1 193.1L201.5 195.5L204 197.9L206.4 200.3L208.8 202.7L211.2 205L213.6 207.1L216.1 209.1L218.5 210.9L220.9 212.4L223.3 213.6" class="el"/><path d="M181.7 189.7l2.4 1.5l3.9-2.2l-2.4-1.5z" class="c23"/><path d="M184.1 191.2l2.4 1.7l3.9-2.1l-2.4-1.8z" class="c22"/><path d="M186.5 192.9l2.4 2l3.9-2l-2.4-2.1z" class="c20"/><path d="M188.9 194.9l2.4 2.3l3.9-2l-2.4-2.3z" class="c18"/><path d="M191.3 197.2l2.4 2.2l3.9-1.9l-2.4-2.3z" class="c16"/><path d="M193.8 199.3l2.4 2.1l3.9-1.8l-2.4-2.2z" class="c14"/><path d="M196.2 201.4l2.4 2.2l3.9-1.7l-2.4-2.3z" class="c12"/><path d="M198.6 203.6l2.4 2.2l3.9-1.6l-2.4-2.3z" class="c10"/><path d="M201 205.8l2.4 2.1l3.9-1.5l-2.4-2.2z" class="c8"/><path d="M203.4 208l2.4 2l3.9-1.4l-2.4-2.1z" class="c7"/><path d="M205.9 210l2.4 1.8l3.9-1.3l-2.4-1.9z" class="c5"/><path d="M208.3 211.8l2.4 1.6l3.9-1.2l-2.4-1.7z" class="c4"/><path d="M210.7 213.5l2.4 1.4l3.9-1.2l-2.4-1.4z" class="c3"/><path d="M213.1 214.8l2.4 1.1l3.9-1.1l-2.4-1.1z" class="c3"/><path d="M183.6 188.6L186 190.1L188.4 191.8L190.9 193.9L193.3 196.2L195.7 198.4L198.1 200.6L200.5 202.8L203 205.1L205.4 207.2L207.8 209.3L210.2 211.2L212.7 212.9L215.1 214.3L217.5 215.4" class="el"/><path d="M185.5 187.5L188 189L190.4 190.8L192.8 192.9L195.2 195.2L197.6 197.5L200.1 199.7L202.5 202L204.9 204.3L207.3 206.5L209.8 208.6L212.2 210.5L214.6 212.2L217 213.7L219.4 214.8" class="el"/><path d="M177.8 191.7l2.4 1.6l3.9-2l-2.4-1.5z" class="c21"/><path d="M180.2 193.2l2.4 1.7l3.9-2.1l-2.4-1.7z" class="c20"/><path d="M182.6 195l2.4 1.9l3.9-2l-2.4-2z" class="c19"/><path d="M185 196.9l2.4 2.1l3.9-1.8l-2.4-2.3z" class="c17"/><path d="M187.5 199l2.4 2.1l3.9-1.8l-2.4-2.2z" class="c15"/><path d="M189.9 201.1l2.4 2.1l3.9-1.8l-2.4-2.1z" class="c13"/><path d="M192.3 203.2l2.4 2.1l3.9-1.7l-2.4-2.2z" class="c11"/><path d="M194.7 205.3l2.4 2.1l3.9-1.6l-2.4-2.2z" class="c10"/><path d="M197.1 207.4l2.4 2l3.9-1.5l-2.4-2.1z" class="c8"/><path d="M199.6 209.5l2.4 1.9l3.9-1.4l-2.4-2z" class="c6"/><path d="M202 211.3l2.4 1.7l3.9-1.3l-2.4-1.8z" class="c5"/><path d="M204.4 213.1l2.4 1.6l3.9-1.2l-2.4-1.6z" class="c4"/><path d="M206.8 214.7l2.4 1.4l3.9-1.2l-2.4-1.4z" class="c3"/><path d="M209.2 216l2.4 1.1l3.9-1.2l-2.4-1.1z" class="c3"/><path d="M177.8 191.7L180.2 193.2L182.6 195L185 196.9L187.5 199L189.9 201.1L192.3 203.2L194.7 205.3L197.1 207.4L199.6 209.5L202 211.3L204.4 213.1L206.8 214.7L209.2 216L211.7 217.1" class="el"/><path d="M179.7 190.7L182.1 192.2L184.6 193.9L187 195.9L189.4 198.1L191.8 200.2L194.2 202.3L196.7 204.5L199.1 206.6L201.5 208.7L203.9 210.7L206.3 212.5L208.8 214.1L211.2 215.4L213.6 216.5" class="el"/><path d="M181.7 189.7L184.1 191.2L186.5 192.9L188.9 194.9L191.3 197.2L193.8 199.3L196.2 201.4L198.6 203.6L201 205.8L203.4 208L205.9 210L208.3 211.8L210.7 213.5L213.1 214.8L215.6 215.9" class="el"/></g><text x="15.9" y="137" class="t" text-anchor="middle">0</text><text x="25.4" y="137" class="t" text-anchor="middle">20</text><text x="34.65" y="137" class="t" text-anchor="middle">40</text><text x="38.6" y="140.85" class="t" text-anchor="middle">80</text><text x="38.6" y="148.72" class="t" text-anchor="middle">75</text><text x="38.6" y="156.6" class="t" text-anchor="middle">70</text><text x="38.6" y="164.47" class="t" text-anchor="middle">65</text><text x="38.6" y="172.35" class="t" text-anchor="middle">60</text><text x="38.6" y="180.22" class="t" text-anchor="middle">55</text><text x="38.6" y="188.1" class="t" text-anchor="middle">50</text><text x="38.6" y="195.97" class="t" text-anchor="middle">45</text><text x="38.6" y="203.85" class="t" text-anchor="middle">40</text><text x="38.6" y="211.72" class="t" text-anchor="middle">35</text><text x="38.6" y="219.6" class="t" text-anchor="middle">30</text><text x="43.15" y="223.85" class="t" text-anchor="middle">0.5</text><text x="43.15" y="247.25" class="t" text-anchor="middle">0.5</text><text x="53.99" y="223.85" class="t" text-anchor="middle">1</text><text x="53.99" y="247.25" class="t" text-anchor="middle">1</text><text x="64.84" y="223.85" class="t" text-anchor="middle">1.5</text><text x="64.84" y="247.25" class="t" text-anchor="middle">1.5</text><text x="75.68" y="223.85" class="t" text-anchor="middle">2</text><text x="75.68" y="247.25" class="t" text-anchor="middle">2</text><text x="86.53" y="223.85" class="t" text-anchor="middle">2.5</text><text x="86.53" y="247.25" class="t" text-anchor="middle">2.5</text><text x="97.37" y="223.85" class="t" text-anchor="middle">3</text><text x="97.37" y="247.25" class="t" text-anchor="middle">3</text><text x="108.22" y="223.85" class="t" text-anchor="middle">3.5</text><text x="108.22" y="247.25" class="t" text-anchor="middle">3.5</text><text x="119.06" y="223.85" class="t" text-anchor="middle">4</text><text x="119.06" y="247.25" class="t" text-anchor="middle">4</text><text x="129.91" y="223.85" class="t" text-anchor="middle">4.5</text><text x="129.91" y="247.25" class="t" text-anchor="middle">4.5</text><text x="140.75" y="223.85" class="t" text-anchor="middle">5</text><text x="140.75" y="247.25" class="t" text-anchor="middle">5</text><text x="170.8" y="207.35" class="t" text-anchor="middle">0</text><text x="185.87" y="213.98" class="t" text-anchor="middle">2</text><text x="200.93" y="220.62" class="t" text-anchor="middle">4</text><text x="216" y="227.25" class="t" text-anchor="middle">6</text><text x="175.2" y="217.75" class="t" text-anchor="middle">×10<tspan dy="-1" font-size="2.6">4</tspan></text><text x="223.8" y="227.05" class="t" text-anchor="middle">30</text><text x="234.68" y="223.79" class="t" text-anchor="middle">40</text><text x="245.56" y="220.53" class="t" text-anchor="middle">50</text><text x="256.44" y="217.27" class="t" text-anchor="middle">60</text><text x="267.32" y="214.01" class="t" text-anchor="middle">70</text><text x="278.2" y="210.75" class="t" text-anchor="middle">80</text><text x="14" y="140.85" class="t" text-anchor="end">80</text><text x="14" y="148.72" class="t" text-anchor="end">75</text><text x="14" y="156.6" class="t" text-anchor="end">70</text><text x="14" y="164.47" class="t" text-anchor="end">65</text><text x="14" y="172.35" class="t" text-anchor="end">60</text><text x="14" y="180.22" class="t" text-anchor="end">55</text><text x="14" y="188.1" class="t" text-anchor="end">50</text><text x="14" y="195.97" class="t" text-anchor="end">45</text><text x="14" y="203.85" class="t" text-anchor="end">40</text><text x="14" y="211.72" class="t" text-anchor="end">35</text><text x="14" y="219.6" class="t" text-anchor="end">30</text><text x="141.4" y="228.85" class="t" text-anchor="end">×10<tspan dy="-1" font-size="2.6">4</tspan></text><text x="141.4" y="252.25" class="t" text-anchor="end">×10<tspan dy="-1" font-size="2.6">4</tspan></text><text x="41" y="233.35" class="t" text-anchor="end">50</text><text x="41" y="243.95" class="t" text-anchor="end">0</text><text x="151.7" y="215.15" class="t" text-anchor="start">75</text><text x="151.7" y="206.93" class="t" text-anchor="start">80</text><text x="151.7" y="198.71" class="t" text-anchor="start">85</text><text x="151.7" y="190.48" class="t" text-anchor="start">90</text><text x="151.7" y="182.26" class="t" text-anchor="start">95</text><text x="151.7" y="174.04" class="t" text-anchor="start">100</text><text x="151.7" y="165.81" class="t" text-anchor="start">105</text><text x="151.7" y="157.59" class="t" text-anchor="start">110</text><text x="151.7" y="149.37" class="t" text-anchor="start">115</text><text x="151.7" y="141.14" class="t" text-anchor="start">120</text><text x="171.8" y="204.55" class="t" text-anchor="end">70</text><text x="171.8" y="197.17" class="t" text-anchor="end">80</text><text x="171.8" y="189.78" class="t" text-anchor="end">90</text><text x="171.8" y="182.4" class="t" text-anchor="end">100</text><text x="171.8" y="175.02" class="t" text-anchor="end">110</text><text x="171.8" y="167.63" class="t" text-anchor="end">120</text><text x="171.8" y="160.25" class="t" text-anchor="end">130</text><text x="86.2" y="254" class="alL" text-anchor="middle" textLength="12.2" lengthAdjust="spacingAndGlyphs" style="font-size:6px">Area</text><text x="154.1" y="260.2" class="pl" text-anchor="middle">(b)</text><text x="196.3" y="227.5" class="al3" text-anchor="middle" textLength="9.8" lengthAdjust="spacingAndGlyphs">Area</text><text x="264.8" y="228" class="al3" text-anchor="middle" textLength="45.6" lengthAdjust="spacingAndGlyphs">Transmission Range</text><text transform="translate(4.1 176) rotate(-90)" text-anchor="middle" class="alL" style="font-size:6px" textLength="53" lengthAdjust="spacingAndGlyphs">Transmission Range</text><text transform="translate(163 181.75) rotate(-90)" text-anchor="middle" class="zl">No. of Barriers</text><g clip-path="url(#c57)"><g filter="url(#bv)"><rect x="42" y="275.39" width="98.75" height="4.06" fill="url(#g58)"/><rect x="42" y="278.75" width="98.75" height="4.06" fill="url(#g59)"/><rect x="42" y="282.11" width="98.75" height="4.06" fill="url(#g60)"/><rect x="42" y="285.46" width="98.75" height="4.06" fill="url(#g61)"/><rect x="42" y="288.82" width="98.75" height="4.06" fill="url(#g62)"/><rect x="42" y="292.18" width="98.75" height="4.06" fill="url(#g63)"/><rect x="42" y="295.53" width="98.75" height="4.06" fill="url(#g64)"/><rect x="42" y="298.89" width="98.75" height="4.06" fill="url(#g65)"/><rect x="42" y="302.24" width="98.75" height="4.06" fill="url(#g66)"/><rect x="42" y="305.6" width="98.75" height="4.06" fill="url(#g67)"/><rect x="42" y="308.96" width="98.75" height="4.06" fill="url(#g68)"/><rect x="42" y="312.31" width="98.75" height="4.06" fill="url(#g69)"/><rect x="42" y="315.67" width="98.75" height="4.06" fill="url(#g70)"/><rect x="42" y="319.02" width="98.75" height="4.06" fill="url(#g71)"/><rect x="42" y="322.38" width="98.75" height="4.06" fill="url(#g72)"/><rect x="42" y="325.74" width="98.75" height="4.06" fill="url(#g73)"/><rect x="42" y="329.09" width="98.75" height="4.06" fill="url(#g74)"/><rect x="42" y="332.45" width="98.75" height="4.06" fill="url(#g75)"/><rect x="42" y="335.81" width="98.75" height="4.06" fill="url(#g76)"/><rect x="42" y="339.16" width="98.75" height="4.06" fill="url(#g77)"/><rect x="42" y="342.52" width="98.75" height="4.06" fill="url(#g78)"/><rect x="42" y="345.88" width="98.75" height="4.06" fill="url(#g79)"/><rect x="42" y="349.23" width="98.75" height="4.06" fill="url(#g80)"/><rect x="42" y="352.59" width="98.75" height="4.06" fill="url(#g81)"/><rect x="42" y="355.94" width="98.75" height="4.06" fill="url(#g82)"/><rect x="42" y="359.3" width="98.75" height="4.06" fill="url(#g83)"/></g></g><rect x="144.25" y="278.4" width="5.35" height="80.85" fill="url(#g84)" stroke="#888" stroke-width="0.35"/><rect x="14.8" y="279.4" width="17.8" height="79.2" fill="#fff" stroke="#aaa" stroke-width="0.4"/><rect x="14.8" y="279.4" width="15.4" height="13.6" class="hb"/><rect x="14.8" y="293" width="13" height="13.3" class="hb"/><rect x="14.8" y="306.3" width="13" height="13.1" class="hb"/><rect x="14.8" y="319.4" width="13" height="13.1" class="hb"/><rect x="14.8" y="332.5" width="13" height="13" class="hb"/><rect x="14.8" y="345.5" width="15.4" height="13.1" class="hb"/><rect x="42.2" y="371.5" width="98.3" height="11.1" fill="#fff" stroke="#aaa" stroke-width="0.4"/><rect x="42.2" y="377.2" width="9.1" height="5.4" class="hb"/><rect x="51.3" y="371.8" width="19.2" height="10.8" class="hb"/><rect x="70.5" y="377.2" width="19.9" height="5.4" class="hb"/><rect x="90.4" y="377.2" width="19.6" height="5.4" class="hb"/><rect x="110" y="377.2" width="19.5" height="5.4" class="hb"/><rect x="129.5" y="377.2" width="11" height="5.4" class="hb"/><path d="M173.3 341.7L227.8 325.7L272.7 345.3M173.3 330.9L227.8 314.9L272.7 334.5M173.3 320.1L227.8 304.1L272.7 323.7M173.3 309.3L227.8 293.3L272.7 312.9M173.3 298.5L227.8 282.5L272.7 302.1M173.3 341.7L227.8 325.7L227.8 282.5M188.27 348.23L242.77 332.23L242.77 289.03M203.23 354.77L257.73 338.77L257.73 295.57M218.2 361.3L272.7 345.3L272.7 302.1M218.2 361.3L173.3 341.7L173.3 298.5M236.37 355.97L191.47 336.37L191.47 293.17M254.53 350.63L209.63 331.03L209.63 287.83M272.7 345.3L227.8 325.7L227.8 282.5" fill="none" stroke="#ececec" stroke-width="0.3"/><path d="M173.3 298.5L173.3 341.7L218.2 361.3L272.7 345.3" fill="none" stroke="#555" stroke-width="0.45"/><g class="s"><path d="M227.6 293.4l2.4 1.7l3.9-1.2l-2.4-1.7z" class="c59"/><path d="M230.1 295.2l2.4 5l3.9-1.1l-2.4-5.1z" class="c54"/><path d="M232.5 300.2l2.4 6.5l3.9-1l-2.4-6.6z" class="c45"/><path d="M234.9 306.6l2.4 6.1l3.9-0.9l-2.4-6.2z" class="c34"/><path d="M237.3 312.8l2.4 4.2l3.9-1.1l-2.4-4.1z" class="c26"/><path d="M239.7 317l2.4 2.7l3.9-1.3l-2.4-2.5z" class="c22"/><path d="M242.1 319.7l2.4 2l3.9-1.4l-2.4-1.9z" class="c19"/><path d="M244.5 321.7l2.4 1.6l3.9-1.5l-2.4-1.5z" class="c18"/><path d="M246.9 323.3l2.4 1.5l3.9-1.6l-2.4-1.4z" class="c17"/><path d="M249.3 324.8l2.4 1.5l3.9-1.7l-2.4-1.3z" class="c17"/><path d="M251.7 326.3l2.4 1.4l3.9-1.9l-2.4-1.2z" class="c16"/><path d="M254.1 327.7l2.4 1.3l3.9-2.2l-2.4-1.1z" class="c15"/><path d="M256.5 329l2.4 1.2l3.9-2.4l-2.4-1z" class="c15"/><path d="M258.9 330.3l2.4 1l3.9-2.7l-2.4-0.8z" class="c15"/><path d="M229.6 292.8L232 294.5L234.4 299.5L236.8 306.1L239.2 312.3L241.6 316.4L244 319.1L246.4 321L248.8 322.6L251.2 324L253.6 325.4L256.1 326.7L258.5 328L260.9 329L263.3 330" class="el"/><path d="M231.5 292.3L233.9 294L236.4 299L238.8 305.6L241.2 311.8L243.6 315.9L246 318.4L248.4 320.3L250.8 321.9L253.2 323.2L255.6 324.5L258 325.8L260.4 326.9L262.8 327.8L265.2 328.6" class="el"/><path d="M223.8 295.1l2.4 1.8l3.9-1.7l-2.4-1.7z" class="c58"/><path d="M226.2 296.9l2.4 4.9l3.9-1.6l-2.4-5z" class="c54"/><path d="M228.6 301.8l2.4 6.3l3.9-1.4l-2.4-6.5z" class="c45"/><path d="M231 308l2.4 5.9l3.9-1.2l-2.4-6.1z" class="c34"/><path d="M233.4 314l2.4 4.2l3.9-1.2l-2.4-4.2z" class="c27"/><path d="M235.8 318.2l2.4 2.8l3.9-1.3l-2.4-2.7z" class="c22"/><path d="M238.2 321l2.4 2.1l3.9-1.4l-2.4-2z" class="c19"/><path d="M240.6 323.1l2.4 1.7l3.9-1.6l-2.4-1.6z" class="c18"/><path d="M243 324.9l2.4 1.6l3.9-1.7l-2.4-1.5z" class="c16"/><path d="M245.4 326.5l2.4 1.6l3.9-1.9l-2.4-1.5z" class="c15"/><path d="M247.8 328.2l2.4 1.6l3.9-2.1l-2.4-1.4z" class="c14"/><path d="M250.2 329.8l2.4 1.5l3.9-2.2l-2.4-1.3z" class="c14"/><path d="M252.6 331.3l2.4 1.4l3.9-2.4l-2.4-1.2z" class="c13"/><path d="M255 332.6l2.4 1.2l3.9-2.5l-2.4-1z" class="c13"/><path d="M225.7 294.2L228.1 295.9L230.5 300.9L232.9 307.3L235.3 313.3L237.7 317.6L240.1 320.3L242.5 322.4L244.9 324.1L247.4 325.6L249.8 327.2L252.2 328.7L254.6 330.2L257 331.5L259.4 332.6" class="el"/><path d="M227.6 293.4L230.1 295.2L232.5 300.2L234.9 306.6L237.3 312.8L239.7 317L242.1 319.7L244.5 321.7L246.9 323.3L249.3 324.8L251.7 326.3L254.1 327.7L256.5 329L258.9 330.3L261.3 331.3" class="el"/><path d="M219.9 297.2l2.4 1.8l3.9-2.1l-2.4-1.8z" class="c57"/><path d="M222.3 299l2.4 4.7l3.9-2l-2.4-4.9z" class="c52"/><path d="M224.7 303.7l2.4 6l3.9-1.7l-2.4-6.3z" class="c44"/><path d="M227.1 309.7l2.4 5.7l3.9-1.4l-2.4-5.9z" class="c34"/><path d="M229.5 315.4l2.4 4.2l3.9-1.3l-2.4-4.2z" class="c26"/><path d="M231.9 319.5l2.4 2.9l3.9-1.4l-2.4-2.8z" class="c21"/><path d="M234.3 322.4l2.4 2.2l3.9-1.5l-2.4-2.1z" class="c19"/><path d="M236.7 324.6l2.4 1.9l3.9-1.7l-2.4-1.7z" class="c17"/><path d="M239.1 326.5l2.4 1.8l3.9-1.8l-2.4-1.6z" class="c15"/><path d="M241.5 328.3l2.4 1.8l3.9-2l-2.4-1.6z" class="c14"/><path d="M243.9 330.1l2.4 1.7l3.9-2.1l-2.4-1.6z" class="c13"/><path d="M246.3 331.9l2.4 1.6l3.9-2.2l-2.4-1.5z" class="c12"/><path d="M248.7 333.5l2.4 1.4l3.9-2.3l-2.4-1.4z" class="c11"/><path d="M251.1 334.9l2.4 1.2l3.9-2.3l-2.4-1.2z" class="c10"/><path d="M221.8 296.1L224.2 297.9L226.6 302.7L229 308.8L231.4 314.6L233.8 318.8L236.2 321.7L238.6 323.9L241.1 325.7L243.5 327.4L245.9 329.1L248.3 330.8L250.7 332.4L253.1 333.8L255.5 335" class="el"/><path d="M223.8 295.1L226.2 296.9L228.6 301.8L231 308L233.4 314L235.8 318.2L238.2 321L240.6 323.1L243 324.9L245.4 326.5L247.8 328.2L250.2 329.8L252.6 331.3L255 332.6L257.4 333.8" class="el"/><path d="M216 299.6l2.4 1.8l3.9-2.5l-2.4-1.8z" class="c54"/><path d="M218.4 301.5l2.4 4.5l3.9-2.2l-2.4-4.7z" class="c50"/><path d="M220.8 305.9l2.4 5.6l3.9-1.9l-2.4-6z" class="c42"/><path d="M223.2 311.6l2.4 5.3l3.9-1.6l-2.4-5.7z" class="c33"/><path d="M225.6 316.9l2.4 4l3.9-1.4l-2.4-4.2z" class="c26"/><path d="M228 320.9l2.4 2.9l3.9-1.5l-2.4-2.9z" class="c21"/><path d="M230.4 323.8l2.4 2.4l3.9-1.6l-2.4-2.2z" class="c18"/><path d="M232.8 326.2l2.4 2.1l3.9-1.7l-2.4-1.9z" class="c16"/><path d="M235.2 328.3l2.4 2l3.9-1.9l-2.4-1.8z" class="c14"/><path d="M237.6 330.2l2.4 1.9l3.9-2l-2.4-1.8z" class="c12"/><path d="M240 332.2l2.4 1.8l3.9-2.1l-2.4-1.7z" class="c11"/><path d="M242.4 334l2.4 1.7l3.9-2.2l-2.4-1.6z" class="c10"/><path d="M244.8 335.7l2.4 1.5l3.9-2.2l-2.4-1.4z" class="c9"/><path d="M247.2 337.1l2.4 1.2l3.9-2.2l-2.4-1.2z" class="c8"/><path d="M217.9 298.4L220.3 300.2L222.7 304.8L225.1 310.6L227.5 316.1L229.9 320.2L232.3 323.1L234.8 325.4L237.2 327.4L239.6 329.3L242 331.1L244.4 332.9L246.8 334.6L249.2 336L251.6 337.3" class="el"/><path d="M219.9 297.2L222.3 299L224.7 303.7L227.1 309.7L229.5 315.4L231.9 319.5L234.3 322.4L236.7 324.6L239.1 326.5L241.5 328.3L243.9 330.1L246.3 331.9L248.7 333.5L251.1 334.9L253.5 336.1" class="el"/><path d="M212.1 302.2l2.4 1.9l3.9-2.7l-2.4-1.8z" class="c52"/><path d="M214.5 304.1l2.4 4.2l3.9-2.4l-2.4-4.5z" class="c48"/><path d="M216.9 308.4l2.4 5.2l3.9-2l-2.4-5.6z" class="c40"/><path d="M219.3 313.6l2.4 5l3.9-1.7l-2.4-5.3z" class="c32"/><path d="M221.7 318.6l2.4 3.8l3.9-1.5l-2.4-4z" class="c25"/><path d="M224.1 322.5l2.4 2.9l3.9-1.5l-2.4-2.9z" class="c20"/><path d="M226.5 325.4l2.4 2.5l3.9-1.6l-2.4-2.4z" class="c17"/><path d="M228.9 327.9l2.4 2.2l3.9-1.8l-2.4-2.1z" class="c15"/><path d="M231.3 330.1l2.4 2.1l3.9-1.9l-2.4-2z" class="c13"/><path d="M233.7 332.2l2.4 2l3.9-2l-2.4-1.9z" class="c11"/><path d="M236.1 334.2l2.4 1.9l3.9-2.1l-2.4-1.8z" class="c9"/><path d="M238.5 336l2.4 1.7l3.9-2.1l-2.4-1.7z" class="c8"/><path d="M240.9 337.7l2.4 1.5l3.9-2l-2.4-1.5z" class="c7"/><path d="M243.3 339.2l2.4 1.2l3.9-2l-2.4-1.2z" class="c6"/><path d="M214 300.9L216.4 302.8L218.8 307.1L221.2 312.6L223.6 317.8L226.1 321.7L228.5 324.6L230.9 327L233.3 329.2L235.7 331.2L238.1 333.2L240.5 335L242.9 336.7L245.3 338.2L247.7 339.4" class="el"/><path d="M216 299.6L218.4 301.5L220.8 305.9L223.2 311.6L225.6 316.9L228 320.9L230.4 323.8L232.8 326.2L235.2 328.3L237.6 330.2L240 332.2L242.4 334L244.8 335.7L247.2 337.1L249.6 338.3" class="el"/><path d="M208.2 304.9l2.4 2l3.9-2.8l-2.4-1.9z" class="c49"/><path d="M210.6 306.9l2.4 4l3.9-2.5l-2.4-4.2z" class="c45"/><path d="M213 310.9l2.4 4.8l3.9-2.1l-2.4-5.2z" class="c38"/><path d="M215.4 315.8l2.4 4.6l3.9-1.8l-2.4-5z" class="c30"/><path d="M217.8 320.4l2.4 3.7l3.9-1.6l-2.4-3.8z" class="c24"/><path d="M220.2 324.1l2.4 2.9l3.9-1.6l-2.4-2.9z" class="c19"/><path d="M222.6 327l2.4 2.6l3.9-1.7l-2.4-2.5z" class="c16"/><path d="M225 329.6l2.4 2.3l3.9-1.8l-2.4-2.2z" class="c14"/><path d="M227.4 331.9l2.4 2.2l3.9-1.9l-2.4-2.1z" class="c11"/><path d="M229.8 334.1l2.4 2l3.9-1.9l-2.4-2z" class="c9"/><path d="M232.2 336.1l2.4 1.9l3.9-1.9l-2.4-1.9z" class="c8"/><path d="M234.6 338l2.4 1.7l3.9-1.9l-2.4-1.7z" class="c6"/><path d="M237 339.6l2.4 1.4l3.9-1.9l-2.4-1.5z" class="c5"/><path d="M239.5 341l2.4 1.2l3.9-1.9l-2.4-1.2z" class="c5"/><path d="M210.1 303.6L212.5 305.5L214.9 309.6L217.3 314.7L219.8 319.5L222.2 323.3L224.6 326.2L227 328.7L229.4 331L231.8 333.1L234.2 335.2L236.6 337L239 338.7L241.4 340.1L243.8 341.3" class="el"/><path d="M212.1 302.2L214.5 304.1L216.9 308.4L219.3 313.6L221.7 318.6L224.1 322.5L226.5 325.4L228.9 327.9L231.3 330.1L233.7 332.2L236.1 334.2L238.5 336L240.9 337.7L243.3 339.2L245.8 340.3" class="el"/><path d="M204.3 307.6l2.4 2.2l3.9-2.8l-2.4-2z" class="c45"/><path d="M206.7 309.8l2.4 3.8l3.9-2.6l-2.4-4z" class="c42"/><path d="M209.1 313.5l2.4 4.4l3.9-2.2l-2.4-4.8z" class="c35"/><path d="M211.5 318l2.4 4.3l3.9-1.9l-2.4-4.6z" class="c29"/><path d="M213.9 322.3l2.4 3.5l3.9-1.7l-2.4-3.7z" class="c23"/><path d="M216.3 325.8l2.4 2.9l3.9-1.7l-2.4-2.9z" class="c18"/><path d="M218.7 328.7l2.4 2.6l3.9-1.8l-2.4-2.6z" class="c15"/><path d="M221.1 331.3l2.4 2.4l3.9-1.8l-2.4-2.3z" class="c12"/><path d="M223.5 333.7l2.4 2.2l3.9-1.9l-2.4-2.2z" class="c10"/><path d="M225.9 336l2.4 2l3.9-1.9l-2.4-2z" class="c8"/><path d="M228.3 338l2.4 1.8l3.9-1.8l-2.4-1.9z" class="c6"/><path d="M230.8 339.8l2.4 1.6l3.9-1.7l-2.4-1.7z" class="c5"/><path d="M233.2 341.4l2.4 1.4l3.9-1.7l-2.4-1.4z" class="c4"/><path d="M235.6 342.7l2.4 1.2l3.9-1.7l-2.4-1.2z" class="c3"/><path d="M206.2 306.2L208.6 308.3L211 312.2L213.5 316.9L215.9 321.3L218.3 324.9L220.7 327.8L223.1 330.4L225.5 332.8L227.9 335L230.3 337.1L232.7 338.9L235.1 340.5L237.5 341.9L239.9 343.1" class="el"/><path d="M208.2 304.9L210.6 306.9L213 310.9L215.4 315.8L217.8 320.4L220.2 324.1L222.6 327L225 329.6L227.4 331.9L229.8 334.1L232.2 336.1L234.6 338L237 339.6L239.5 341L241.9 342.2" class="el"/><path d="M200.4 310.2l2.4 2.4l3.9-2.8l-2.4-2.2z" class="c42"/><path d="M202.8 312.6l2.4 3.6l3.9-2.6l-2.4-3.8z" class="c39"/><path d="M205.2 316.1l2.4 4.1l3.9-2.2l-2.4-4.4z" class="c33"/><path d="M207.6 320.2l2.4 4l3.9-1.9l-2.4-4.3z" class="c27"/><path d="M210 324.2l2.4 3.4l3.9-1.8l-2.4-3.5z" class="c21"/><path d="M212.4 327.5l2.4 2.9l3.9-1.8l-2.4-2.9z" class="c17"/><path d="M214.8 330.5l2.4 2.7l3.9-1.8l-2.4-2.6z" class="c14"/><path d="M217.2 333.1l2.4 2.4l3.9-1.8l-2.4-2.4z" class="c11"/><path d="M219.6 335.6l2.4 2.2l3.9-1.8l-2.4-2.2z" class="c9"/><path d="M222 337.8l2.4 2l3.9-1.7l-2.4-2z" class="c7"/><path d="M224.5 339.7l2.4 1.7l3.9-1.7l-2.4-1.8z" class="c5"/><path d="M226.9 341.4l2.4 1.5l3.9-1.6l-2.4-1.6z" class="c4"/><path d="M229.3 343l2.4 1.3l3.9-1.5l-2.4-1.4z" class="c3"/><path d="M231.7 344.3l2.4 1.1l3.9-1.5l-2.4-1.2z" class="c3"/><path d="M202.3 308.9L204.8 311.2L207.2 314.8L209.6 319.1L212 323.2L214.4 326.6L216.8 329.6L219.2 332.2L221.6 334.7L224 336.9L226.4 338.9L228.8 340.6L231.2 342.2L233.6 343.5L236 344.7" class="el"/><path d="M204.3 307.6L206.7 309.8L209.1 313.5L211.5 318L213.9 322.3L216.3 325.8L218.7 328.7L221.1 331.3L223.5 333.7L225.9 336L228.3 338L230.8 339.8L233.2 341.4L235.6 342.7L238 343.9" class="el"/><path d="M196.5 312.8l2.4 2.5l3.9-2.7l-2.4-2.4z" class="c39"/><path d="M198.9 315.3l2.4 3.4l3.9-2.6l-2.4-3.6z" class="c36"/><path d="M201.3 318.7l2.4 3.8l3.9-2.3l-2.4-4.1z" class="c30"/><path d="M203.7 322.5l2.4 3.7l3.9-2l-2.4-4z" class="c25"/><path d="M206.1 326.1l2.4 3.2l3.9-1.8l-2.4-3.4z" class="c20"/><path d="M208.5 329.4l2.4 2.9l3.9-1.8l-2.4-2.9z" class="c16"/><path d="M210.9 332.3l2.4 2.7l3.9-1.8l-2.4-2.7z" class="c13"/><path d="M213.3 334.9l2.4 2.4l3.9-1.8l-2.4-2.4z" class="c10"/><path d="M215.7 337.3l2.4 2.1l3.9-1.7l-2.4-2.2z" class="c7"/><path d="M218.2 339.5l2.4 1.9l3.9-1.6l-2.4-2z" class="c5"/><path d="M220.6 341.3l2.4 1.6l3.9-1.5l-2.4-1.7z" class="c4"/><path d="M223 343l2.4 1.4l3.9-1.5l-2.4-1.5z" class="c3"/><path d="M225.4 344.4l2.4 1.2l3.9-1.4l-2.4-1.3z" class="c2"/><path d="M227.8 345.7l2.4 1.1l3.9-1.3l-2.4-1.1z" class="c2"/><path d="M198.5 311.5L200.9 313.9L203.3 317.4L205.7 321.3L208.1 325.2L210.5 328.5L212.9 331.4L215.3 334L217.7 336.5L220.1 338.6L222.5 340.5L224.9 342.2L227.3 343.7L229.7 345L232.1 346.1" class="el"/><path d="M200.4 310.2L202.8 312.6L205.2 316.1L207.6 320.2L210 324.2L212.4 327.5L214.8 330.5L217.2 333.1L219.6 335.6L222 337.8L224.5 339.7L226.9 341.4L229.3 343L231.7 344.3L234.1 345.4" class="el"/><path d="M192.6 315.4l2.4 2.5l3.9-2.6l-2.4-2.5z" class="c36"/><path d="M195 317.9l2.4 3.3l3.9-2.5l-2.4-3.4z" class="c33"/><path d="M197.4 321.2l2.4 3.6l3.9-2.3l-2.4-3.8z" class="c28"/><path d="M199.8 324.8l2.4 3.4l3.9-2l-2.4-3.7z" class="c23"/><path d="M202.2 328.1l2.4 3.1l3.9-1.9l-2.4-3.2z" class="c19"/><path d="M204.6 331.3l2.4 2.8l3.9-1.8l-2.4-2.9z" class="c15"/><path d="M207 334.1l2.4 2.6l3.9-1.8l-2.4-2.7z" class="c11"/><path d="M209.5 336.7l2.4 2.3l3.9-1.7l-2.4-2.4z" class="c9"/><path d="M211.9 339l2.4 2.1l3.9-1.6l-2.4-2.1z" class="c6"/><path d="M214.3 341.1l2.4 1.8l3.9-1.5l-2.4-1.9z" class="c4"/><path d="M216.7 342.8l2.4 1.6l3.9-1.4l-2.4-1.6z" class="c3"/><path d="M219.1 344.4l2.4 1.4l3.9-1.3l-2.4-1.4z" class="c2"/><path d="M221.5 345.8l2.4 1.2l3.9-1.3l-2.4-1.2z" class="c2"/><path d="M223.9 346.9l2.4 1l3.9-1.2l-2.4-1.1z" class="c2"/><path d="M194.6 314.1L197 316.6L199.4 320L201.8 323.6L204.2 327.1L206.6 330.3L209 333.2L211.4 335.8L213.8 338.2L216.2 340.3L218.6 342.1L221 343.7L223.4 345.1L225.8 346.3L228.2 347.4" class="el"/><path d="M196.5 312.8L198.9 315.3L201.3 318.7L203.7 322.5L206.1 326.1L208.5 329.4L210.9 332.3L213.3 334.9L215.7 337.3L218.2 339.5L220.6 341.3L223 343L225.4 344.4L227.8 345.7L230.2 346.7" class="el"/><path d="M188.7 317.8l2.4 2.5l3.9-2.5l-2.4-2.5z" class="c34"/><path d="M191.1 320.3l2.4 3.2l3.9-2.4l-2.4-3.3z" class="c30"/><path d="M193.5 323.6l2.4 3.4l3.9-2.2l-2.4-3.6z" class="c26"/><path d="M195.9 327l2.4 3.2l3.9-2l-2.4-3.4z" class="c21"/><path d="M198.3 330.1l2.4 3l3.9-1.9l-2.4-3.1z" class="c17"/><path d="M200.7 333.1l2.4 2.8l3.9-1.8l-2.4-2.8z" class="c13"/><path d="M203.2 335.9l2.4 2.5l3.9-1.7l-2.4-2.6z" class="c10"/><path d="M205.6 338.4l2.4 2.2l3.9-1.6l-2.4-2.3z" class="c8"/><path d="M208 340.6l2.4 1.9l3.9-1.5l-2.4-2.1z" class="c5"/><path d="M210.4 342.5l2.4 1.7l3.9-1.4l-2.4-1.8z" class="c4"/><path d="M212.8 344.2l2.4 1.5l3.9-1.3l-2.4-1.6z" class="c3"/><path d="M215.2 345.7l2.4 1.3l3.9-1.2l-2.4-1.4z" class="c2"/><path d="M217.6 347l2.4 1.1l3.9-1.1l-2.4-1.2z" class="c2"/><path d="M220 348.1l2.4 0.9l3.9-1l-2.4-1z" class="c2"/><path d="M190.7 316.6L193.1 319.1L195.5 322.4L197.9 325.9L200.3 329.1L202.7 332.2L205.1 335L207.5 337.5L209.9 339.8L212.3 341.8L214.7 343.6L217.1 345.1L219.5 346.4L221.9 347.5L224.3 348.5" class="el"/><path d="M192.6 315.4L195 317.9L197.4 321.2L199.8 324.8L202.2 328.1L204.6 331.3L207 334.1L209.5 336.7L211.9 339L214.3 341.1L216.7 342.8L219.1 344.4L221.5 345.8L223.9 346.9L226.3 347.9" class="el"/><path d="M184.8 320.2l2.4 2.5l3.9-2.3l-2.4-2.5z" class="c31"/><path d="M187.2 322.6l2.4 3.2l3.9-2.2l-2.4-3.2z" class="c28"/><path d="M189.6 325.8l2.4 3.3l3.9-2.1l-2.4-3.4z" class="c23"/><path d="M192 329.1l2.4 3l3.9-2l-2.4-3.2z" class="c19"/><path d="M194.4 332.1l2.4 2.9l3.9-1.8l-2.4-3z" class="c15"/><path d="M196.9 334.9l2.4 2.7l3.9-1.7l-2.4-2.8z" class="c12"/><path d="M199.3 337.6l2.4 2.3l3.9-1.6l-2.4-2.5z" class="c9"/><path d="M201.7 340l2.4 2.1l3.9-1.5l-2.4-2.2z" class="c7"/><path d="M204.1 342l2.4 1.8l3.9-1.3l-2.4-1.9z" class="c5"/><path d="M206.5 343.9l2.4 1.6l3.9-1.3l-2.4-1.7z" class="c3"/><path d="M208.9 345.5l2.4 1.4l3.9-1.2l-2.4-1.5z" class="c2"/><path d="M211.3 346.9l2.4 1.2l3.9-1.1l-2.4-1.3z" class="c2"/><path d="M213.7 348.1l2.4 1l3.9-1l-2.4-1.1z" class="c2"/><path d="M216.1 349.1l2.4 0.8l3.9-1l-2.4-0.9z" class="c2"/><path d="M186.8 319L189.2 321.5L191.6 324.7L194 328L196.4 331.1L198.8 334L201.2 336.8L203.6 339.2L206 341.3L208.4 343.2L210.8 344.9L213.2 346.3L215.6 347.6L218 348.6L220.4 349.5" class="el"/><path d="M188.7 317.8L191.1 320.3L193.5 323.6L195.9 327L198.3 330.1L200.7 333.1L203.2 335.9L205.6 338.4L208 340.6L210.4 342.5L212.8 344.2L215.2 345.7L217.6 347L220 348.1L222.4 349" class="el"/><path d="M180.9 322.3l2.4 2.5l3.9-2.1l-2.4-2.5z" class="c29"/><path d="M183.3 324.7l2.4 3.1l3.9-2l-2.4-3.2z" class="c26"/><path d="M185.7 327.9l2.4 3.2l3.9-2l-2.4-3.3z" class="c22"/><path d="M188.2 331.1l2.4 2.9l3.9-1.9l-2.4-3z" class="c18"/><path d="M190.6 334l2.4 2.7l3.9-1.7l-2.4-2.9z" class="c14"/><path d="M193 336.7l2.4 2.5l3.9-1.6l-2.4-2.7z" class="c11"/><path d="M195.4 339.2l2.4 2.2l3.9-1.4l-2.4-2.3z" class="c8"/><path d="M197.8 341.4l2.4 2l3.9-1.3l-2.4-2.1z" class="c6"/><path d="M200.2 343.3l2.4 1.7l3.9-1.2l-2.4-1.8z" class="c4"/><path d="M202.6 345.1l2.4 1.5l3.9-1.1l-2.4-1.6z" class="c3"/><path d="M205 346.6l2.4 1.3l3.9-1.1l-2.4-1.4z" class="c2"/><path d="M207.4 347.9l2.4 1.1l3.9-1l-2.4-1.2z" class="c2"/><path d="M209.8 349.1l2.4 1l3.9-0.9l-2.4-1z" class="c2"/><path d="M212.2 350.1l2.4 0.8l3.9-0.9l-2.4-0.8z" class="c2"/><path d="M182.9 321.2L185.3 323.7L187.7 326.9L190.1 330.1L192.5 333L194.9 335.8L197.3 338.4L199.7 340.7L202.1 342.7L204.5 344.5L206.9 346.1L209.3 347.4L211.7 348.6L214.2 349.6L216.6 350.4" class="el"/><path d="M184.8 320.2L187.2 322.6L189.6 325.8L192 329.1L194.4 332.1L196.9 334.9L199.3 337.6L201.7 340L204.1 342L206.5 343.9L208.9 345.5L211.3 346.9L213.7 348.1L216.1 349.1L218.5 349.9" class="el"/><path d="M177 324.1l2.4 2.6l3.9-1.9l-2.4-2.5z" class="c28"/><path d="M179.4 326.7l2.4 3l3.9-1.8l-2.4-3.1z" class="c24"/><path d="M181.9 329.7l2.4 3.1l3.9-1.8l-2.4-3.2z" class="c20"/><path d="M184.3 332.8l2.4 2.9l3.9-1.8l-2.4-2.9z" class="c16"/><path d="M186.7 335.7l2.4 2.6l3.9-1.6l-2.4-2.7z" class="c13"/><path d="M189.1 338.3l2.4 2.3l3.9-1.4l-2.4-2.5z" class="c10"/><path d="M191.5 340.6l2.4 2.1l3.9-1.2l-2.4-2.2z" class="c8"/><path d="M193.9 342.6l2.4 1.9l3.9-1.2l-2.4-2z" class="c6"/><path d="M196.3 344.5l2.4 1.7l3.9-1.1l-2.4-1.7z" class="c4"/><path d="M198.7 346.2l2.4 1.4l3.9-1l-2.4-1.5z" class="c3"/><path d="M201.1 347.6l2.4 1.3l3.9-0.9l-2.4-1.3z" class="c3"/><path d="M203.5 348.9l2.4 1.1l3.9-0.9l-2.4-1.1z" class="c2"/><path d="M205.9 350l2.4 0.9l3.9-0.9l-2.4-1z" class="c2"/><path d="M208.3 350.9l2.4 0.8l3.9-0.9l-2.4-0.8z" class="c3"/><path d="M177 324.1L179.4 326.7L181.9 329.7L184.3 332.8L186.7 335.7L189.1 338.3L191.5 340.6L193.9 342.6L196.3 344.5L198.7 346.2L201.1 347.6L203.5 348.9L205.9 350L208.3 350.9L210.7 351.7" class="el"/><path d="M179 323.2L181.4 325.7L183.8 328.8L186.2 332L188.6 334.9L191 337.5L193.4 339.9L195.8 342L198.2 343.9L200.6 345.6L203 347.1L205.4 348.4L207.9 349.5L210.3 350.5L212.7 351.3" class="el"/><path d="M180.9 322.3L183.3 324.7L185.7 327.9L188.2 331.1L190.6 334L193 336.7L195.4 339.2L197.8 341.4L200.2 343.3L202.6 345.1L205 346.6L207.4 347.9L209.8 349.1L212.2 350.1L214.6 350.8" class="el"/></g><text x="15.4" y="277" class="t" text-anchor="middle">0</text><text x="24.15" y="277" class="t" text-anchor="middle">20</text><text x="32.9" y="277" class="t" text-anchor="middle">40</text><text x="37.9" y="280.85" class="t" text-anchor="middle">400</text><text x="37.9" y="293.83" class="t" text-anchor="middle">350</text><text x="37.9" y="306.8" class="t" text-anchor="middle">300</text><text x="37.9" y="319.77" class="t" text-anchor="middle">250</text><text x="37.9" y="332.75" class="t" text-anchor="middle">200</text><text x="37.9" y="345.73" class="t" text-anchor="middle">150</text><text x="37.9" y="358.7" class="t" text-anchor="middle">100</text><text x="53.8" y="363.45" class="t" text-anchor="middle">1</text><text x="53.8" y="386.55" class="t" text-anchor="middle">1</text><text x="75.5" y="363.45" class="t" text-anchor="middle">2</text><text x="75.5" y="386.55" class="t" text-anchor="middle">2</text><text x="97.2" y="363.45" class="t" text-anchor="middle">3</text><text x="97.2" y="386.55" class="t" text-anchor="middle">3</text><text x="118.9" y="363.45" class="t" text-anchor="middle">4</text><text x="118.9" y="386.55" class="t" text-anchor="middle">4</text><text x="140.6" y="363.45" class="t" text-anchor="middle">5</text><text x="140.6" y="386.55" class="t" text-anchor="middle">5</text><text x="170.1" y="345.65" class="t" text-anchor="middle">0</text><text x="185.07" y="352.18" class="t" text-anchor="middle">2</text><text x="200.03" y="358.72" class="t" text-anchor="middle">4</text><text x="215" y="365.25" class="t" text-anchor="middle">6</text><text x="174.5" y="356.05" class="t" text-anchor="middle">×10<tspan dy="-1" font-size="2.6">4</tspan></text><text x="222.8" y="365.05" class="t" text-anchor="middle">100</text><text x="240.97" y="359.72" class="t" text-anchor="middle">200</text><text x="259.13" y="354.38" class="t" text-anchor="middle">300</text><text x="277.3" y="349.05" class="t" text-anchor="middle">400</text><text x="13.2" y="280.85" class="t" text-anchor="end">400</text><text x="13.2" y="293.83" class="t" text-anchor="end">350</text><text x="13.2" y="306.8" class="t" text-anchor="end">300</text><text x="13.2" y="319.77" class="t" text-anchor="end">250</text><text x="13.2" y="332.75" class="t" text-anchor="end">200</text><text x="13.2" y="345.73" class="t" text-anchor="end">150</text><text x="13.2" y="358.7" class="t" text-anchor="end">100</text><text x="141.25" y="368.45" class="t" text-anchor="end">×10<tspan dy="-1" font-size="2.6">4</tspan></text><text x="141.25" y="391.55" class="t" text-anchor="end">×10<tspan dy="-1" font-size="2.6">4</tspan></text><text x="40.8" y="372.55" class="t" text-anchor="end">50</text><text x="40.8" y="383.25" class="t" text-anchor="end">0</text><text x="150.8" y="358.24" class="t" text-anchor="start">70</text><text x="150.8" y="344.72" class="t" text-anchor="start">80</text><text x="150.8" y="331.2" class="t" text-anchor="start">90</text><text x="150.8" y="317.68" class="t" text-anchor="start">100</text><text x="150.8" y="304.16" class="t" text-anchor="start">110</text><text x="150.8" y="290.64" class="t" text-anchor="start">120</text><text x="171.1" y="342.85" class="t" text-anchor="end">60</text><text x="171.1" y="332.05" class="t" text-anchor="end">80</text><text x="171.1" y="321.25" class="t" text-anchor="end">100</text><text x="171.1" y="310.45" class="t" text-anchor="end">120</text><text x="171.1" y="299.65" class="t" text-anchor="end">140</text><text x="86.4" y="393.2" class="alL" text-anchor="middle" textLength="12.2" lengthAdjust="spacingAndGlyphs" style="font-size:6px">Area</text><text x="152.5" y="392.4" class="pl" text-anchor="middle">(c)</text><text x="193.75" y="365.3" class="al3" text-anchor="middle" textLength="9.8" lengthAdjust="spacingAndGlyphs">Area</text><text x="258" y="366.7" class="al3" text-anchor="middle" textLength="31.7" lengthAdjust="spacingAndGlyphs">No. of Sensors</text><text transform="translate(4.6 312) rotate(-90)" text-anchor="middle" class="alL" style="font-size:5.6px" textLength="33.7" lengthAdjust="spacingAndGlyphs">No.of Sensors</text><text transform="translate(162.5 320.6) rotate(-90)" text-anchor="middle" class="zl">No. of Barriers</text><g clip-path="url(#c85)"><g filter="url(#bv)"><rect x="321.25" y="2.87" width="98.25" height="4.08" fill="url(#g86)"/><rect x="321.25" y="6.25" width="98.25" height="4.08" fill="url(#g87)"/><rect x="321.25" y="9.63" width="98.25" height="4.08" fill="url(#g88)"/><rect x="321.25" y="13" width="98.25" height="4.08" fill="url(#g89)"/><rect x="321.25" y="16.38" width="98.25" height="4.08" fill="url(#g90)"/><rect x="321.25" y="19.76" width="98.25" height="4.08" fill="url(#g91)"/><rect x="321.25" y="23.14" width="98.25" height="4.08" fill="url(#g92)"/><rect x="321.25" y="26.51" width="98.25" height="4.08" fill="url(#g93)"/><rect x="321.25" y="29.89" width="98.25" height="4.08" fill="url(#g94)"/><rect x="321.25" y="33.27" width="98.25" height="4.08" fill="url(#g95)"/><rect x="321.25" y="36.64" width="98.25" height="4.08" fill="url(#g96)"/><rect x="321.25" y="40.02" width="98.25" height="4.08" fill="url(#g97)"/><rect x="321.25" y="43.4" width="98.25" height="4.08" fill="url(#g98)"/><rect x="321.25" y="46.77" width="98.25" height="4.08" fill="url(#g99)"/><rect x="321.25" y="50.15" width="98.25" height="4.08" fill="url(#g100)"/><rect x="321.25" y="53.53" width="98.25" height="4.08" fill="url(#g101)"/><rect x="321.25" y="56.91" width="98.25" height="4.08" fill="url(#g102)"/><rect x="321.25" y="60.28" width="98.25" height="4.08" fill="url(#g103)"/><rect x="321.25" y="63.66" width="98.25" height="4.08" fill="url(#g104)"/><rect x="321.25" y="67.04" width="98.25" height="4.08" fill="url(#g105)"/><rect x="321.25" y="70.41" width="98.25" height="4.08" fill="url(#g106)"/><rect x="321.25" y="73.79" width="98.25" height="4.08" fill="url(#g107)"/><rect x="321.25" y="77.17" width="98.25" height="4.08" fill="url(#g108)"/><rect x="321.25" y="80.55" width="98.25" height="4.08" fill="url(#g109)"/><rect x="321.25" y="83.92" width="98.25" height="4.08" fill="url(#g110)"/><rect x="321.25" y="87.3" width="98.25" height="4.08" fill="url(#g111)"/></g></g><rect x="423" y="6.1" width="4.9" height="81.1" fill="url(#g112)" stroke="#888" stroke-width="0.35"/><rect x="294.25" y="8" width="17.75" height="78.75" fill="#fff" stroke="#aaa" stroke-width="0.4"/><rect x="294.25" y="8" width="15.25" height="13.25" class="hb"/><rect x="294.25" y="21.25" width="12.5" height="13" class="hb"/><rect x="294.25" y="34.25" width="12.5" height="12.75" class="hb"/><rect x="294.25" y="47" width="12.5" height="13" class="hb"/><rect x="294.25" y="60" width="12.5" height="13.25" class="hb"/><rect x="294.25" y="73.25" width="15.25" height="13.5" class="hb"/><rect x="321.3" y="96.9" width="98.7" height="13.1" fill="#fff" stroke="#aaa" stroke-width="0.4"/><rect x="321.3" y="105" width="8.7" height="5" class="hb"/><rect x="330" y="98.3" width="19.6" height="11.7" class="hb"/><rect x="349.6" y="98.3" width="19.1" height="11.7" class="hb"/><rect x="368.7" y="98.3" width="19.3" height="11.7" class="hb"/><rect x="388" y="98.3" width="19.7" height="11.7" class="hb"/><rect x="407.7" y="100.5" width="12.3" height="9.5" class="hb"/><path d="M449.4 68.75L499.8 52.15L541.9 71M449.4 60.05L499.8 43.45L541.9 62.3M449.4 51.35L499.8 34.75L541.9 53.6M449.4 42.65L499.8 26.05L541.9 44.9M449.4 33.95L499.8 17.35L541.9 36.2M449.4 25.25L499.8 8.65L541.9 27.5M449.4 68.75L499.8 52.15L499.8 8.65M463.43 75.03L513.83 58.43L513.83 14.93M477.47 81.32L527.87 64.72L527.87 21.22M491.5 87.6L541.9 71L541.9 27.5M491.5 87.6L449.4 68.75L449.4 25.25M508.3 82.07L466.2 63.22L466.2 19.72M525.1 76.53L483 57.68L483 14.18M541.9 71L499.8 52.15L499.8 8.65" fill="none" stroke="#ececec" stroke-width="0.3"/><path d="M449.4 25.25L449.4 68.75L491.5 87.6L541.9 71" fill="none" stroke="#555" stroke-width="0.45"/><g class="s"><path d="M503.2 43.4l3.1 1.6l3.6-1.2l-3.1-1.4z" class="c18"/><path d="M506.3 45l3.1 1.4l3.6-1.2l-3.1-1.4z" class="c18"/><path d="M509.4 46.4l3.1 1.2l3.6-1.2l-3.1-1.2z" class="c18"/><path d="M512.5 47.6l3.1 0.8l3.6-1.2l-3.1-0.8z" class="c19"/><path d="M515.6 48.4l3.1-0.5l3.6-1.1l-3.1 0.4z" class="c21"/><path d="M518.7 47.9l1.1-0.7l3.6-1.1l-1.1 0.6z" class="c23"/><path d="M519.7 47.2l1.1-1l3.6-1l-1.1 0.9z" class="c25"/><path d="M520.8 46.2l1.1-1.3l3.6-1l-1.1 1.3z" class="c28"/><path d="M521.8 44.9l1.1-1.5l3.6-0.9l-1.1 1.5z" class="c31"/><path d="M522.9 43.4l1.1-1.5l3.6-0.9l-1.1 1.5z" class="c34"/><path d="M523.9 41.9l1.1-1.4l3.6-0.9l-1.1 1.4z" class="c37"/><path d="M525 40.5l1.1-1.3l3.6-0.8l-1.1 1.2z" class="c40"/><path d="M526 39.2l1.1-1.1l3.6-0.8l-1.1 1.1z" class="c43"/><path d="M527.1 38.1l2.8-2.3l3.6-0.8l-2.8 2.3z" class="c47"/><path d="M529.9 35.8l2.8-1.1l3.6-0.7l-2.8 1.1z" class="c52"/><path d="M532.7 34.7l2.8 0.6l3.6-0.6l-2.8-0.8z" class="c54"/><path d="M535.5 35.3l2.8 3.2l3.6-0.3l-2.8-3.5z" class="c53"/><path d="M505 42.9L508.1 44.4L511.2 45.8L514.3 47L517.4 47.8L520.5 47.3L521.5 46.7L522.6 45.7L523.6 44.4L524.7 42.9L525.7 41.4L526.8 40L527.8 38.7L528.9 37.6L531.7 35.3L534.5 34.2L537.3 34.9L540.1 38.2" class="el"/><path d="M506.8 42.5L509.9 43.8L513 45.2L516.1 46.4L519.2 47.2L522.3 46.8L523.3 46.2L524.4 45.2L525.4 44L526.5 42.5L527.5 41L528.6 39.6L529.6 38.4L530.7 37.3L533.5 35L536.3 33.9L539.1 34.7L541.9 38.2" class="el"/><path d="M533.3 34.6L535.1 34.2L536.7 33.9" class="cr"/><path d="M499.6 44.4l3.1 1.7l3.6-1.1l-3.1-1.6z" class="c19"/><path d="M502.7 46.1l3.1 1.5l3.6-1.2l-3.1-1.4z" class="c18"/><path d="M505.8 47.6l3.1 1.2l3.6-1.2l-3.1-1.2z" class="c18"/><path d="M508.9 48.8l3.1 0.8l3.6-1.1l-3.1-0.8z" class="c19"/><path d="M512 49.5l3.1-0.4l3.6-1.2l-3.1 0.5z" class="c21"/><path d="M515.1 49.1l1.1-0.6l3.6-1.3l-1.1 0.7z" class="c23"/><path d="M516.1 48.5l1.1-0.9l3.6-1.3l-1.1 1z" class="c25"/><path d="M517.2 47.6l1.1-1.3l3.6-1.4l-1.1 1.3z" class="c28"/><path d="M518.2 46.3l1.1-1.5l3.6-1.4l-1.1 1.5z" class="c31"/><path d="M519.3 44.8l1.1-1.5l3.6-1.4l-1.1 1.5z" class="c34"/><path d="M520.3 43.3l1.1-1.4l3.6-1.5l-1.1 1.4z" class="c37"/><path d="M521.4 41.9l1.1-1.2l3.6-1.5l-1.1 1.3z" class="c40"/><path d="M522.4 40.7l1.1-1.1l3.6-1.5l-1.1 1.1z" class="c43"/><path d="M523.5 39.6l2.8-2.3l3.6-1.5l-2.8 2.3z" class="c47"/><path d="M526.3 37.3l2.8-1.1l3.6-1.6l-2.8 1.1z" class="c52"/><path d="M529.1 36.2l2.8 0.7l3.6-1.6l-2.8-0.6z" class="c54"/><path d="M531.9 36.9l2.8 2.8l3.6-1.2l-2.8-3.2z" class="c53"/><path d="M501.4 43.9L504.5 45.6L507.6 47L510.7 48.2L513.8 49L516.9 48.5L517.9 47.9L519 46.9L520 45.6L521.1 44.1L522.1 42.6L523.2 41.2L524.2 39.9L525.3 38.8L528.1 36.5L530.9 35.3L533.7 36L536.5 39" class="el"/><path d="M503.2 43.4L506.3 45L509.4 46.4L512.5 47.6L515.6 48.4L518.7 47.9L519.7 47.2L520.8 46.2L521.8 44.9L522.9 43.4L523.9 41.9L525 40.5L526 39.2L527.1 38.1L529.9 35.8L532.7 34.7L535.5 35.3L538.3 38.5" class="el"/><path d="M529.5 36.2L531.5 35.3L533.3 34.6" class="cr"/><path d="M496 45.6l3.1 1.7l3.6-1.1l-3.1-1.7z" class="c19"/><path d="M499.1 47.3l3.1 1.5l3.6-1.2l-3.1-1.5z" class="c18"/><path d="M502.2 48.8l3.1 1.2l3.6-1.2l-3.1-1.2z" class="c18"/><path d="M505.3 49.9l3.1 0.7l3.6-1.1l-3.1-0.8z" class="c19"/><path d="M508.4 50.7l3.1-0.3l3.6-1.3l-3.1 0.4z" class="c21"/><path d="M511.5 50.4l1.1-0.5l3.6-1.4l-1.1 0.6z" class="c23"/><path d="M512.5 49.9l1.1-0.8l3.6-1.5l-1.1 0.9z" class="c25"/><path d="M513.6 49.1l1.1-1.2l3.6-1.6l-1.1 1.3z" class="c28"/><path d="M514.6 47.9l1.1-1.4l3.6-1.7l-1.1 1.5z" class="c30"/><path d="M515.7 46.5l1.1-1.4l3.6-1.8l-1.1 1.5z" class="c34"/><path d="M516.7 45.1l1.1-1.3l3.6-1.9l-1.1 1.4z" class="c37"/><path d="M517.8 43.8l1.1-1.2l3.6-1.9l-1.1 1.2z" class="c39"/><path d="M518.8 42.6l1.1-1l3.6-2l-1.1 1.1z" class="c42"/><path d="M519.9 41.6l2.8-2.2l3.6-2.1l-2.8 2.3z" class="c46"/><path d="M522.7 39.4l2.8-0.8l3.6-2.4l-2.8 1.1z" class="c51"/><path d="M525.5 38.6l2.8 0.8l3.6-2.5l-2.8-0.7z" class="c53"/><path d="M528.3 39.4l2.8 2.4l3.6-2.1l-2.8-2.8z" class="c52"/><path d="M497.8 45L500.9 46.7L504 48.2L507.1 49.4L510.2 50.1L513.3 49.8L514.3 49.2L515.4 48.3L516.4 47.1L517.5 45.7L518.5 44.2L519.6 42.8L520.6 41.6L521.7 40.5L524.5 38.3L527.3 37.3L530.1 38.1L532.9 40.7" class="el"/><path d="M499.6 44.4L502.7 46.1L505.8 47.6L508.9 48.8L512 49.5L515.1 49.1L516.1 48.5L517.2 47.6L518.2 46.3L519.3 44.8L520.3 43.3L521.4 41.9L522.4 40.7L523.5 39.6L526.3 37.3L529.1 36.2L531.9 36.9L534.7 39.7" class="el"/><path d="M525.4 38.6L527.4 37.3L529.5 36.2" class="cr"/><path d="M492.4 46.8l3.1 1.7l3.6-1.2l-3.1-1.7z" class="c19"/><path d="M495.5 48.5l3.1 1.5l3.6-1.2l-3.1-1.5z" class="c18"/><path d="M498.6 50l3.1 1.2l3.6-1.2l-3.1-1.2z" class="c18"/><path d="M501.7 51.2l3.1 0.7l3.6-1.2l-3.1-0.7z" class="c19"/><path d="M504.8 51.8l3.1-0.1l3.6-1.3l-3.1 0.3z" class="c21"/><path d="M507.9 51.7l1.1-0.4l3.6-1.4l-1.1 0.5z" class="c23"/><path d="M508.9 51.4l1.1-0.7l3.6-1.6l-1.1 0.8z" class="c25"/><path d="M510 50.7l1.1-1l3.6-1.7l-1.1 1.2z" class="c27"/><path d="M511 49.6l1.1-1.3l3.6-1.8l-1.1 1.4z" class="c30"/><path d="M512.1 48.4l1.1-1.3l3.6-2l-1.1 1.4z" class="c33"/><path d="M513.1 47.1l1.1-1.2l3.6-2.1l-1.1 1.3z" class="c35"/><path d="M514.2 45.9l1.1-1l3.6-2.2l-1.1 1.2z" class="c38"/><path d="M515.2 44.9l1.1-0.9l3.6-2.4l-1.1 1z" class="c40"/><path d="M516.3 44l2.8-1.8l3.6-2.7l-2.8 2.2z" class="c44"/><path d="M519.1 42.2l2.8-0.4l3.6-3.1l-2.8 0.8z" class="c48"/><path d="M521.9 41.7l2.8 1.1l3.6-3.4l-2.8-0.8z" class="c50"/><path d="M524.7 42.8l2.8 2l3.6-3l-2.8-2.4z" class="c50"/><path d="M494.2 46.2L497.3 47.9L500.4 49.4L503.5 50.5L506.6 51.2L509.7 51.1L510.7 50.6L511.8 49.9L512.8 48.8L513.9 47.5L514.9 46.1L516 44.8L517 43.7L518.1 42.7L520.9 40.7L523.7 40.1L526.5 41L529.3 43.2" class="el"/><path d="M496 45.6L499.1 47.3L502.2 48.8L505.3 49.9L508.4 50.7L511.5 50.4L512.5 49.9L513.6 49.1L514.6 47.9L515.7 46.5L516.7 45.1L517.8 43.8L518.8 42.6L519.9 41.6L522.7 39.4L525.5 38.6L528.3 39.4L531.1 41.8" class="el"/><path d="M521.3 41.7L523.3 40.1L525.4 38.6" class="cr"/><path d="M488.8 48.1l3.1 1.6l3.6-1.2l-3.1-1.7z" class="c19"/><path d="M491.9 49.7l3.1 1.6l3.6-1.3l-3.1-1.5z" class="c18"/><path d="M495 51.3l3.1 1.2l3.6-1.3l-3.1-1.2z" class="c18"/><path d="M498.1 52.5l3.1 0.6l3.6-1.3l-3.1-0.7z" class="c19"/><path d="M501.2 53.1l3.1 0l3.6-1.4l-3.1 0.1z" class="c21"/><path d="M504.3 53.1l1.1-0.3l3.6-1.5l-1.1 0.4z" class="c23"/><path d="M505.3 52.8l1.1-0.6l3.6-1.6l-1.1 0.7z" class="c24"/><path d="M506.4 52.3l1.1-0.9l3.6-1.7l-1.1 1z" class="c26"/><path d="M507.4 51.4l1.1-1.1l3.6-1.9l-1.1 1.3z" class="c29"/><path d="M508.5 50.3l1.1-1.1l3.6-2l-1.1 1.3z" class="c31"/><path d="M509.5 49.1l1.1-1l3.6-2.2l-1.1 1.2z" class="c34"/><path d="M510.6 48.1l1.1-0.9l3.6-2.4l-1.1 1z" class="c36"/><path d="M511.6 47.2l1.1-0.7l3.6-2.5l-1.1 0.9z" class="c39"/><path d="M512.7 46.5l2.8-1.2l3.6-3.2l-2.8 1.8z" class="c42"/><path d="M515.5 45.3l2.8 0.1l3.6-3.8l-2.8 0.4z" class="c45"/><path d="M518.3 45.5l2.8 1.3l3.6-4l-2.8-1.1z" class="c46"/><path d="M521.1 46.8l2.8 1.8l3.6-3.8l-2.8-2z" class="c46"/><path d="M490.6 47.4L493.7 49.1L496.8 50.6L499.9 51.8L503 52.5L506.1 52.4L507.1 52.1L508.2 51.5L509.2 50.5L510.3 49.3L511.3 48.1L512.4 47L513.4 46L514.5 45.2L517.3 43.7L520.1 43.6L522.9 44.8L525.7 46.6" class="el"/><path d="M492.4 46.8L495.5 48.5L498.6 50L501.7 51.2L504.8 51.8L507.9 51.7L508.9 51.4L510 50.7L511 49.6L512.1 48.4L513.1 47.1L514.2 45.9L515.2 44.9L516.3 44L519.1 42.2L521.9 41.7L524.7 42.8L527.5 44.8" class="el"/><path d="M516.7 45.2L519 43.4L521.3 41.7" class="cr"/><path d="M485.2 49.5l3.1 1.6l3.6-1.4l-3.1-1.6z" class="c18"/><path d="M488.3 51.1l3.1 1.6l3.6-1.4l-3.1-1.6z" class="c18"/><path d="M491.4 52.7l3.1 1.2l3.6-1.4l-3.1-1.2z" class="c18"/><path d="M494.5 53.9l3.1 0.6l3.6-1.4l-3.1-0.6z" class="c19"/><path d="M497.6 54.5l3.1 0.1l3.6-1.5l-3.1 0z" class="c20"/><path d="M500.7 54.6l1.1-0.2l3.6-1.6l-1.1 0.3z" class="c22"/><path d="M501.7 54.4l1.1-0.4l3.6-1.8l-1.1 0.6z" class="c23"/><path d="M502.8 54l1.1-0.7l3.6-2l-1.1 0.9z" class="c25"/><path d="M503.8 53.3l1.1-0.9l3.6-2.1l-1.1 1.1z" class="c27"/><path d="M504.9 52.4l1.1-1l3.6-2.3l-1.1 1.1z" class="c30"/><path d="M505.9 51.4l1.1-0.9l3.6-2.4l-1.1 1z" class="c32"/><path d="M507 50.5l1.1-0.8l3.6-2.5l-1.1 0.9z" class="c34"/><path d="M508 49.7l1.1-0.6l3.6-2.6l-1.1 0.7z" class="c36"/><path d="M509.1 49.1l2.8-0.6l3.6-3.1l-2.8 1.2z" class="c39"/><path d="M511.9 48.5l2.8 0.7l3.6-3.7l-2.8-0.1z" class="c42"/><path d="M514.7 49.2l2.8 1.5l3.6-3.8l-2.8-1.3z" class="c42"/><path d="M517.5 50.6l2.8 1.6l3.6-3.6l-2.8-1.8z" class="c42"/><path d="M487 48.8L490.1 50.4L493.2 51.9L496.3 53.2L499.4 53.8L502.5 53.8L503.5 53.6L504.6 53.1L505.6 52.3L506.7 51.3L507.7 50.2L508.8 49.2L509.8 48.4L510.9 47.8L513.7 47L516.5 47.4L519.3 48.8L522.1 50.5" class="el"/><path d="M488.8 48.1L491.9 49.7L495 51.3L498.1 52.5L501.2 53.1L504.3 53.1L505.3 52.8L506.4 52.3L507.4 51.4L508.5 50.3L509.5 49.1L510.6 48.1L511.6 47.2L512.7 46.5L515.5 45.3L518.3 45.5L521.1 46.8L523.9 48.6" class="el"/><path d="M511.6 48.5L514.1 46.9L516.7 45.2" class="cr"/><path d="M481.6 51l3.1 1.7l3.6-1.6l-3.1-1.6z" class="c18"/><path d="M484.7 52.7l3.1 1.5l3.6-1.6l-3.1-1.6z" class="c18"/><path d="M487.8 54.2l3.1 1.1l3.6-1.5l-3.1-1.2z" class="c18"/><path d="M490.9 55.4l3.1 0.5l3.6-1.4l-3.1-0.6z" class="c18"/><path d="M494 55.9l3.1 0.4l3.6-1.7l-3.1-0.1z" class="c20"/><path d="M497.1 56.3l1.1 0.1l3.6-2l-1.1 0.2z" class="c21"/><path d="M498.1 56.4l1.1-0.1l3.6-2.2l-1.1 0.4z" class="c22"/><path d="M499.2 56.3l1.1-0.4l3.6-2.5l-1.1 0.7z" class="c24"/><path d="M500.2 55.8l1.1-0.7l3.6-2.8l-1.1 0.9z" class="c26"/><path d="M501.3 55.2l1.1-0.9l3.6-2.9l-1.1 1z" class="c28"/><path d="M502.3 54.3l1.1-1l3.6-2.9l-1.1 0.9z" class="c30"/><path d="M503.4 53.4l1.1-0.9l3.6-2.7l-1.1 0.8z" class="c32"/><path d="M504.4 52.4l1.1-0.8l3.6-2.5l-1.1 0.6z" class="c34"/><path d="M505.5 51.6l2.8-0.6l3.6-2.5l-2.8 0.6z" class="c37"/><path d="M508.3 51l2.8 0.8l3.6-2.7l-2.8-0.7z" class="c39"/><path d="M511.1 51.8l2.8 1.4l3.6-2.6l-2.8-1.5z" class="c39"/><path d="M513.9 53.2l2.8 1.5l3.6-2.4l-2.8-1.6z" class="c39"/><path d="M483.4 50.2L486.5 51.9L489.6 53.4L492.7 54.6L495.8 55.2L498.9 55.4L499.9 55.4L501 55.1L502 54.5L503.1 53.7L504.1 52.8L505.2 51.9L506.2 51L507.3 50.4L510.1 49.8L512.9 50.6L515.7 52.1L518.5 53.6" class="el"/><path d="M485.2 49.5L488.3 51.1L491.4 52.7L494.5 53.9L497.6 54.5L500.7 54.6L501.7 54.4L502.8 54L503.8 53.3L504.9 52.4L505.9 51.4L507 50.5L508 49.7L509.1 49.1L511.9 48.5L514.7 49.2L517.5 50.6L520.3 52.2" class="el"/><path d="M507.7 50.9L509.5 49.8L511.6 48.5" class="cr"/><path d="M478 52.6l3.1 1.9l3.6-1.8l-3.1-1.7z" class="c17"/><path d="M481.1 54.5l3.1 1.5l3.6-1.8l-3.1-1.5z" class="c17"/><path d="M484.2 56l3.1 1l3.6-1.6l-3.1-1.1z" class="c17"/><path d="M487.3 57l3.1 0.4l3.6-1.5l-3.1-0.5z" class="c18"/><path d="M490.4 57.4l3.1 0.8l3.6-1.8l-3.1-0.4z" class="c19"/><path d="M493.5 58.2l1.1 0.3l3.6-2.1l-1.1-0.1z" class="c20"/><path d="M494.5 58.5l1.1 0.2l3.6-2.4l-1.1 0.1z" class="c21"/><path d="M495.6 58.7l1.1-0.1l3.6-2.7l-1.1 0.4z" class="c22"/><path d="M496.6 58.5l1.1-0.5l3.6-2.9l-1.1 0.7z" class="c23"/><path d="M497.7 58.1l1.1-0.8l3.6-3l-1.1 0.9z" class="c25"/><path d="M498.7 57.3l1.1-1.1l3.6-2.8l-1.1 1z" class="c27"/><path d="M499.8 56.2l1.1-1.2l3.6-2.6l-1.1 0.9z" class="c30"/><path d="M500.8 55l1.1-1.1l3.6-2.2l-1.1 0.8z" class="c32"/><path d="M501.9 53.9l2.8-1.1l3.6-1.8l-2.8 0.6z" class="c35"/><path d="M504.7 52.8l2.8 0.7l3.6-1.7l-2.8-0.8z" class="c37"/><path d="M507.5 53.5l2.8 1.1l3.6-1.5l-2.8-1.4z" class="c37"/><path d="M510.3 54.6l2.8 1.3l3.6-1.3l-2.8-1.5z" class="c37"/><path d="M479.8 51.8L482.9 53.6L486 55.1L489.1 56.1L492.2 56.6L495.3 57.3L496.3 57.5L497.4 57.5L498.4 57.2L499.5 56.7L500.5 55.8L501.6 54.8L502.6 53.7L503.7 52.8L506.5 52L509.3 52.8L512.1 54L514.9 55.4" class="el"/><path d="M481.6 51L484.7 52.7L487.8 54.2L490.9 55.4L494 55.9L497.1 56.3L498.1 56.4L499.2 56.3L500.2 55.8L501.3 55.2L502.3 54.3L503.4 53.4L504.4 52.4L505.5 51.6L508.3 51L511.1 51.8L513.9 53.2L516.7 54.6" class="el"/><path d="M504.4 52.8L505.9 51.9L507.7 50.9" class="cr"/><path d="M474.4 54.2l3.1 2l3.6-1.7l-3.1-1.9z" class="c16"/><path d="M477.5 56.2l3.1 1.7l3.6-1.9l-3.1-1.5z" class="c16"/><path d="M480.6 57.9l3.1 1l3.6-1.9l-3.1-1z" class="c16"/><path d="M483.7 58.9l3.1 0.1l3.6-1.6l-3.1-0.4z" class="c17"/><path d="M486.8 59l3.1 0.7l3.6-1.6l-3.1-0.8z" class="c19"/><path d="M489.9 59.8l1.1 0.5l3.6-1.7l-1.1-0.3z" class="c19"/><path d="M490.9 60.2l1.1 0.3l3.6-1.9l-1.1-0.2z" class="c19"/><path d="M492 60.5l1.1 0l3.6-2l-1.1 0.1z" class="c20"/><path d="M493 60.5l1.1-0.4l3.6-2.1l-1.1 0.5z" class="c21"/><path d="M494.1 60.2l1.1-0.7l3.6-2.1l-1.1 0.8z" class="c23"/><path d="M495.1 59.4l1.1-1.1l3.6-2.1l-1.1 1.1z" class="c25"/><path d="M496.2 58.3l1.1-1.4l3.6-1.9l-1.1 1.2z" class="c28"/><path d="M497.2 56.9l1.1-1.3l3.6-1.8l-1.1 1.1z" class="c31"/><path d="M498.3 55.6l2.8-1.4l3.6-1.4l-2.8 1.1z" class="c34"/><path d="M501.1 54.2l2.8 0.6l3.6-1.3l-2.8-0.7z" class="c36"/><path d="M503.9 54.8l2.8 1l3.6-1.2l-2.8-1.1z" class="c37"/><path d="M506.7 55.8l2.8 1.2l3.6-1.1l-2.8-1.3z" class="c37"/><path d="M476.2 53.4L479.3 55.4L482.4 56.9L485.5 57.9L488.6 58.2L491.7 59L492.7 59.4L493.8 59.7L494.8 59.6L495.9 59.2L496.9 58.5L498 57.4L499 56L500.1 54.8L502.9 53.5L505.7 54.2L508.5 55.2L511.3 56.5" class="el"/><path d="M478 52.6L481.1 54.5L484.2 56L487.3 57L490.4 57.4L493.5 58.2L494.5 58.5L495.6 58.7L496.6 58.5L497.7 58.1L498.7 57.3L499.8 56.2L500.8 55L501.9 53.9L504.7 52.8L507.5 53.5L510.3 54.6L513.1 56" class="el"/><path d="M501 54.2L502.8 53.5L504.4 52.8" class="cr"/><path d="M470.8 56.1l3.1 2.1l3.6-1.9l-3.1-2z" class="c15"/><path d="M473.9 58.1l3.1 1.9l3.6-2.2l-3.1-1.7z" class="c15"/><path d="M477 60.1l3.1 1.1l3.6-2.2l-3.1-1z" class="c15"/><path d="M480.1 61.2l3.1-0.3l3.6-1.8l-3.1-0.1z" class="c16"/><path d="M483.2 60.9l3.1 0.3l3.6-1.4l-3.1-0.7z" class="c18"/><path d="M486.3 61.1l1.1 0.4l3.6-1.3l-1.1-0.5z" class="c19"/><path d="M487.3 61.5l1.1 0.3l3.6-1.3l-1.1-0.3z" class="c19"/><path d="M488.4 61.8l1.1 0l3.6-1.3l-1.1 0z" class="c19"/><path d="M489.4 61.8l1.1-0.4l3.6-1.2l-1.1 0.4z" class="c20"/><path d="M490.5 61.4l1.1-0.7l3.6-1.3l-1.1 0.7z" class="c22"/><path d="M491.5 60.7l1.1-1.1l3.6-1.3l-1.1 1.1z" class="c24"/><path d="M492.6 59.5l1.1-1.3l3.6-1.3l-1.1 1.4z" class="c27"/><path d="M493.6 58.2l1.1-1.3l3.6-1.3l-1.1 1.3z" class="c30"/><path d="M494.7 57l2.8-1.5l3.6-1.2l-2.8 1.4z" class="c34"/><path d="M497.5 55.4l2.8 0.5l3.6-1.1l-2.8-0.6z" class="c36"/><path d="M500.3 55.9l2.8 1.1l3.6-1.2l-2.8-1z" class="c37"/><path d="M503.1 57l2.8 1.2l3.6-1.2l-2.8-1.2z" class="c37"/><path d="M472.6 55.1L475.7 57.1L478.8 58.9L481.9 60L485 59.9L488.1 60.5L489.1 60.9L490.2 61.2L491.2 61.2L492.3 60.8L493.3 60.1L494.4 59L495.4 57.6L496.5 56.3L499.3 54.8L502.1 55.3L504.9 56.4L507.7 57.7" class="el"/><path d="M474.4 54.2L477.5 56.2L480.6 57.9L483.7 58.9L486.8 59L489.9 59.8L490.9 60.2L492 60.5L493 60.5L494.1 60.2L495.1 59.4L496.2 58.3L497.2 56.9L498.3 55.6L501.1 54.2L503.9 54.8L506.7 55.8L509.5 57.1" class="el"/><path d="M497.7 55.4L499.5 54.8L501 54.2" class="cr"/><path d="M467.2 58.6l3.1 2.1l3.6-2.6l-3.1-2.1z" class="c14"/><path d="M470.3 60.7l3.1 2l3.6-2.6l-3.1-1.9z" class="c13"/><path d="M473.4 62.7l3.1 1l3.6-2.5l-3.1-1.1z" class="c13"/><path d="M476.5 63.6l3.1-0.7l3.6-2l-3.1 0.3z" class="c14"/><path d="M479.6 62.9l3.1-0.3l3.6-1.4l-3.1-0.3z" class="c17"/><path d="M482.7 62.6l1.1 0.2l3.6-1.3l-1.1-0.4z" class="c18"/><path d="M483.7 62.8l1.1 0.1l3.6-1.1l-1.1-0.3z" class="c19"/><path d="M484.8 62.9l1.1-0.1l3.6-1l-1.1 0z" class="c19"/><path d="M485.8 62.8l1.1-0.4l3.6-1l-1.1 0.4z" class="c20"/><path d="M486.9 62.4l1.1-0.8l3.6-1l-1.1 0.7z" class="c22"/><path d="M487.9 61.6l1.1-1.1l3.6-1l-1.1 1.1z" class="c24"/><path d="M489 60.5l1.1-1.2l3.6-1.1l-1.1 1.3z" class="c27"/><path d="M490 59.3l1.1-1.2l3.6-1.2l-1.1 1.3z" class="c30"/><path d="M491.1 58.1l2.8-1.5l3.6-1.2l-2.8 1.5z" class="c33"/><path d="M493.9 56.6l2.8 0.4l3.6-1.1l-2.8-0.5z" class="c36"/><path d="M496.7 57.1l2.8 1.2l3.6-1.2l-2.8-1.1z" class="c37"/><path d="M499.5 58.2l2.8 1.3l3.6-1.2l-2.8-1.2z" class="c37"/><path d="M469 57.3L472.1 59.3L475.2 61.3L478.3 62.4L481.4 61.9L484.5 61.8L485.5 62.2L486.6 62.4L487.6 62.3L488.7 61.9L489.7 61.1L490.8 60L491.8 58.8L492.9 57.6L495.7 56L498.5 56.5L501.3 57.6L504.1 58.9" class="el"/><path d="M470.8 56.1L473.9 58.1L477 60.1L480.1 61.2L483.2 60.9L486.3 61.1L487.3 61.5L488.4 61.8L489.4 61.8L490.5 61.4L491.5 60.7L492.6 59.5L493.6 58.2L494.7 57L497.5 55.4L500.3 55.9L503.1 57L505.9 58.3" class="el"/><path d="M494.3 56.6L496.1 56L497.7 55.4" class="cr"/><path d="M463.6 61.9l3.1 2.1l3.6-3.3l-3.1-2.1z" class="c11"/><path d="M466.7 64l3.1 1.7l3.6-3l-3.1-2z" class="c10"/><path d="M469.8 65.7l3.1 0.5l3.6-2.5l-3.1-1z" class="c10"/><path d="M472.9 66.2l3.1-1.2l3.6-2.1l-3.1 0.7z" class="c13"/><path d="M476 65l3.1-0.9l3.6-1.5l-3.1 0.3z" class="c16"/><path d="M479.1 64.1l1.1 0l3.6-1.4l-1.1-0.2z" class="c18"/><path d="M480.1 64.2l1.1 0l3.6-1.2l-1.1-0.1z" class="c19"/><path d="M481.2 64.1l1.1-0.3l3.6-1.1l-1.1 0.1z" class="c19"/><path d="M482.2 63.9l1.1-0.5l3.6-1l-1.1 0.4z" class="c21"/><path d="M483.3 63.4l1.1-0.8l3.6-1l-1.1 0.8z" class="c23"/><path d="M484.3 62.6l1.1-1l3.6-1l-1.1 1.1z" class="c25"/><path d="M485.4 61.6l1.1-1.2l3.6-1.1l-1.1 1.2z" class="c27"/><path d="M486.4 60.4l1.1-1.1l3.6-1.1l-1.1 1.2z" class="c30"/><path d="M487.5 59.3l2.8-1.4l3.6-1.2l-2.8 1.5z" class="c33"/><path d="M490.3 57.8l2.8 0.4l3.6-1.2l-2.8-0.4z" class="c36"/><path d="M493.1 58.2l2.8 1.2l3.6-1.2l-2.8-1.2z" class="c37"/><path d="M495.9 59.4l2.8 1.2l3.6-1.2l-2.8-1.3z" class="c37"/><path d="M465.4 60.2L468.5 62.3L471.6 64.2L474.7 64.9L477.8 64L480.9 63.4L481.9 63.5L483 63.5L484 63.3L485.1 62.9L486.1 62.1L487.2 61L488.2 59.8L489.3 58.7L492.1 57.2L494.9 57.6L497.7 58.8L500.5 60.1" class="el"/><path d="M467.2 58.6L470.3 60.7L473.4 62.7L476.5 63.6L479.6 62.9L482.7 62.6L483.7 62.8L484.8 62.9L485.8 62.8L486.9 62.4L487.9 61.6L489 60.5L490 59.3L491.1 58.1L493.9 56.6L496.7 57.1L499.5 58.2L502.3 59.5" class="el"/><path d="M490.7 57.8L492.5 57.2L494.3 56.6" class="cr"/><path d="M460 65.5l3.1 2l3.6-3.5l-3.1-2.1z" class="c7"/><path d="M463.1 67.5l3.1 1.2l3.6-3l-3.1-1.7z" class="c7"/><path d="M466.2 68.7l3.1-0.1l3.6-2.4l-3.1-0.5z" class="c8"/><path d="M469.3 68.5l3.1-1.7l3.6-1.8l-3.1 1.2z" class="c11"/><path d="M472.4 66.8l3.1-1.3l3.6-1.4l-3.1 0.9z" class="c15"/><path d="M475.5 65.5l1.1-0.1l3.6-1.3l-1.1 0z" class="c18"/><path d="M476.5 65.5l1.1-0.1l3.6-1.2l-1.1 0z" class="c18"/><path d="M477.6 65.3l1.1-0.3l3.6-1.1l-1.1 0.3z" class="c20"/><path d="M478.6 65l1.1-0.6l3.6-1.1l-1.1 0.5z" class="c21"/><path d="M479.7 64.5l1.1-0.8l3.6-1.1l-1.1 0.8z" class="c23"/><path d="M480.7 63.7l1.1-1l3.6-1.1l-1.1 1z" class="c25"/><path d="M481.8 62.6l1.1-1.1l3.6-1.1l-1.1 1.2z" class="c27"/><path d="M482.8 61.5l1.1-1.1l3.6-1.2l-1.1 1.1z" class="c30"/><path d="M483.9 60.4l2.8-1.4l3.6-1.2l-2.8 1.4z" class="c33"/><path d="M486.7 59l2.8 0.4l3.6-1.2l-2.8-0.4z" class="c36"/><path d="M489.5 59.4l2.8 1.2l3.6-1.2l-2.8-1.2z" class="c37"/><path d="M492.3 60.6l2.8 1.2l3.6-1.2l-2.8-1.2z" class="c37"/><path d="M461.8 63.7L464.9 65.8L468 67.2L471.1 67.4L474.2 65.9L477.3 64.9L478.3 64.8L479.4 64.7L480.4 64.4L481.5 63.9L482.5 63.1L483.6 62.1L484.6 60.9L485.7 59.9L488.5 58.4L491.3 58.8L494.1 60L496.9 61.2" class="el"/><path d="M463.6 61.9L466.7 64L469.8 65.7L472.9 66.2L476 65L479.1 64.1L480.1 64.2L481.2 64.1L482.2 63.9L483.3 63.4L484.3 62.6L485.4 61.6L486.4 60.4L487.5 59.3L490.3 57.8L493.1 58.2L495.9 59.4L498.7 60.7" class="el"/><path d="M487.1 59L488.9 58.4L490.7 57.8" class="cr"/><path d="M456.4 69.2l3.1 1.5l3.6-3.2l-3.1-2z" class="c4"/><path d="M459.5 70.7l3.1 0.6l3.6-2.6l-3.1-1.2z" class="c4"/><path d="M462.6 71.2l3.1-0.8l3.6-1.9l-3.1 0.1z" class="c6"/><path d="M465.7 70.5l3.1-2.4l3.6-1.3l-3.1 1.7z" class="c10"/><path d="M468.8 68.1l3.1-1.5l3.6-1.1l-3.1 1.3z" class="c15"/><path d="M471.9 66.6l1.1 0l3.6-1.1l-1.1 0.1z" class="c18"/><path d="M472.9 66.6l1.1-0.1l3.6-1.2l-1.1 0.1z" class="c18"/><path d="M474 66.5l1.1-0.3l3.6-1.2l-1.1 0.3z" class="c20"/><path d="M475 66.2l1.1-0.5l3.6-1.2l-1.1 0.6z" class="c21"/><path d="M476.1 65.7l1.1-0.8l3.6-1.2l-1.1 0.8z" class="c23"/><path d="M477.1 64.9l1.1-1l3.6-1.2l-1.1 1z" class="c25"/><path d="M478.2 63.9l1.1-1.1l3.6-1.2l-1.1 1.1z" class="c28"/><path d="M479.2 62.7l1.1-1.1l3.6-1.2l-1.1 1.1z" class="c30"/><path d="M480.3 61.6l2.8-1.4l3.6-1.2l-2.8 1.4z" class="c33"/><path d="M483.1 60.2l2.8 0.4l3.6-1.2l-2.8-0.4z" class="c36"/><path d="M485.9 60.6l2.8 1.2l3.6-1.2l-2.8-1.2z" class="c37"/><path d="M488.7 61.8l2.8 1.2l3.6-1.2l-2.8-1.2z" class="c37"/><path d="M456.4 69.2L459.5 70.7L462.6 71.2L465.7 70.5L468.8 68.1L471.9 66.6L472.9 66.6L474 66.5L475 66.2L476.1 65.7L477.1 64.9L478.2 63.9L479.2 62.7L480.3 61.6L483.1 60.2L485.9 60.6L488.7 61.8L491.5 63" class="el"/><path d="M458.2 67.4L461.3 69.2L464.4 70L467.5 69.6L470.6 67.5L473.7 66.1L474.7 66.1L475.8 65.9L476.8 65.6L477.9 65.1L478.9 64.3L480 63.2L481 62.1L482.1 61L484.9 59.6L487.7 60L490.5 61.2L493.3 62.4" class="el"/><path d="M460 65.5L463.1 67.5L466.2 68.7L469.3 68.5L472.4 66.8L475.5 65.5L476.5 65.5L477.6 65.3L478.6 65L479.7 64.5L480.7 63.7L481.8 62.6L482.8 61.5L483.9 60.4L486.7 59L489.5 59.4L492.3 60.6L495.1 61.8" class="el"/><path d="M483.5 60.2L485.3 59.6L487.1 59" class="cr"/></g><text x="294.65" y="4.25" class="t" text-anchor="middle">0</text><text x="302.9" y="4.25" class="t" text-anchor="middle">20</text><text x="312.4" y="4.25" class="t" text-anchor="middle">40</text><text x="317.15" y="8.35" class="t" text-anchor="middle">400</text><text x="317.15" y="21.41" class="t" text-anchor="middle">350</text><text x="317.15" y="34.47" class="t" text-anchor="middle">300</text><text x="317.15" y="47.52" class="t" text-anchor="middle">250</text><text x="317.15" y="60.58" class="t" text-anchor="middle">200</text><text x="317.15" y="73.64" class="t" text-anchor="middle">150</text><text x="317.15" y="86.7" class="t" text-anchor="middle">100</text><text x="322.2" y="90.95" class="t" text-anchor="middle">30</text><text x="322.2" y="113.45" class="t" text-anchor="middle">30</text><text x="341.63" y="90.95" class="t" text-anchor="middle">40</text><text x="341.63" y="113.45" class="t" text-anchor="middle">40</text><text x="361.06" y="90.95" class="t" text-anchor="middle">50</text><text x="361.06" y="113.45" class="t" text-anchor="middle">50</text><text x="380.49" y="90.95" class="t" text-anchor="middle">60</text><text x="380.49" y="113.45" class="t" text-anchor="middle">60</text><text x="399.92" y="90.95" class="t" text-anchor="middle">70</text><text x="399.92" y="113.45" class="t" text-anchor="middle">70</text><text x="419.35" y="90.95" class="t" text-anchor="middle">80</text><text x="419.35" y="113.45" class="t" text-anchor="middle">80</text><text x="446.2" y="72.7" class="t" text-anchor="middle">20</text><text x="460.23" y="78.98" class="t" text-anchor="middle">40</text><text x="474.27" y="85.27" class="t" text-anchor="middle">60</text><text x="488.3" y="91.55" class="t" text-anchor="middle">80</text><text x="496.1" y="91.35" class="t" text-anchor="middle">100</text><text x="512.9" y="85.82" class="t" text-anchor="middle">200</text><text x="529.7" y="80.28" class="t" text-anchor="middle">300</text><text x="546.5" y="74.75" class="t" text-anchor="middle">400</text><text x="292" y="8.35" class="t" text-anchor="end">400</text><text x="292" y="21.41" class="t" text-anchor="end">350</text><text x="292" y="34.47" class="t" text-anchor="end">300</text><text x="292" y="47.52" class="t" text-anchor="end">250</text><text x="292" y="60.58" class="t" text-anchor="end">200</text><text x="292" y="73.64" class="t" text-anchor="end">150</text><text x="292" y="86.7" class="t" text-anchor="end">100</text><text x="320.05" y="97.35" class="t" text-anchor="end">40</text><text x="320.05" y="104.05" class="t" text-anchor="end">20</text><text x="320.05" y="110.75" class="t" text-anchor="end">0</text><text x="429.1" y="82" class="t" text-anchor="start">75</text><text x="429.1" y="72.99" class="t" text-anchor="start">80</text><text x="429.1" y="63.98" class="t" text-anchor="start">85</text><text x="429.1" y="54.97" class="t" text-anchor="start">90</text><text x="429.1" y="45.96" class="t" text-anchor="start">95</text><text x="429.1" y="36.95" class="t" text-anchor="start">100</text><text x="429.1" y="27.94" class="t" text-anchor="start">105</text><text x="429.1" y="18.92" class="t" text-anchor="start">110</text><text x="429.1" y="9.91" class="t" text-anchor="start">115</text><text x="447.2" y="69.9" class="t" text-anchor="end">70</text><text x="447.2" y="61.2" class="t" text-anchor="end">80</text><text x="447.2" y="52.5" class="t" text-anchor="end">90</text><text x="447.2" y="43.8" class="t" text-anchor="end">100</text><text x="447.2" y="35.1" class="t" text-anchor="end">110</text><text x="447.2" y="26.4" class="t" text-anchor="end">120</text><text x="370.9" y="118.6" class="al" text-anchor="middle" textLength="52" lengthAdjust="spacingAndGlyphs" style="font-size:6.3px">Transmission Range</text><text x="428.8" y="122.3" class="pl" text-anchor="middle">(d)</text><text x="450.3" y="91.75" class="al3" text-anchor="middle" textLength="43" lengthAdjust="spacingAndGlyphs">Transmission Range</text><text x="529.8" y="92.5" class="al3" text-anchor="middle" textLength="31.6" lengthAdjust="spacingAndGlyphs">No. of Sensors</text><text transform="translate(283.1 40.7) rotate(-90)" text-anchor="middle" class="al" style="font-size:6.2px" textLength="38.7" lengthAdjust="spacingAndGlyphs">No. of Sensors</text><text transform="translate(438 46.75) rotate(-90)" text-anchor="middle" class="zl">No. of Barriers</text><g clip-path="url(#c113)"><g filter="url(#bv)"><rect x="320" y="135.36" width="99.5" height="4.09" fill="url(#g114)"/><rect x="320" y="138.75" width="99.5" height="4.09" fill="url(#g115)"/><rect x="320" y="142.14" width="99.5" height="4.09" fill="url(#g116)"/><rect x="320" y="145.52" width="99.5" height="4.09" fill="url(#g117)"/><rect x="320" y="148.91" width="99.5" height="4.09" fill="url(#g118)"/><rect x="320" y="152.29" width="99.5" height="4.09" fill="url(#g119)"/><rect x="320" y="155.68" width="99.5" height="4.09" fill="url(#g120)"/><rect x="320" y="159.06" width="99.5" height="4.09" fill="url(#g121)"/><rect x="320" y="162.45" width="99.5" height="4.09" fill="url(#g122)"/><rect x="320" y="165.83" width="99.5" height="4.09" fill="url(#g123)"/><rect x="320" y="169.22" width="99.5" height="4.09" fill="url(#g124)"/><rect x="320" y="172.6" width="99.5" height="4.09" fill="url(#g125)"/><rect x="320" y="175.99" width="99.5" height="4.09" fill="url(#g126)"/><rect x="320" y="179.38" width="99.5" height="4.09" fill="url(#g127)"/><rect x="320" y="182.76" width="99.5" height="4.09" fill="url(#g128)"/><rect x="320" y="186.15" width="99.5" height="4.09" fill="url(#g129)"/><rect x="320" y="189.53" width="99.5" height="4.09" fill="url(#g130)"/><rect x="320" y="192.92" width="99.5" height="4.09" fill="url(#g131)"/><rect x="320" y="196.3" width="99.5" height="4.09" fill="url(#g132)"/><rect x="320" y="199.69" width="99.5" height="4.09" fill="url(#g133)"/><rect x="320" y="203.07" width="99.5" height="4.09" fill="url(#g134)"/><rect x="320" y="206.46" width="99.5" height="4.09" fill="url(#g135)"/><rect x="320" y="209.84" width="99.5" height="4.09" fill="url(#g136)"/><rect x="320" y="213.23" width="99.5" height="4.09" fill="url(#g137)"/><rect x="320" y="216.61" width="99.5" height="4.09" fill="url(#g138)"/><rect x="320" y="220" width="99.5" height="4.09" fill="url(#g139)"/></g></g><rect x="423" y="138.4" width="5" height="81.6" fill="url(#g140)" stroke="#888" stroke-width="0.35"/><rect x="293" y="139.25" width="19" height="81.25" fill="#fff" stroke="#aaa" stroke-width="0.4"/><rect x="293" y="139.25" width="16.25" height="15.25" class="hb"/><rect x="293" y="154.5" width="16.25" height="14.25" class="hb"/><rect x="293" y="168.75" width="13.25" height="14.5" class="hb"/><rect x="293" y="183.25" width="16.25" height="15" class="hb"/><rect x="293" y="198.25" width="16.25" height="15" class="hb"/><rect x="293" y="213.25" width="7" height="7.25" class="hb"/><rect x="320.5" y="229.6" width="98.7" height="13.7" fill="#fff" stroke="#aaa" stroke-width="0.4"/><rect x="320.5" y="238" width="9" height="5.3" class="hb"/><rect x="329.5" y="231.3" width="19" height="12" class="hb"/><rect x="348.5" y="231.3" width="19.1" height="12" class="hb"/><rect x="367.6" y="231.3" width="19.7" height="12" class="hb"/><rect x="387.3" y="231.3" width="19.1" height="12" class="hb"/><rect x="406.4" y="233.2" width="12.8" height="10.1" class="hb"/><path d="M449.4 199.1L499.6 183.3L541.9 201.9M449.4 190.3L499.6 174.5L541.9 193.1M449.4 181.5L499.6 165.7L541.9 184.3M449.4 172.7L499.6 156.9L541.9 175.5M449.4 163.9L499.6 148.1L541.9 166.7M449.4 155.1L499.6 139.3L541.9 157.9M449.4 199.1L499.6 183.3L499.6 139.3M463.5 205.3L513.7 189.5L513.7 145.5M477.6 211.5L527.8 195.7L527.8 151.7M491.7 217.7L541.9 201.9L541.9 157.9M491.7 217.7L449.4 199.1L449.4 155.1M501.74 214.54L459.44 195.94L459.44 151.94M511.78 211.38L469.48 192.78L469.48 148.78M521.82 208.22L479.52 189.62L479.52 145.62M531.86 205.06L489.56 186.46L489.56 142.46M541.9 201.9L499.6 183.3L499.6 139.3" fill="none" stroke="#ececec" stroke-width="0.3"/><path d="M449.4 155.1L449.4 199.1L491.7 217.7L541.9 201.9" fill="none" stroke="#555" stroke-width="0.45"/><g class="s"><path d="M503.1 174l3.1 1.6l3.6-1.1l-3.1-1.4z" class="c18"/><path d="M506.2 175.6l3.1 1.4l3.6-1.2l-3.1-1.4z" class="c18"/><path d="M509.3 177l3.1 1.1l3.6-1.2l-3.1-1.1z" class="c18"/><path d="M512.4 178.1l3.1 0.7l3.6-1.2l-3.1-0.7z" class="c19"/><path d="M515.5 178.9l3.1-0.7l3.6-1.1l-3.1 0.6z" class="c21"/><path d="M518.6 178.2l1.1-0.8l3.6-1l-1.1 0.7z" class="c23"/><path d="M519.6 177.4l1.1-1.1l3.6-0.9l-1.1 1.1z" class="c25"/><path d="M520.7 176.3l1.1-1.5l3.6-0.9l-1.1 1.4z" class="c28"/><path d="M521.7 174.8l1.1-1.7l3.6-0.9l-1.1 1.6z" class="c31"/><path d="M522.8 173.1l1.1-1.7l3.6-0.8l-1.1 1.7z" class="c34"/><path d="M523.9 171.4l1.1-1.6l3.6-0.8l-1.1 1.6z" class="c37"/><path d="M524.9 169.8l1.1-1.4l3.6-0.8l-1.1 1.4z" class="c40"/><path d="M526 168.3l1.1-1.3l3.6-0.7l-1.1 1.2z" class="c43"/><path d="M527 167.1l2.8-2.7l3.6-0.7l-2.8 2.6z" class="c47"/><path d="M529.9 164.4l2.8-1.4l3.6-0.6l-2.8 1.3z" class="c52"/><path d="M532.7 163l2.8 0.6l3.6-0.5l-2.8-0.7z" class="c54"/><path d="M535.5 163.6l2.8 3.4l3.6-0.2l-2.8-3.7z" class="c53"/><path d="M504.9 173.5L508 175L511.1 176.4L514.2 177.6L517.3 178.3L520.4 177.6L521.4 176.9L522.5 175.7L523.5 174.3L524.6 172.6L525.7 170.9L526.7 169.3L527.8 167.9L528.8 166.6L531.6 164L534.5 162.6L537.3 163.2L540.1 166.8" class="el"/><path d="M506.6 173.1L509.8 174.5L512.9 175.8L516 177L519.1 177.7L522.2 177.1L523.2 176.4L524.3 175.3L525.3 173.9L526.4 172.2L527.4 170.6L528.5 169L529.6 167.6L530.6 166.3L533.4 163.7L536.3 162.4L539.1 163.1L541.9 166.8" class="el"/><path d="M533.3 163L535.1 162.5L536.9 162.3" class="cr"/><path d="M499.5 175l3.1 1.7l3.6-1.1l-3.1-1.6z" class="c19"/><path d="M502.6 176.6l3.1 1.5l3.6-1.1l-3.1-1.4z" class="c18"/><path d="M505.7 178.1l3.1 1.1l3.6-1.1l-3.1-1.1z" class="c18"/><path d="M508.8 179.2l3.1 0.7l3.6-1.1l-3.1-0.7z" class="c19"/><path d="M511.9 179.9l3.1-0.6l3.6-1.2l-3.1 0.7z" class="c21"/><path d="M515 179.3l1.1-0.7l3.6-1.2l-1.1 0.8z" class="c23"/><path d="M516 178.6l1.1-1.1l3.6-1.3l-1.1 1.1z" class="c25"/><path d="M517.1 177.5l1.1-1.4l3.6-1.3l-1.1 1.5z" class="c28"/><path d="M518.2 176.1l1.1-1.6l3.6-1.4l-1.1 1.7z" class="c31"/><path d="M519.2 174.5l1.1-1.7l3.6-1.4l-1.1 1.7z" class="c34"/><path d="M520.3 172.8l1.1-1.6l3.6-1.4l-1.1 1.6z" class="c37"/><path d="M521.3 171.2l1.1-1.4l3.6-1.4l-1.1 1.4z" class="c40"/><path d="M522.4 169.8l1.1-1.3l3.6-1.5l-1.1 1.3z" class="c43"/><path d="M523.4 168.5l2.8-2.6l3.6-1.5l-2.8 2.7z" class="c47"/><path d="M526.3 165.9l2.8-1.3l3.6-1.6l-2.8 1.4z" class="c52"/><path d="M529.1 164.6l2.8 0.6l3.6-1.6l-2.8-0.6z" class="c54"/><path d="M531.9 165.2l2.8 3l3.6-1.2l-2.8-3.4z" class="c53"/><path d="M501.3 174.5L504.4 176.1L507.5 177.5L510.6 178.7L513.7 179.4L516.8 178.8L517.8 178L518.9 176.9L520 175.4L521 173.7L522.1 172L523.1 170.4L524.2 169L525.2 167.7L528.1 165L530.9 163.7L533.7 164.3L536.5 167.4" class="el"/><path d="M503.1 174L506.2 175.6L509.3 177L512.4 178.1L515.5 178.9L518.6 178.2L519.6 177.4L520.7 176.3L521.7 174.8L522.8 173.1L523.9 171.4L524.9 169.8L526 168.3L527 167.1L529.9 164.4L532.7 163L535.5 163.6L538.3 167" class="el"/><path d="M529.7 164.5L531.5 163.6L533.3 163" class="cr"/><path d="M495.9 176l3.1 1.7l3.6-1.1l-3.1-1.7z" class="c19"/><path d="M499 177.7l3.1 1.5l3.6-1.1l-3.1-1.5z" class="c18"/><path d="M502.1 179.2l3.1 1.1l3.6-1.1l-3.1-1.1z" class="c18"/><path d="M505.2 180.3l3.1 0.6l3.6-1.1l-3.1-0.7z" class="c19"/><path d="M508.3 181l3.1-0.4l3.6-1.2l-3.1 0.6z" class="c21"/><path d="M511.4 180.6l1.1-0.6l3.6-1.4l-1.1 0.7z" class="c23"/><path d="M512.5 180l1.1-0.9l3.6-1.5l-1.1 1.1z" class="c25"/><path d="M513.5 179l1.1-1.3l3.6-1.6l-1.1 1.4z" class="c28"/><path d="M514.6 177.7l1.1-1.6l3.6-1.7l-1.1 1.6z" class="c30"/><path d="M515.6 176.1l1.1-1.6l3.6-1.8l-1.1 1.7z" class="c34"/><path d="M516.7 174.5l1.1-1.5l3.6-1.9l-1.1 1.6z" class="c37"/><path d="M517.7 173l1.1-1.3l3.6-1.9l-1.1 1.4z" class="c39"/><path d="M518.8 171.7l1.1-1.2l3.6-2l-1.1 1.3z" class="c42"/><path d="M519.9 170.5l2.8-2.5l3.6-2.2l-2.8 2.6z" class="c46"/><path d="M522.7 168.1l2.8-1l3.6-2.4l-2.8 1.3z" class="c51"/><path d="M525.5 167l2.8 0.8l3.6-2.6l-2.8-0.6z" class="c53"/><path d="M528.3 167.8l2.8 2.5l3.6-2.1l-2.8-3z" class="c52"/><path d="M497.7 175.5L500.8 177.2L503.9 178.7L507 179.8L510.1 180.5L513.2 180L514.3 179.3L515.3 178.3L516.4 176.9L517.4 175.3L518.5 173.6L519.5 172.1L520.6 170.7L521.7 169.5L524.5 166.9L527.3 165.7L530.1 166.4L532.9 169.1" class="el"/><path d="M499.5 175L502.6 176.6L505.7 178.1L508.8 179.2L511.9 179.9L515 179.3L516 178.6L517.1 177.5L518.2 176.1L519.2 174.5L520.3 172.8L521.3 171.2L522.4 169.8L523.4 168.5L526.3 165.9L529.1 164.6L531.9 165.2L534.7 168.2" class="el"/><path d="M525.7 167L527.7 165.7L529.7 164.5" class="cr"/><path d="M492.3 177.2l3.1 1.7l3.6-1.1l-3.1-1.7z" class="c19"/><path d="M495.4 178.9l3.1 1.5l3.6-1.1l-3.1-1.5z" class="c18"/><path d="M498.5 180.4l3.1 1.2l3.6-1.2l-3.1-1.1z" class="c18"/><path d="M501.6 181.5l3.1 0.6l3.6-1.1l-3.1-0.6z" class="c19"/><path d="M504.7 182.1l3.1-0.3l3.6-1.3l-3.1 0.4z" class="c21"/><path d="M507.8 181.8l1.1-0.5l3.6-1.4l-1.1 0.6z" class="c23"/><path d="M508.9 181.4l1.1-0.8l3.6-1.6l-1.1 0.9z" class="c25"/><path d="M509.9 180.6l1.1-1.2l3.6-1.7l-1.1 1.3z" class="c27"/><path d="M511 179.4l1.1-1.4l3.6-1.8l-1.1 1.6z" class="c30"/><path d="M512 178l1.1-1.5l3.6-2l-1.1 1.6z" class="c33"/><path d="M513.1 176.5l1.1-1.4l3.6-2.1l-1.1 1.5z" class="c35"/><path d="M514.2 175.2l1.1-1.2l3.6-2.3l-1.1 1.3z" class="c38"/><path d="M515.2 174l1.1-1l3.6-2.4l-1.1 1.2z" class="c40"/><path d="M516.3 173l2.8-2.1l3.6-2.8l-2.8 2.5z" class="c44"/><path d="M519.1 170.9l2.8-0.6l3.6-3.2l-2.8 1z" class="c48"/><path d="M521.9 170.3l2.8 1l3.6-3.5l-2.8-0.8z" class="c50"/><path d="M524.7 171.3l2.8 2.1l3.6-3.1l-2.8-2.5z" class="c50"/><path d="M494.1 176.6L497.2 178.3L500.3 179.8L503.4 180.9L506.5 181.5L509.6 181.2L510.7 180.7L511.7 179.8L512.8 178.6L513.8 177.1L514.9 175.5L516 174.1L517 172.8L518.1 171.7L520.9 169.4L523.7 168.5L526.5 169.4L529.4 171.7" class="el"/><path d="M495.9 176L499 177.7L502.1 179.2L505.2 180.3L508.3 181L511.4 180.6L512.5 180L513.5 179L514.6 177.7L515.6 176.1L516.7 174.5L517.7 173L518.8 171.7L519.9 170.5L522.7 168.1L525.5 167L528.3 167.8L531.1 170.3" class="el"/><path d="M521.3 170.2L523.6 168.5L525.7 167" class="cr"/><path d="M488.7 178.4l3.1 1.6l3.6-1.2l-3.1-1.7z" class="c19"/><path d="M491.8 180l3.1 1.5l3.6-1.2l-3.1-1.5z" class="c18"/><path d="M494.9 181.6l3.1 1.2l3.6-1.3l-3.1-1.2z" class="c18"/><path d="M498 182.8l3.1 0.6l3.6-1.2l-3.1-0.6z" class="c19"/><path d="M501.1 183.3l3.1-0.2l3.6-1.3l-3.1 0.3z" class="c21"/><path d="M504.2 183.2l1.1-0.4l3.6-1.4l-1.1 0.5z" class="c23"/><path d="M505.3 182.8l1.1-0.7l3.6-1.6l-1.1 0.8z" class="c24"/><path d="M506.3 182.2l1.1-1l3.6-1.7l-1.1 1.2z" class="c26"/><path d="M507.4 181.1l1.1-1.3l3.6-1.9l-1.1 1.4z" class="c29"/><path d="M508.5 179.9l1.1-1.3l3.6-2.1l-1.1 1.5z" class="c31"/><path d="M509.5 178.6l1.1-1.2l3.6-2.2l-1.1 1.4z" class="c34"/><path d="M510.6 177.4l1.1-1l3.6-2.4l-1.1 1.2z" class="c36"/><path d="M511.6 176.4l1.1-0.8l3.6-2.6l-1.1 1z" class="c39"/><path d="M512.7 175.6l2.8-1.4l3.6-3.3l-2.8 2.1z" class="c42"/><path d="M515.5 174.2l2.8 0l3.6-3.9l-2.8 0.6z" class="c45"/><path d="M518.3 174.2l2.8 1.3l3.6-4.2l-2.8-1z" class="c46"/><path d="M521.2 175.5l2.8 1.8l3.6-3.9l-2.8-2.1z" class="c46"/><path d="M490.5 177.8L493.6 179.4L496.7 181L499.8 182.1L502.9 182.7L506 182.5L507.1 182.1L508.1 181.4L509.2 180.3L510.3 178.9L511.3 177.5L512.4 176.3L513.4 175.2L514.5 174.3L517.3 172.5L520.1 172.2L522.9 173.4L525.8 175.3" class="el"/><path d="M492.3 177.2L495.4 178.9L498.5 180.4L501.6 181.5L504.7 182.1L507.8 181.8L508.9 181.4L509.9 180.6L511 179.4L512 178L513.1 176.5L514.2 175.2L515.2 174L516.3 173L519.1 170.9L521.9 170.3L524.7 171.3L527.6 173.4" class="el"/><path d="M517 174L519.3 172.1L521.3 170.2" class="cr"/><path d="M485.1 179.8l3.1 1.6l3.6-1.4l-3.1-1.6z" class="c18"/><path d="M488.2 181.4l3.1 1.6l3.6-1.4l-3.1-1.5z" class="c18"/><path d="M491.3 183l3.1 1.2l3.6-1.4l-3.1-1.2z" class="c18"/><path d="M494.4 184.2l3.1 0.5l3.6-1.3l-3.1-0.6z" class="c19"/><path d="M497.5 184.7l3.1 0l3.6-1.5l-3.1 0.2z" class="c20"/><path d="M500.6 184.6l1.1-0.2l3.6-1.6l-1.1 0.4z" class="c22"/><path d="M501.7 184.4l1.1-0.5l3.6-1.8l-1.1 0.7z" class="c23"/><path d="M502.8 183.9l1.1-0.8l3.6-2l-1.1 1z" class="c25"/><path d="M503.8 183.1l1.1-1l3.6-2.2l-1.1 1.3z" class="c27"/><path d="M504.9 182.1l1.1-1.1l3.6-2.4l-1.1 1.3z" class="c30"/><path d="M505.9 180.9l1.1-1.1l3.6-2.5l-1.1 1.2z" class="c32"/><path d="M507 179.9l1.1-0.9l3.6-2.6l-1.1 1z" class="c34"/><path d="M508 179l1.1-0.7l3.6-2.7l-1.1 0.8z" class="c36"/><path d="M509.1 178.2l2.8-0.8l3.6-3.3l-2.8 1.4z" class="c39"/><path d="M511.9 177.4l2.8 0.6l3.6-3.8l-2.8 0z" class="c42"/><path d="M514.7 178l2.8 1.5l3.6-4l-2.8-1.3z" class="c42"/><path d="M517.6 179.5l2.8 1.6l3.6-3.8l-2.8-1.8z" class="c42"/><path d="M486.9 179.1L490 180.7L493.1 182.3L496.2 183.5L499.3 184L502.4 183.9L503.5 183.6L504.6 183L505.6 182.1L506.7 180.9L507.7 179.7L508.8 178.6L509.8 177.7L510.9 176.9L513.7 175.8L516.5 176.2L519.4 177.6L522.2 179.3" class="el"/><path d="M488.7 178.4L491.8 180L494.9 181.6L498 182.8L501.1 183.3L504.2 183.2L505.3 182.8L506.3 182.2L507.4 181.1L508.5 179.9L509.5 178.6L510.6 177.4L511.6 176.4L512.7 175.6L515.5 174.2L518.3 174.2L521.2 175.5L524 177.3" class="el"/><path d="M511.9 177.4L514.4 175.8L517 174" class="cr"/><path d="M481.5 181.3l3.1 1.7l3.6-1.6l-3.1-1.6z" class="c18"/><path d="M484.7 183l3.1 1.5l3.6-1.6l-3.1-1.6z" class="c18"/><path d="M487.8 184.5l3.1 1.1l3.6-1.4l-3.1-1.2z" class="c18"/><path d="M490.9 185.6l3.1 0.4l3.6-1.4l-3.1-0.5z" class="c18"/><path d="M494 186.1l3.1 0.3l3.6-1.7l-3.1 0z" class="c20"/><path d="M497.1 186.4l1.1 0l3.6-2l-1.1 0.2z" class="c21"/><path d="M498.1 186.4l1.1-0.2l3.6-2.3l-1.1 0.5z" class="c22"/><path d="M499.2 186.2l1.1-0.5l3.6-2.6l-1.1 0.8z" class="c24"/><path d="M500.2 185.7l1.1-0.8l3.6-2.8l-1.1 1z" class="c26"/><path d="M501.3 184.9l1.1-1l3.6-3l-1.1 1.1z" class="c28"/><path d="M502.3 183.9l1.1-1.1l3.6-2.9l-1.1 1.1z" class="c30"/><path d="M503.4 182.8l1.1-1.1l3.6-2.8l-1.1 0.9z" class="c32"/><path d="M504.5 181.7l1.1-0.9l3.6-2.6l-1.1 0.7z" class="c34"/><path d="M505.5 180.8l2.8-0.8l3.6-2.6l-2.8 0.8z" class="c37"/><path d="M508.3 180l2.8 0.8l3.6-2.7l-2.8-0.6z" class="c39"/><path d="M511.2 180.8l2.8 1.3l3.6-2.6l-2.8-1.5z" class="c39"/><path d="M514 182.1l2.8 1.5l3.6-2.5l-2.8-1.6z" class="c39"/><path d="M483.3 180.5L486.4 182.2L489.5 183.7L492.6 184.9L495.8 185.4L498.9 185.5L499.9 185.4L501 185L502 184.3L503.1 183.4L504.1 182.4L505.2 181.3L506.3 180.3L507.3 179.6L510.1 178.8L513 179.6L515.8 181L518.6 182.6" class="el"/><path d="M485.1 179.8L488.2 181.4L491.3 183L494.4 184.2L497.5 184.7L500.6 184.6L501.7 184.4L502.8 183.9L503.8 183.1L504.9 182.1L505.9 180.9L507 179.9L508 179L509.1 178.2L511.9 177.4L514.7 178L517.6 179.5L520.4 181.1" class="el"/><path d="M508.1 180L509.8 178.8L511.9 177.4" class="cr"/><path d="M478 182.8l3.1 2l3.6-1.8l-3.1-1.7z" class="c17"/><path d="M481.1 184.8l3.1 1.5l3.6-1.8l-3.1-1.5z" class="c17"/><path d="M484.2 186.3l3.1 0.9l3.6-1.6l-3.1-1.1z" class="c17"/><path d="M487.3 187.2l3.1 0.3l3.6-1.5l-3.1-0.4z" class="c18"/><path d="M490.4 187.5l3.1 0.7l3.6-1.8l-3.1-0.3z" class="c19"/><path d="M493.5 188.2l1.1 0.3l3.6-2.1l-1.1 0z" class="c20"/><path d="M494.5 188.5l1.1 0.1l3.6-2.4l-1.1 0.2z" class="c21"/><path d="M495.6 188.6l1.1-0.2l3.6-2.7l-1.1 0.5z" class="c22"/><path d="M496.6 188.4l1.1-0.6l3.6-3l-1.1 0.8z" class="c23"/><path d="M497.7 187.9l1.1-0.9l3.6-3.1l-1.1 1z" class="c25"/><path d="M498.8 187l1.1-1.2l3.6-2.9l-1.1 1.1z" class="c27"/><path d="M499.8 185.8l1.1-1.4l3.6-2.6l-1.1 1.1z" class="c30"/><path d="M500.9 184.4l1.1-1.3l3.6-2.3l-1.1 0.9z" class="c32"/><path d="M501.9 183.1l2.8-1.3l3.6-1.8l-2.8 0.8z" class="c35"/><path d="M504.8 181.8l2.8 0.6l3.6-1.7l-2.8-0.8z" class="c37"/><path d="M507.6 182.5l2.8 1.1l3.6-1.4l-2.8-1.3z" class="c37"/><path d="M510.4 183.6l2.8 1.3l3.6-1.3l-2.8-1.5z" class="c37"/><path d="M479.8 182L482.9 183.9L486 185.4L489.1 186.4L492.2 186.8L495.3 187.3L496.3 187.5L497.4 187.5L498.4 187.1L499.5 186.4L500.6 185.5L501.6 184.3L502.7 183.1L503.7 182L506.5 181L509.4 181.7L512.2 182.9L515 184.3" class="el"/><path d="M481.5 181.3L484.7 183L487.8 184.5L490.9 185.6L494 186.1L497.1 186.4L498.1 186.4L499.2 186.2L500.2 185.7L501.3 184.9L502.3 183.9L503.4 182.8L504.5 181.7L505.5 180.8L508.3 180L511.2 180.8L514 182.1L516.8 183.6" class="el"/><path d="M504.7 181.8L506.3 181L508.1 180" class="cr"/><path d="M474.4 184.4l3.1 2.1l3.6-1.7l-3.1-2z" class="c16"/><path d="M477.5 186.5l3.1 1.7l3.6-1.9l-3.1-1.5z" class="c16"/><path d="M480.6 188.2l3.1 1l3.6-1.9l-3.1-0.9z" class="c16"/><path d="M483.7 189.2l3.1 0l3.6-1.6l-3.1-0.3z" class="c17"/><path d="M486.8 189.2l3.1 0.6l3.6-1.6l-3.1-0.7z" class="c19"/><path d="M489.9 189.8l1.1 0.4l3.6-1.7l-1.1-0.3z" class="c19"/><path d="M490.9 190.2l1.1 0.3l3.6-1.9l-1.1-0.1z" class="c19"/><path d="M492 190.5l1.1-0.1l3.6-2l-1.1 0.2z" class="c20"/><path d="M493.1 190.5l1.1-0.4l3.6-2.1l-1.1 0.6z" class="c21"/><path d="M494.1 190l1.1-0.9l3.6-2.2l-1.1 0.9z" class="c23"/><path d="M495.2 189.2l1.1-1.3l3.6-2.1l-1.1 1.2z" class="c25"/><path d="M496.2 187.9l1.1-1.5l3.6-1.9l-1.1 1.4z" class="c28"/><path d="M497.3 186.3l1.1-1.5l3.6-1.8l-1.1 1.3z" class="c31"/><path d="M498.3 184.9l2.8-1.7l3.6-1.4l-2.8 1.3z" class="c34"/><path d="M501.2 183.2l2.8 0.5l3.6-1.2l-2.8-0.6z" class="c36"/><path d="M504 183.7l2.8 1l3.6-1.1l-2.8-1.1z" class="c37"/><path d="M506.8 184.7l2.8 1.2l3.6-1l-2.8-1.3z" class="c37"/><path d="M476.2 183.6L479.3 185.6L482.4 187.2L485.5 188.1L488.6 188.3L491.7 189L492.7 189.4L493.8 189.7L494.9 189.6L495.9 189.1L497 188.2L498 187L499.1 185.5L500.1 184.1L503 182.5L505.8 183.1L508.6 184.1L511.4 185.4" class="el"/><path d="M478 182.8L481.1 184.8L484.2 186.3L487.3 187.2L490.4 187.5L493.5 188.2L494.5 188.5L495.6 188.6L496.6 188.4L497.7 187.9L498.8 187L499.8 185.8L500.9 184.4L501.9 183.1L504.8 181.8L507.6 182.5L510.4 183.6L513.2 184.9" class="el"/><path d="M501.4 183.2L502.9 182.5L504.7 181.8" class="cr"/><path d="M470.8 186.3l3.1 2.1l3.6-1.9l-3.1-2.1z" class="c15"/><path d="M473.9 188.4l3.1 2l3.6-2.2l-3.1-1.7z" class="c15"/><path d="M477 190.4l3.1 1l3.6-2.3l-3.1-1z" class="c15"/><path d="M480.1 191.5l3.1-0.5l3.6-1.8l-3.1 0z" class="c16"/><path d="M483.2 191l3.1 0.1l3.6-1.4l-3.1-0.6z" class="c18"/><path d="M486.3 191.1l1.1 0.4l3.6-1.3l-1.1-0.4z" class="c19"/><path d="M487.4 191.5l1.1 0.2l3.6-1.2l-1.1-0.3z" class="c19"/><path d="M488.4 191.8l1.1-0.1l3.6-1.2l-1.1 0.1z" class="c19"/><path d="M489.5 191.7l1.1-0.5l3.6-1.2l-1.1 0.4z" class="c20"/><path d="M490.5 191.2l1.1-0.9l3.6-1.2l-1.1 0.9z" class="c22"/><path d="M491.6 190.4l1.1-1.3l3.6-1.2l-1.1 1.3z" class="c24"/><path d="M492.6 189.1l1.1-1.5l3.6-1.3l-1.1 1.5z" class="c27"/><path d="M493.7 187.6l1.1-1.4l3.6-1.3l-1.1 1.5z" class="c30"/><path d="M494.8 186.2l2.8-1.8l3.6-1.2l-2.8 1.7z" class="c34"/><path d="M497.6 184.4l2.8 0.4l3.6-1.1l-2.8-0.5z" class="c36"/><path d="M500.4 184.8l2.8 1.1l3.6-1.2l-2.8-1z" class="c37"/><path d="M503.2 185.8l2.8 1.2l3.6-1.1l-2.8-1.2z" class="c37"/><path d="M472.6 185.3L475.7 187.4L478.8 189.3L481.9 190.3L485 190L488.1 190.5L489.2 190.9L490.2 191.2L491.3 191.1L492.3 190.7L493.4 189.8L494.4 188.5L495.5 187L496.6 185.6L499.4 183.8L502.2 184.2L505 185.2L507.8 186.5" class="el"/><path d="M474.4 184.4L477.5 186.5L480.6 188.2L483.7 189.2L486.8 189.2L489.9 189.8L490.9 190.2L492 190.5L493.1 190.5L494.1 190L495.2 189.2L496.2 187.9L497.3 186.3L498.3 184.9L501.2 183.2L504 183.7L506.8 184.7L509.6 185.9" class="el"/><path d="M498 184.4L499.8 183.8L501.4 183.2" class="cr"/><path d="M467.2 189l3.1 2.1l3.6-2.7l-3.1-2.1z" class="c14"/><path d="M470.3 191.1l3.1 2l3.6-2.7l-3.1-2z" class="c13"/><path d="M473.4 193.1l3.1 0.9l3.6-2.5l-3.1-1z" class="c13"/><path d="M476.5 194l3.1-0.9l3.6-2l-3.1 0.5z" class="c14"/><path d="M479.6 193l3.1-0.5l3.6-1.4l-3.1-0.1z" class="c17"/><path d="M482.7 192.5l1.1 0.2l3.6-1.2l-1.1-0.4z" class="c18"/><path d="M483.8 192.7l1.1 0.1l3.6-1.1l-1.1-0.2z" class="c19"/><path d="M484.8 192.8l1.1-0.2l3.6-1l-1.1 0.1z" class="c19"/><path d="M485.9 192.6l1.1-0.5l3.6-0.9l-1.1 0.5z" class="c20"/><path d="M486.9 192.1l1.1-0.9l3.6-0.9l-1.1 0.9z" class="c22"/><path d="M488 191.2l1.1-1.2l3.6-0.9l-1.1 1.3z" class="c24"/><path d="M489.1 190l1.1-1.4l3.6-1l-1.1 1.5z" class="c27"/><path d="M490.1 188.6l1.1-1.3l3.6-1.1l-1.1 1.4z" class="c30"/><path d="M491.2 187.3l2.8-1.8l3.6-1.1l-2.8 1.8z" class="c33"/><path d="M494 185.5l2.8 0.3l3.6-1.1l-2.8-0.4z" class="c36"/><path d="M496.8 185.8l2.8 1.1l3.6-1.2l-2.8-1.1z" class="c37"/><path d="M499.6 187l2.8 1.2l3.6-1.2l-2.8-1.2z" class="c37"/><path d="M469 187.5L472.1 189.7L475.2 191.7L478.3 192.7L481.4 192L484.5 191.8L485.6 192.1L486.6 192.3L487.7 192.2L488.7 191.7L489.8 190.8L490.9 189.6L491.9 188.1L493 186.7L495.8 184.9L498.6 185.3L501.4 186.4L504.2 187.6" class="el"/><path d="M470.8 186.3L473.9 188.4L477 190.4L480.1 191.5L483.2 191L486.3 191.1L487.4 191.5L488.4 191.8L489.5 191.7L490.5 191.2L491.6 190.4L492.6 189.1L493.7 187.6L494.8 186.2L497.6 184.4L500.4 184.8L503.2 185.8L506 187.1" class="el"/><path d="M494.7 185.5L496.3 184.9L498 184.4" class="cr"/><path d="M463.6 192.3l3.1 2.2l3.6-3.4l-3.1-2.1z" class="c11"/><path d="M466.7 194.5l3.1 1.7l3.6-3.1l-3.1-2z" class="c10"/><path d="M469.8 196.2l3.1 0.4l3.6-2.6l-3.1-0.9z" class="c10"/><path d="M472.9 196.6l3.1-1.5l3.6-2.1l-3.1 0.9z" class="c13"/><path d="M476 195.1l3.1-1.1l3.6-1.5l-3.1 0.5z" class="c16"/><path d="M479.1 194.1l1.1 0l3.6-1.3l-1.1-0.2z" class="c18"/><path d="M480.2 194.1l1.1-0.1l3.6-1.1l-1.1-0.1z" class="c19"/><path d="M481.2 194l1.1-0.3l3.6-1l-1.1 0.2z" class="c19"/><path d="M482.3 193.6l1.1-0.6l3.6-0.9l-1.1 0.5z" class="c21"/><path d="M483.4 193l1.1-0.9l3.6-0.9l-1.1 0.9z" class="c23"/><path d="M484.4 192.1l1.1-1.2l3.6-0.9l-1.1 1.2z" class="c25"/><path d="M485.5 191l1.1-1.3l3.6-1l-1.1 1.4z" class="c27"/><path d="M486.5 189.6l1.1-1.3l3.6-1.1l-1.1 1.3z" class="c30"/><path d="M487.6 188.4l2.8-1.7l3.6-1.2l-2.8 1.8z" class="c33"/><path d="M490.4 186.7l2.8 0.3l3.6-1.1l-2.8-0.3z" class="c36"/><path d="M493.2 187l2.8 1.2l3.6-1.1l-2.8-1.1z" class="c37"/><path d="M496.1 188.1l2.8 1.2l3.6-1.1l-2.8-1.2z" class="c37"/><path d="M465.4 190.6L468.5 192.7L471.6 194.6L474.7 195.3L477.8 194.1L480.9 193.3L482 193.4L483 193.4L484.1 193.1L485.2 192.6L486.2 191.7L487.3 190.5L488.3 189.1L489.4 187.8L492.2 186.1L495 186.4L497.8 187.5L500.7 188.8" class="el"/><path d="M467.2 189L470.3 191.1L473.4 193.1L476.5 194L479.6 193L482.7 192.5L483.8 192.7L484.8 192.8L485.9 192.6L486.9 192.1L488 191.2L489.1 190L490.1 188.6L491.2 187.3L494 185.5L496.8 185.8L499.6 187L502.5 188.2" class="el"/><path d="M491.1 186.6L492.9 186L494.7 185.5" class="cr"/><path d="M460 196.2l3.1 2l3.6-3.6l-3.1-2.2z" class="c7"/><path d="M463.1 198.2l3.1 1.1l3.6-3.1l-3.1-1.7z" class="c7"/><path d="M466.2 199.3l3.1-0.3l3.6-2.4l-3.1-0.4z" class="c8"/><path d="M469.3 199l3.1-2.1l3.6-1.8l-3.1 1.5z" class="c11"/><path d="M472.4 197l3.1-1.5l3.6-1.4l-3.1 1.1z" class="c15"/><path d="M475.5 195.4l1.1-0.1l3.6-1.3l-1.1 0z" class="c18"/><path d="M476.6 195.3l1.1-0.2l3.6-1.2l-1.1 0.1z" class="c18"/><path d="M477.7 195.1l1.1-0.4l3.6-1.1l-1.1 0.3z" class="c20"/><path d="M478.7 194.7l1.1-0.7l3.6-1l-1.1 0.6z" class="c21"/><path d="M479.8 194.1l1.1-0.9l3.6-1l-1.1 0.9z" class="c23"/><path d="M480.8 193.1l1.1-1.2l3.6-1l-1.1 1.2z" class="c25"/><path d="M481.9 192l1.1-1.3l3.6-1.1l-1.1 1.3z" class="c27"/><path d="M482.9 190.7l1.1-1.2l3.6-1.1l-1.1 1.3z" class="c30"/><path d="M484 189.5l2.8-1.7l3.6-1.1l-2.8 1.7z" class="c33"/><path d="M486.8 187.8l2.8 0.3l3.6-1.1l-2.8-0.3z" class="c36"/><path d="M489.6 188.1l2.8 1.1l3.6-1.1l-2.8-1.2z" class="c37"/><path d="M492.5 189.2l2.8 1.2l3.6-1.1l-2.8-1.2z" class="c37"/><path d="M461.8 194.2L464.9 196.3L468 197.8L471.1 197.8L474.2 196.1L477.3 194.8L478.4 194.7L479.5 194.5L480.5 194.2L481.6 193.5L482.6 192.6L483.7 191.4L484.7 190.1L485.8 188.9L488.6 187.2L491.4 187.5L494.3 188.7L497.1 189.9" class="el"/><path d="M463.6 192.3L466.7 194.5L469.8 196.2L472.9 196.6L476 195.1L479.1 194.1L480.2 194.1L481.2 194L482.3 193.6L483.4 193L484.4 192.1L485.5 191L486.5 189.6L487.6 188.4L490.4 186.7L493.2 187L496.1 188.1L498.9 189.3" class="el"/><path d="M487.5 187.8L489.3 187.2L491.1 186.6" class="cr"/><path d="M456.4 200l3.1 1.4l3.6-3.3l-3.1-2z" class="c4"/><path d="M459.6 201.5l3.1 0.5l3.6-2.7l-3.1-1.1z" class="c4"/><path d="M462.7 201.9l3.1-1l3.6-1.9l-3.1 0.3z" class="c6"/><path d="M465.8 200.9l3.1-2.8l3.6-1.2l-3.1 2.1z" class="c10"/><path d="M468.9 198.2l3.1-1.7l3.6-1l-3.1 1.5z" class="c15"/><path d="M472 196.4l1.1-0.1l3.6-1.1l-1.1 0.1z" class="c18"/><path d="M473 196.4l1.1-0.1l3.6-1.1l-1.1 0.2z" class="c18"/><path d="M474.1 196.2l1.1-0.4l3.6-1.2l-1.1 0.4z" class="c20"/><path d="M475.1 195.9l1.1-0.6l3.6-1.2l-1.1 0.7z" class="c21"/><path d="M476.2 195.2l1.1-0.9l3.6-1.2l-1.1 0.9z" class="c23"/><path d="M477.2 194.3l1.1-1.2l3.6-1.2l-1.1 1.2z" class="c25"/><path d="M478.3 193.1l1.1-1.3l3.6-1.1l-1.1 1.3z" class="c28"/><path d="M479.4 191.8l1.1-1.2l3.6-1.1l-1.1 1.2z" class="c30"/><path d="M480.4 190.6l2.8-1.7l3.6-1.1l-2.8 1.7z" class="c33"/><path d="M483.2 188.9l2.8 0.3l3.6-1.1l-2.8-0.3z" class="c36"/><path d="M486.1 189.2l2.8 1.1l3.6-1.1l-2.8-1.1z" class="c37"/><path d="M488.9 190.4l2.8 1.2l3.6-1.1l-2.8-1.2z" class="c37"/><path d="M456.4 200L459.6 201.5L462.7 201.9L465.8 200.9L468.9 198.2L472 196.4L473 196.4L474.1 196.2L475.1 195.9L476.2 195.2L477.2 194.3L478.3 193.1L479.4 191.8L480.4 190.6L483.2 188.9L486.1 189.2L488.9 190.4L491.7 191.6" class="el"/><path d="M458.2 198.1L461.3 199.9L464.4 200.7L467.5 200L470.7 197.7L473.8 196L474.8 195.9L475.9 195.7L476.9 195.3L478 194.6L479 193.7L480.1 192.5L481.2 191.2L482.2 190L485 188.4L487.9 188.7L490.7 189.8L493.5 191" class="el"/><path d="M460 196.2L463.1 198.2L466.2 199.3L469.3 199L472.4 197L475.5 195.4L476.6 195.3L477.7 195.1L478.7 194.7L479.8 194.1L480.8 193.1L481.9 192L482.9 190.7L484 189.5L486.8 187.8L489.6 188.1L492.5 189.2L495.3 190.5" class="el"/><path d="M484 188.9L485.7 188.3L487.5 187.8" class="cr"/></g><text x="293.4" y="137" class="t" text-anchor="middle">0</text><text x="302.9" y="137" class="t" text-anchor="middle">20</text><text x="312.4" y="137" class="t" text-anchor="middle">40</text><text x="316.65" y="140.85" class="t" text-anchor="middle">40</text><text x="316.65" y="156.56" class="t" text-anchor="middle">35</text><text x="316.65" y="172.27" class="t" text-anchor="middle">30</text><text x="316.65" y="187.98" class="t" text-anchor="middle">25</text><text x="316.65" y="203.69" class="t" text-anchor="middle">20</text><text x="316.65" y="219.4" class="t" text-anchor="middle">15</text><text x="320.95" y="223.45" class="t" text-anchor="middle">30</text><text x="320.95" y="246.75" class="t" text-anchor="middle">30</text><text x="340.63" y="223.45" class="t" text-anchor="middle">40</text><text x="340.63" y="246.75" class="t" text-anchor="middle">40</text><text x="360.31" y="223.45" class="t" text-anchor="middle">50</text><text x="360.31" y="246.75" class="t" text-anchor="middle">50</text><text x="379.99" y="223.45" class="t" text-anchor="middle">60</text><text x="379.99" y="246.75" class="t" text-anchor="middle">60</text><text x="399.67" y="223.45" class="t" text-anchor="middle">70</text><text x="399.67" y="246.75" class="t" text-anchor="middle">70</text><text x="419.35" y="223.45" class="t" text-anchor="middle">80</text><text x="419.35" y="246.75" class="t" text-anchor="middle">80</text><text x="446.2" y="203.05" class="t" text-anchor="middle">20</text><text x="460.3" y="209.25" class="t" text-anchor="middle">40</text><text x="474.4" y="215.45" class="t" text-anchor="middle">60</text><text x="488.5" y="221.65" class="t" text-anchor="middle">80</text><text x="496.3" y="221.45" class="t" text-anchor="middle">15</text><text x="506.34" y="218.29" class="t" text-anchor="middle">20</text><text x="516.38" y="215.13" class="t" text-anchor="middle">25</text><text x="526.42" y="211.97" class="t" text-anchor="middle">30</text><text x="536.46" y="208.81" class="t" text-anchor="middle">35</text><text x="546.5" y="205.65" class="t" text-anchor="middle">40</text><text x="292" y="140.85" class="t" text-anchor="end">40</text><text x="292" y="156.56" class="t" text-anchor="end">35</text><text x="292" y="172.27" class="t" text-anchor="end">30</text><text x="292" y="187.98" class="t" text-anchor="end">25</text><text x="292" y="203.69" class="t" text-anchor="end">20</text><text x="292" y="219.4" class="t" text-anchor="end">15</text><text x="318.8" y="230.05" class="t" text-anchor="end">40</text><text x="318.8" y="237.25" class="t" text-anchor="end">20</text><text x="318.8" y="243.75" class="t" text-anchor="end">0</text><text x="429.2" y="214.03" class="t" text-anchor="start">75</text><text x="429.2" y="205.64" class="t" text-anchor="start">80</text><text x="429.2" y="197.24" class="t" text-anchor="start">85</text><text x="429.2" y="188.85" class="t" text-anchor="start">90</text><text x="429.2" y="180.45" class="t" text-anchor="start">95</text><text x="429.2" y="172.06" class="t" text-anchor="start">100</text><text x="429.2" y="163.66" class="t" text-anchor="start">105</text><text x="429.2" y="155.27" class="t" text-anchor="start">110</text><text x="429.2" y="146.87" class="t" text-anchor="start">115</text><text x="447.2" y="200.25" class="t" text-anchor="end">70</text><text x="447.2" y="191.45" class="t" text-anchor="end">80</text><text x="447.2" y="182.65" class="t" text-anchor="end">90</text><text x="447.2" y="173.85" class="t" text-anchor="end">100</text><text x="447.2" y="165.05" class="t" text-anchor="end">110</text><text x="447.2" y="156.25" class="t" text-anchor="end">120</text><text x="369.2" y="255.2" class="al" text-anchor="middle" textLength="52.4" lengthAdjust="spacingAndGlyphs" style="font-size:6.3px">Transmission Range</text><text x="431.3" y="258.8" class="pe" text-anchor="middle">(e)</text><text x="451.1" y="221.75" class="al3" text-anchor="middle" textLength="43.2" lengthAdjust="spacingAndGlyphs">Transmission Range</text><text x="529" y="222.6" class="al3" text-anchor="middle" textLength="33.1" lengthAdjust="spacingAndGlyphs">Sensing Range</text><text transform="translate(283 175) rotate(-90)" text-anchor="middle" class="al" style="font-size:6.2px" textLength="39.5" lengthAdjust="spacingAndGlyphs">Sensing Range</text><text transform="translate(438.75 178) rotate(-90)" text-anchor="middle" class="zl">No. of Barriers</text><g clip-path="url(#c141)"><g filter="url(#bv)"><rect x="319.25" y="273.62" width="98.75" height="4.08" fill="url(#g142)"/><rect x="319.25" y="277" width="98.75" height="4.08" fill="url(#g143)"/><rect x="319.25" y="280.38" width="98.75" height="4.08" fill="url(#g144)"/><rect x="319.25" y="283.77" width="98.75" height="4.08" fill="url(#g145)"/><rect x="319.25" y="287.15" width="98.75" height="4.08" fill="url(#g146)"/><rect x="319.25" y="290.53" width="98.75" height="4.08" fill="url(#g147)"/><rect x="319.25" y="293.92" width="98.75" height="4.08" fill="url(#g148)"/><rect x="319.25" y="297.3" width="98.75" height="4.08" fill="url(#g149)"/><rect x="319.25" y="300.68" width="98.75" height="4.08" fill="url(#g150)"/><rect x="319.25" y="304.07" width="98.75" height="4.08" fill="url(#g151)"/><rect x="319.25" y="307.45" width="98.75" height="4.08" fill="url(#g152)"/><rect x="319.25" y="310.83" width="98.75" height="4.08" fill="url(#g153)"/><rect x="319.25" y="314.22" width="98.75" height="4.08" fill="url(#g154)"/><rect x="319.25" y="317.6" width="98.75" height="4.08" fill="url(#g155)"/><rect x="319.25" y="320.98" width="98.75" height="4.08" fill="url(#g156)"/><rect x="319.25" y="324.37" width="98.75" height="4.08" fill="url(#g157)"/><rect x="319.25" y="327.75" width="98.75" height="4.08" fill="url(#g158)"/><rect x="319.25" y="331.13" width="98.75" height="4.08" fill="url(#g159)"/><rect x="319.25" y="334.52" width="98.75" height="4.08" fill="url(#g160)"/><rect x="319.25" y="337.9" width="98.75" height="4.08" fill="url(#g161)"/><rect x="319.25" y="341.28" width="98.75" height="4.08" fill="url(#g162)"/><rect x="319.25" y="344.67" width="98.75" height="4.08" fill="url(#g163)"/><rect x="319.25" y="348.05" width="98.75" height="4.08" fill="url(#g164)"/><rect x="319.25" y="351.43" width="98.75" height="4.08" fill="url(#g165)"/><rect x="319.25" y="354.82" width="98.75" height="4.08" fill="url(#g166)"/><rect x="319.25" y="358.2" width="98.75" height="4.08" fill="url(#g167)"/></g></g><rect x="421.3" y="277.2" width="5.1" height="80.6" fill="url(#g168)" stroke="#888" stroke-width="0.35"/><rect x="292.5" y="278.3" width="17.5" height="79.2" fill="#fff" stroke="#aaa" stroke-width="0.4"/><rect x="292.5" y="278.3" width="15" height="13.6" class="hb"/><rect x="292.5" y="291.9" width="12" height="12.7" class="hb"/><rect x="292.5" y="304.6" width="12" height="12.9" class="hb"/><rect x="292.5" y="317.5" width="12" height="13.1" class="hb"/><rect x="292.5" y="330.6" width="12" height="13.4" class="hb"/><rect x="292.5" y="344" width="15.1" height="13.5" class="hb"/><rect x="319.5" y="367.3" width="98.5" height="13.7" fill="#fff" stroke="#aaa" stroke-width="0.4"/><rect x="319.5" y="376.4" width="7.3" height="4.6" class="hb"/><rect x="326.8" y="369.2" width="17.8" height="11.8" class="hb"/><rect x="344.6" y="369.2" width="18.1" height="11.8" class="hb"/><rect x="362.7" y="371.2" width="18.2" height="9.8" class="hb"/><rect x="380.9" y="369.2" width="18.1" height="11.8" class="hb"/><rect x="399" y="369.2" width="19" height="11.8" class="hb"/><path d="M447.9 341L497.9 324.7L541 342.9M447.9 332.3L497.9 316L541 334.2M447.9 323.6L497.9 307.3L541 325.5M447.9 314.9L497.9 298.6L541 316.8M447.9 306.2L497.9 289.9L541 308.1M447.9 297.5L497.9 281.2L541 299.4M447.9 341L497.9 324.7L497.9 281.2M462.27 347.07L512.27 330.77L512.27 287.27M476.63 353.13L526.63 336.83L526.63 293.33M491 359.2L541 342.9L541 299.4M491 359.2L447.9 341L447.9 297.5M507.67 353.77L464.57 335.57L464.57 292.07M524.33 348.33L481.23 330.13L481.23 286.63M541 342.9L497.9 324.7L497.9 281.2" fill="none" stroke="#ececec" stroke-width="0.3"/><path d="M447.9 297.5L447.9 341L491 359.2L541 342.9" fill="none" stroke="#555" stroke-width="0.45"/><g class="s"><path d="M501.5 315.5l3.2 1.5l3.6-1.1l-3.2-1.3z" class="c18"/><path d="M504.7 317.1l3.2 1.4l3.6-1.2l-3.2-1.3z" class="c18"/><path d="M507.8 318.5l3.2 1.1l3.6-1.2l-3.2-1.1z" class="c18"/><path d="M511 319.6l3.2 0.8l3.6-1.2l-3.2-0.7z" class="c19"/><path d="M514.2 320.4l3.2-0.5l3.6-1.1l-3.2 0.4z" class="c21"/><path d="M517.3 319.9l1.1-0.7l3.6-1.1l-1.1 0.6z" class="c23"/><path d="M518.4 319.2l1.1-1l3.6-1l-1.1 0.9z" class="c25"/><path d="M519.5 318.2l1.1-1.3l3.6-1l-1.1 1.2z" class="c28"/><path d="M520.5 316.9l1.1-1.5l3.6-0.9l-1.1 1.4z" class="c31"/><path d="M521.6 315.4l1.1-1.5l3.6-0.9l-1.1 1.5z" class="c34"/><path d="M522.7 313.9l1.1-1.4l3.6-0.9l-1.1 1.4z" class="c37"/><path d="M523.8 312.5l1.1-1.3l3.6-0.8l-1.1 1.2z" class="c40"/><path d="M524.9 311.3l1.1-1.1l3.6-0.8l-1.1 1.1z" class="c43"/><path d="M525.9 310.2l2.9-2.3l3.6-0.8l-2.9 2.3z" class="c47"/><path d="M528.8 307.9l2.9-1.1l3.6-0.7l-2.9 1.1z" class="c52"/><path d="M531.7 306.8l2.9 0.6l3.6-0.6l-2.9-0.7z" class="c54"/><path d="M534.6 307.4l2.9 3.1l3.6-0.3l-2.9-3.4z" class="c53"/><path d="M503.3 315.1L506.5 316.5L509.6 317.9L512.8 319L515.9 319.8L519.1 319.3L520.2 318.6L521.3 317.7L522.3 316.4L523.4 314.9L524.5 313.4L525.6 312L526.6 310.8L527.7 309.7L530.6 307.4L533.5 306.3L536.3 307L539.2 310.3" class="el"/><path d="M505.1 314.6L508.2 315.9L511.4 317.3L514.6 318.4L517.7 319.1L520.9 318.7L522 318.1L523 317.2L524.1 316L525.2 314.5L526.3 313.1L527.4 311.7L528.4 310.5L529.5 309.4L532.4 307.1L535.3 306L538.1 306.8L541 310.2" class="el"/><path d="M532.4 306.7L534.1 306.3L535.7 306" class="cr"/><path d="M497.9 316.6l3.2 1.6l3.6-1.1l-3.2-1.5z" class="c19"/><path d="M501.1 318.2l3.2 1.4l3.6-1.2l-3.2-1.4z" class="c18"/><path d="M504.3 319.6l3.2 1.1l3.6-1.1l-3.2-1.1z" class="c18"/><path d="M507.4 320.7l3.2 0.7l3.6-1.1l-3.2-0.8z" class="c19"/><path d="M510.6 321.5l3.2-0.4l3.6-1.2l-3.2 0.5z" class="c21"/><path d="M513.7 321.1l1.1-0.6l3.6-1.3l-1.1 0.7z" class="c23"/><path d="M514.8 320.4l1.1-0.9l3.6-1.3l-1.1 1z" class="c25"/><path d="M515.9 319.5l1.1-1.2l3.6-1.3l-1.1 1.3z" class="c28"/><path d="M517 318.3l1.1-1.4l3.6-1.4l-1.1 1.5z" class="c31"/><path d="M518.1 316.8l1.1-1.5l3.6-1.4l-1.1 1.5z" class="c34"/><path d="M519.1 315.3l1.1-1.4l3.6-1.4l-1.1 1.4z" class="c37"/><path d="M520.2 314l1.1-1.2l3.6-1.4l-1.1 1.3z" class="c40"/><path d="M521.3 312.7l1.1-1.1l3.6-1.5l-1.1 1.1z" class="c43"/><path d="M522.4 311.6l2.9-2.3l3.6-1.5l-2.9 2.3z" class="c47"/><path d="M525.2 309.4l2.9-1.1l3.6-1.5l-2.9 1.1z" class="c52"/><path d="M528.1 308.3l2.9 0.6l3.6-1.6l-2.9-0.6z" class="c54"/><path d="M531 309l2.9 2.8l3.6-1.2l-2.9-3.1z" class="c53"/><path d="M499.7 316L502.9 317.6L506 319L509.2 320.2L512.4 320.9L515.5 320.4L516.6 319.8L517.7 318.8L518.8 317.5L519.8 316.1L520.9 314.6L522 313.2L523.1 311.9L524.1 310.8L527 308.6L529.9 307.5L532.8 308.1L535.6 311" class="el"/><path d="M501.5 315.5L504.7 317.1L507.8 318.5L511 319.6L514.2 320.4L517.3 319.9L518.4 319.2L519.5 318.2L520.5 316.9L521.6 315.4L522.7 313.9L523.8 312.5L524.9 311.3L525.9 310.2L528.8 307.9L531.7 306.8L534.6 307.4L537.4 310.5" class="el"/><path d="M528.5 308.3L530.6 307.4L532.4 306.7" class="cr"/><path d="M494.4 317.7l3.2 1.6l3.6-1.1l-3.2-1.6z" class="c19"/><path d="M497.5 319.3l3.2 1.4l3.6-1.1l-3.2-1.4z" class="c18"/><path d="M500.7 320.8l3.2 1.1l3.6-1.1l-3.2-1.1z" class="c18"/><path d="M503.9 321.9l3.2 0.7l3.6-1.1l-3.2-0.7z" class="c19"/><path d="M507 322.6l3.2-0.3l3.6-1.3l-3.2 0.4z" class="c21"/><path d="M510.2 322.3l1.1-0.5l3.6-1.4l-1.1 0.6z" class="c23"/><path d="M511.2 321.8l1.1-0.8l3.6-1.5l-1.1 0.9z" class="c25"/><path d="M512.3 321l1.1-1.1l3.6-1.6l-1.1 1.2z" class="c28"/><path d="M513.4 319.8l1.1-1.4l3.6-1.7l-1.1 1.4z" class="c30"/><path d="M514.5 318.5l1.1-1.4l3.6-1.7l-1.1 1.5z" class="c34"/><path d="M515.6 317.1l1.1-1.3l3.6-1.8l-1.1 1.4z" class="c37"/><path d="M516.6 315.8l1.1-1.1l3.6-1.9l-1.1 1.2z" class="c39"/><path d="M517.7 314.6l1.1-1l3.6-2l-1.1 1.1z" class="c42"/><path d="M518.8 313.6l2.9-2.1l3.6-2.1l-2.9 2.3z" class="c46"/><path d="M521.7 311.5l2.9-0.8l3.6-2.3l-2.9 1.1z" class="c51"/><path d="M524.5 310.6l2.9 0.8l3.6-2.5l-2.9-0.6z" class="c53"/><path d="M527.4 311.4l2.9 2.3l3.6-2.1l-2.9-2.8z" class="c52"/><path d="M496.2 317.1L499.3 318.7L502.5 320.2L505.6 321.3L508.8 322L512 321.7L513 321.1L514.1 320.2L515.2 319L516.3 317.6L517.3 316.2L518.4 314.8L519.5 313.6L520.6 312.6L523.5 310.4L526.3 309.4L529.2 310.1L532.1 312.6" class="el"/><path d="M497.9 316.6L501.1 318.2L504.3 319.6L507.4 320.7L510.6 321.5L513.7 321.1L514.8 320.4L515.9 319.5L517 318.3L518.1 316.8L519.1 315.3L520.2 314L521.3 312.7L522.4 311.6L525.2 309.4L528.1 308.3L531 309L533.9 311.7" class="el"/><path d="M524.4 310.6L526.5 309.4L528.5 308.3" class="cr"/><path d="M490.8 318.9l3.2 1.6l3.6-1.2l-3.2-1.6z" class="c19"/><path d="M494 320.5l3.2 1.5l3.6-1.2l-3.2-1.4z" class="c18"/><path d="M497.1 321.9l3.2 1.1l3.6-1.2l-3.2-1.1z" class="c18"/><path d="M500.3 323.1l3.2 0.6l3.6-1.1l-3.2-0.7z" class="c19"/><path d="M503.4 323.7l3.2-0.1l3.6-1.3l-3.2 0.3z" class="c21"/><path d="M506.6 323.6l1.1-0.4l3.6-1.4l-1.1 0.5z" class="c23"/><path d="M507.7 323.2l1.1-0.7l3.6-1.6l-1.1 0.8z" class="c25"/><path d="M508.8 322.5l1.1-1l3.6-1.7l-1.1 1.1z" class="c27"/><path d="M509.8 321.5l1.1-1.2l3.6-1.8l-1.1 1.4z" class="c30"/><path d="M510.9 320.3l1.1-1.3l3.6-1.9l-1.1 1.4z" class="c33"/><path d="M512 319l1.1-1.2l3.6-2.1l-1.1 1.3z" class="c35"/><path d="M513.1 317.8l1.1-1l3.6-2.2l-1.1 1.1z" class="c38"/><path d="M514.1 316.8l1.1-0.9l3.6-2.3l-1.1 1z" class="c40"/><path d="M515.2 315.9l2.9-1.8l3.6-2.7l-2.9 2.1z" class="c44"/><path d="M518.1 314.1l2.9-0.4l3.6-3.1l-2.9 0.8z" class="c48"/><path d="M521 313.7l2.9 1l3.6-3.3l-2.9-0.8z" class="c50"/><path d="M523.8 314.7l2.9 2l3.6-2.9l-2.9-2.3z" class="c50"/><path d="M492.6 318.3L495.7 319.9L498.9 321.3L502.1 322.5L505.2 323.1L508.4 322.9L509.5 322.5L510.5 321.8L511.6 320.7L512.7 319.4L513.8 318L514.9 316.8L515.9 315.7L517 314.7L519.9 312.7L522.8 312.1L525.6 313L528.5 315.1" class="el"/><path d="M494.4 317.7L497.5 319.3L500.7 320.8L503.9 321.9L507 322.6L510.2 322.3L511.2 321.8L512.3 321L513.4 319.8L514.5 318.5L515.6 317.1L516.6 315.8L517.7 314.6L518.8 313.6L521.7 311.5L524.5 310.6L527.4 311.4L530.3 313.8" class="el"/><path d="M520.4 313.7L522.4 312.1L524.4 310.6" class="cr"/><path d="M487.2 320.1l3.2 1.6l3.6-1.2l-3.2-1.6z" class="c19"/><path d="M490.4 321.7l3.2 1.5l3.6-1.3l-3.2-1.5z" class="c18"/><path d="M493.5 323.2l3.2 1.2l3.6-1.3l-3.2-1.1z" class="c18"/><path d="M496.7 324.4l3.2 0.6l3.6-1.3l-3.2-0.6z" class="c19"/><path d="M499.9 325l3.2 0l3.6-1.3l-3.2 0.1z" class="c21"/><path d="M503 324.9l1.1-0.3l3.6-1.4l-1.1 0.4z" class="c23"/><path d="M504.1 324.7l1.1-0.6l3.6-1.6l-1.1 0.7z" class="c24"/><path d="M505.2 324.1l1.1-0.9l3.6-1.7l-1.1 1z" class="c26"/><path d="M506.3 323.2l1.1-1.1l3.6-1.8l-1.1 1.2z" class="c29"/><path d="M507.3 322.1l1.1-1.1l3.6-2l-1.1 1.3z" class="c31"/><path d="M508.4 321l1.1-1l3.6-2.2l-1.1 1.2z" class="c34"/><path d="M509.5 320l1.1-0.9l3.6-2.3l-1.1 1z" class="c36"/><path d="M510.6 319.1l1.1-0.7l3.6-2.5l-1.1 0.9z" class="c39"/><path d="M511.6 318.4l2.9-1.2l3.6-3.1l-2.9 1.8z" class="c42"/><path d="M514.5 317.3l2.9 0.1l3.6-3.7l-2.9 0.4z" class="c45"/><path d="M517.4 317.4l2.9 1.3l3.6-3.9l-2.9-1z" class="c46"/><path d="M520.3 318.7l2.9 1.7l3.6-3.7l-2.9-2z" class="c46"/><path d="M489 319.5L492.2 321.1L495.3 322.6L498.5 323.7L501.7 324.3L504.8 324.3L505.9 323.9L507 323.3L508 322.4L509.1 321.2L510.2 320L511.3 318.9L512.4 318L513.4 317.2L516.3 315.7L519.2 315.5L522.1 316.7L524.9 318.5" class="el"/><path d="M490.8 318.9L494 320.5L497.1 321.9L500.3 323.1L503.4 323.7L506.6 323.6L507.7 323.2L508.8 322.5L509.8 321.5L510.9 320.3L512 319L513.1 317.8L514.1 316.8L515.2 315.9L518.1 314.1L521 313.7L523.8 314.7L526.7 316.7" class="el"/><path d="M515.8 317.1L518.1 315.4L520.4 313.7" class="cr"/><path d="M483.7 321.5l3.2 1.5l3.6-1.4l-3.2-1.6z" class="c18"/><path d="M486.8 323.1l3.2 1.5l3.6-1.4l-3.2-1.5z" class="c18"/><path d="M490 324.6l3.2 1.2l3.6-1.4l-3.2-1.2z" class="c18"/><path d="M493.1 325.8l3.2 0.6l3.6-1.3l-3.2-0.6z" class="c19"/><path d="M496.3 326.3l3.2 0.1l3.6-1.5l-3.2 0z" class="c20"/><path d="M499.5 326.4l1.1-0.2l3.6-1.6l-1.1 0.3z" class="c22"/><path d="M500.5 326.2l1.1-0.4l3.6-1.7l-1.1 0.6z" class="c23"/><path d="M501.6 325.8l1.1-0.7l3.6-1.9l-1.1 0.9z" class="c25"/><path d="M502.7 325.1l1.1-0.9l3.6-2.1l-1.1 1.1z" class="c27"/><path d="M503.8 324.2l1.1-1l3.6-2.3l-1.1 1.1z" class="c30"/><path d="M504.8 323.3l1.1-0.9l3.6-2.4l-1.1 1z" class="c32"/><path d="M505.9 322.4l1.1-0.8l3.6-2.5l-1.1 0.9z" class="c34"/><path d="M507 321.6l1.1-0.6l3.6-2.5l-1.1 0.7z" class="c36"/><path d="M508.1 321l2.9-0.6l3.6-3.1l-2.9 1.2z" class="c39"/><path d="M511 320.3l2.9 0.6l3.6-3.6l-2.9-0.1z" class="c42"/><path d="M513.8 321l2.9 1.4l3.6-3.7l-2.9-1.3z" class="c42"/><path d="M516.7 322.4l2.9 1.6l3.6-3.6l-2.9-1.7z" class="c42"/><path d="M485.4 320.8L488.6 322.4L491.8 323.9L494.9 325.1L498.1 325.6L501.2 325.7L502.3 325.4L503.4 324.9L504.5 324.1L505.6 323.1L506.6 322.1L507.7 321.1L508.8 320.3L509.9 319.7L512.7 318.8L515.6 319.3L518.5 320.6L521.4 322.3" class="el"/><path d="M487.2 320.1L490.4 321.7L493.5 323.2L496.7 324.4L499.9 325L503 324.9L504.1 324.7L505.2 324.1L506.3 323.2L507.3 322.1L508.4 321L509.5 320L510.6 319.1L511.6 318.4L514.5 317.3L517.4 317.4L520.3 318.7L523.1 320.4" class="el"/><path d="M510.9 320.3L513.2 318.8L515.8 317.1" class="cr"/><path d="M480.1 323l3.2 1.7l3.6-1.6l-3.2-1.5z" class="c18"/><path d="M483.2 324.7l3.2 1.5l3.6-1.6l-3.2-1.5z" class="c18"/><path d="M486.4 326.1l3.2 1.1l3.6-1.4l-3.2-1.2z" class="c18"/><path d="M489.6 327.2l3.2 0.5l3.6-1.4l-3.2-0.6z" class="c18"/><path d="M492.7 327.7l3.2 0.4l3.6-1.7l-3.2-0.1z" class="c20"/><path d="M495.9 328.1l1.1 0.1l3.6-1.9l-1.1 0.2z" class="c21"/><path d="M497 328.2l1.1-0.1l3.6-2.2l-1.1 0.4z" class="c22"/><path d="M498 328l1.1-0.4l3.6-2.5l-1.1 0.7z" class="c24"/><path d="M499.1 327.6l1.1-0.7l3.6-2.7l-1.1 0.9z" class="c26"/><path d="M500.2 326.9l1.1-0.8l3.6-2.8l-1.1 1z" class="c28"/><path d="M501.3 326.1l1.1-0.9l3.6-2.8l-1.1 0.9z" class="c30"/><path d="M502.4 325.2l1.1-0.9l3.6-2.6l-1.1 0.8z" class="c32"/><path d="M503.4 324.2l1.1-0.8l3.6-2.5l-1.1 0.6z" class="c34"/><path d="M504.5 323.4l2.9-0.7l3.6-2.5l-2.9 0.6z" class="c37"/><path d="M507.4 322.8l2.9 0.8l3.6-2.6l-2.9-0.6z" class="c39"/><path d="M510.3 323.6l2.9 1.3l3.6-2.5l-2.9-1.4z" class="c39"/><path d="M513.1 324.9l2.9 1.4l3.6-2.4l-2.9-1.6z" class="c39"/><path d="M481.9 322.2L485 323.8L488.2 325.3L491.4 326.5L494.5 327L497.7 327.2L498.7 327.2L499.8 326.9L500.9 326.3L502 325.5L503.1 324.6L504.1 323.7L505.2 322.9L506.3 322.2L509.2 321.7L512 322.4L514.9 323.8L517.8 325.3" class="el"/><path d="M483.7 321.5L486.8 323.1L490 324.6L493.1 325.8L496.3 326.3L499.5 326.4L500.5 326.2L501.6 325.8L502.7 325.1L503.8 324.2L504.8 323.3L505.9 322.4L507 321.6L508.1 321L511 320.3L513.8 321L516.7 322.4L519.6 324" class="el"/><path d="M506.8 322.8L508.6 321.6L510.9 320.3" class="cr"/><path d="M476.5 324.5l3.2 1.9l3.6-1.7l-3.2-1.7z" class="c17"/><path d="M479.7 326.4l3.2 1.5l3.6-1.7l-3.2-1.5z" class="c17"/><path d="M482.8 327.9l3.2 0.9l3.6-1.6l-3.2-1.1z" class="c17"/><path d="M486 328.8l3.2 0.4l3.6-1.5l-3.2-0.5z" class="c18"/><path d="M489.2 329.2l3.2 0.7l3.6-1.8l-3.2-0.4z" class="c19"/><path d="M492.3 329.9l1.1 0.3l3.6-2l-1.1-0.1z" class="c20"/><path d="M493.4 330.2l1.1 0.1l3.6-2.3l-1.1 0.1z" class="c21"/><path d="M494.5 330.4l1.1-0.1l3.6-2.6l-1.1 0.4z" class="c22"/><path d="M495.5 330.2l1.1-0.5l3.6-2.8l-1.1 0.7z" class="c23"/><path d="M496.6 329.8l1.1-0.8l3.6-2.9l-1.1 0.8z" class="c25"/><path d="M497.7 329l1.1-1.1l3.6-2.8l-1.1 0.9z" class="c27"/><path d="M498.8 327.9l1.1-1.2l3.6-2.5l-1.1 0.9z" class="c30"/><path d="M499.9 326.7l1.1-1.1l3.6-2.2l-1.1 0.8z" class="c32"/><path d="M500.9 325.7l2.9-1.1l3.6-1.8l-2.9 0.7z" class="c35"/><path d="M503.8 324.6l2.9 0.7l3.6-1.7l-2.9-0.8z" class="c37"/><path d="M506.7 325.3l2.9 1.1l3.6-1.4l-2.9-1.3z" class="c37"/><path d="M509.6 326.4l2.9 1.3l3.6-1.3l-2.9-1.4z" class="c37"/><path d="M478.3 323.7L481.5 325.5L484.6 327L487.8 328L490.9 328.4L494.1 329L495.2 329.2L496.3 329.2L497.3 329L498.4 328.4L499.5 327.6L500.6 326.6L501.6 325.5L502.7 324.6L505.6 323.8L508.5 324.5L511.3 325.7L514.2 327.1" class="el"/><path d="M480.1 323L483.2 324.7L486.4 326.1L489.6 327.2L492.7 327.7L495.9 328.1L497 328.2L498 328L499.1 327.6L500.2 326.9L501.3 326.1L502.4 325.2L503.4 324.2L504.5 323.4L507.4 322.8L510.3 323.6L513.1 324.9L516 326.3" class="el"/><path d="M503.5 324.6L505 323.7L506.8 322.8" class="cr"/><path d="M472.9 326.1l3.2 2l3.6-1.7l-3.2-1.9z" class="c16"/><path d="M476.1 328.1l3.2 1.6l3.6-1.9l-3.2-1.5z" class="c16"/><path d="M479.3 329.7l3.2 1l3.6-1.9l-3.2-0.9z" class="c16"/><path d="M482.4 330.7l3.2 0.1l3.6-1.6l-3.2-0.4z" class="c17"/><path d="M485.6 330.8l3.2 0.7l3.6-1.6l-3.2-0.7z" class="c19"/><path d="M488.7 331.5l1.1 0.4l3.6-1.7l-1.1-0.3z" class="c19"/><path d="M489.8 331.9l1.1 0.3l3.6-1.8l-1.1-0.1z" class="c19"/><path d="M490.9 332.2l1.1 0l3.6-2l-1.1 0.1z" class="c20"/><path d="M492 332.2l1.1-0.4l3.6-2.1l-1.1 0.5z" class="c21"/><path d="M493.1 331.8l1.1-0.7l3.6-2.1l-1.1 0.8z" class="c23"/><path d="M494.1 331.1l1.1-1.1l3.6-2l-1.1 1.1z" class="c25"/><path d="M495.2 330l1.1-1.3l3.6-1.9l-1.1 1.2z" class="c28"/><path d="M496.3 328.6l1.1-1.3l3.6-1.7l-1.1 1.1z" class="c31"/><path d="M497.4 327.4l2.9-1.4l3.6-1.4l-2.9 1.1z" class="c34"/><path d="M500.2 326l2.9 0.5l3.6-1.2l-2.9-0.7z" class="c36"/><path d="M503.1 326.5l2.9 1l3.6-1.1l-2.9-1.1z" class="c37"/><path d="M506 327.5l2.9 1.2l3.6-1.1l-2.9-1.3z" class="c37"/><path d="M474.7 325.3L477.9 327.2L481 328.8L484.2 329.7L487.4 330L490.5 330.7L491.6 331.1L492.7 331.4L493.8 331.3L494.8 330.9L495.9 330.2L497 329.1L498.1 327.8L499.1 326.6L502 325.3L504.9 325.9L507.8 326.9L510.6 328.1" class="el"/><path d="M476.5 324.5L479.7 326.4L482.8 327.9L486 328.8L489.2 329.2L492.3 329.9L493.4 330.2L494.5 330.4L495.5 330.2L496.6 329.8L497.7 329L498.8 327.9L499.9 326.7L500.9 325.7L503.8 324.6L506.7 325.3L509.6 326.4L512.4 327.6" class="el"/><path d="M500.2 326L502 325.3L503.5 324.6" class="cr"/><path d="M469.4 328l3.2 2l3.6-1.9l-3.2-2z" class="c15"/><path d="M472.5 330l3.2 1.9l3.6-2.1l-3.2-1.6z" class="c15"/><path d="M475.7 331.9l3.2 1.1l3.6-2.2l-3.2-1z" class="c15"/><path d="M478.9 332.9l3.2-0.3l3.6-1.8l-3.2-0.1z" class="c16"/><path d="M482 332.6l3.2 0.2l3.6-1.4l-3.2-0.7z" class="c18"/><path d="M485.2 332.8l1.1 0.4l3.6-1.3l-1.1-0.4z" class="c19"/><path d="M486.2 333.2l1.1 0.3l3.6-1.3l-1.1-0.3z" class="c19"/><path d="M487.3 333.5l1.1 0l3.6-1.2l-1.1 0z" class="c19"/><path d="M488.4 333.4l1.1-0.4l3.6-1.2l-1.1 0.4z" class="c20"/><path d="M489.5 333.1l1.1-0.7l3.6-1.2l-1.1 0.7z" class="c22"/><path d="M490.6 332.3l1.1-1.1l3.6-1.3l-1.1 1.1z" class="c24"/><path d="M491.6 331.2l1.1-1.3l3.6-1.3l-1.1 1.3z" class="c27"/><path d="M492.7 329.9l1.1-1.2l3.6-1.3l-1.1 1.3z" class="c30"/><path d="M493.8 328.7l2.9-1.5l3.6-1.2l-2.9 1.4z" class="c34"/><path d="M496.7 327.2l2.9 0.4l3.6-1.1l-2.9-0.5z" class="c36"/><path d="M499.5 327.6l2.9 1.1l3.6-1.2l-2.9-1z" class="c37"/><path d="M502.4 328.7l2.9 1.2l3.6-1.2l-2.9-1.2z" class="c37"/><path d="M471.2 327L474.3 329L477.5 330.7L480.6 331.8L483.8 331.7L487 332.2L488 332.6L489.1 332.9L490.2 332.9L491.3 332.5L492.3 331.8L493.4 330.7L494.5 329.3L495.6 328.1L498.5 326.6L501.3 327.1L504.2 328.1L507.1 329.3" class="el"/><path d="M472.9 326.1L476.1 328.1L479.3 329.7L482.4 330.7L485.6 330.8L488.7 331.5L489.8 331.9L490.9 332.2L492 332.2L493.1 331.8L494.1 331.1L495.2 330L496.3 328.6L497.4 327.4L500.2 326L503.1 326.5L506 327.5L508.9 328.7" class="el"/><path d="M496.9 327.2L498.7 326.6L500.2 326" class="cr"/><path d="M465.8 330.5l3.2 2l3.6-2.5l-3.2-2z" class="c14"/><path d="M469 332.5l3.2 1.9l3.6-2.6l-3.2-1.9z" class="c13"/><path d="M472.1 334.4l3.2 0.9l3.6-2.4l-3.2-1.1z" class="c13"/><path d="M475.3 335.3l3.2-0.7l3.6-2l-3.2 0.3z" class="c14"/><path d="M478.4 334.6l3.2-0.3l3.6-1.4l-3.2-0.2z" class="c17"/><path d="M481.6 334.3l1.1 0.2l3.6-1.3l-1.1-0.4z" class="c18"/><path d="M482.7 334.5l1.1 0.1l3.6-1.1l-1.1-0.3z" class="c19"/><path d="M483.8 334.6l1.1-0.1l3.6-1l-1.1 0z" class="c19"/><path d="M484.8 334.5l1.1-0.4l3.6-0.9l-1.1 0.4z" class="c20"/><path d="M485.9 334l1.1-0.7l3.6-0.9l-1.1 0.7z" class="c22"/><path d="M487 333.3l1.1-1.1l3.6-1l-1.1 1.1z" class="c24"/><path d="M488.1 332.2l1.1-1.2l3.6-1.1l-1.1 1.3z" class="c27"/><path d="M489.1 331l1.1-1.2l3.6-1.1l-1.1 1.2z" class="c30"/><path d="M490.2 329.8l2.9-1.5l3.6-1.2l-2.9 1.5z" class="c33"/><path d="M493.1 328.4l2.9 0.4l3.6-1.1l-2.9-0.4z" class="c36"/><path d="M496 328.7l2.9 1.1l3.6-1.2l-2.9-1.1z" class="c37"/><path d="M498.8 329.9l2.9 1.2l3.6-1.2l-2.9-1.2z" class="c37"/><path d="M467.6 329.1L470.7 331.1L473.9 333.1L477.1 334.1L480.2 333.6L483.4 333.5L484.5 333.8L485.5 334L486.6 333.9L487.7 333.5L488.8 332.8L489.9 331.7L490.9 330.5L492 329.3L494.9 327.8L497.8 328.2L500.6 329.3L503.5 330.5" class="el"/><path d="M469.4 328L472.5 330L475.7 331.9L478.9 332.9L482 332.6L485.2 332.8L486.2 333.2L487.3 333.5L488.4 333.4L489.5 333.1L490.6 332.3L491.6 331.2L492.7 329.9L493.8 328.7L496.7 327.2L499.5 327.6L502.4 328.7L505.3 329.9" class="el"/><path d="M493.6 328.3L495.4 327.7L496.9 327.2" class="cr"/><path d="M462.2 333.7l3.2 2.1l3.6-3.2l-3.2-2z" class="c11"/><path d="M465.4 335.7l3.2 1.6l3.6-2.9l-3.2-1.9z" class="c10"/><path d="M468.5 337.4l3.2 0.5l3.6-2.5l-3.2-0.9z" class="c10"/><path d="M471.7 337.8l3.2-1.2l3.6-2l-3.2 0.7z" class="c13"/><path d="M474.9 336.6l3.2-0.9l3.6-1.5l-3.2 0.3z" class="c16"/><path d="M478 335.8l1.1 0l3.6-1.3l-1.1-0.2z" class="c18"/><path d="M479.1 335.8l1.1 0l3.6-1.2l-1.1-0.1z" class="c19"/><path d="M480.2 335.8l1.1-0.3l3.6-1.1l-1.1 0.1z" class="c19"/><path d="M481.3 335.5l1.1-0.5l3.6-1l-1.1 0.4z" class="c21"/><path d="M482.3 335l1.1-0.8l3.6-1l-1.1 0.7z" class="c23"/><path d="M483.4 334.2l1.1-1l3.6-1l-1.1 1.1z" class="c25"/><path d="M484.5 333.2l1.1-1.2l3.6-1.1l-1.1 1.2z" class="c27"/><path d="M485.6 332.1l1.1-1.1l3.6-1.1l-1.1 1.2z" class="c30"/><path d="M486.6 331l2.9-1.4l3.6-1.2l-2.9 1.5z" class="c33"/><path d="M489.5 329.5l2.9 0.4l3.6-1.2l-2.9-0.4z" class="c36"/><path d="M492.4 329.9l2.9 1.1l3.6-1.2l-2.9-1.1z" class="c37"/><path d="M495.3 331l2.9 1.2l3.6-1.2l-2.9-1.2z" class="c37"/><path d="M464 332L467.2 334.1L470.3 335.9L473.5 336.6L476.7 335.6L479.8 335L480.9 335.1L482 335.2L483 335L484.1 334.5L485.2 333.7L486.3 332.7L487.4 331.5L488.4 330.4L491.3 328.9L494.2 329.3L497.1 330.5L499.9 331.7" class="el"/><path d="M465.8 330.5L469 332.5L472.1 334.4L475.3 335.3L478.4 334.6L481.6 334.3L482.7 334.5L483.8 334.6L484.8 334.5L485.9 334L487 333.3L488.1 332.2L489.1 331L490.2 329.8L493.1 328.4L496 328.7L498.8 329.9L501.7 331.1" class="el"/><path d="M490 329.5L491.8 328.9L493.6 328.3" class="cr"/><path d="M458.7 337.3l3.2 1.9l3.6-3.4l-3.2-2.1z" class="c7"/><path d="M461.8 339.2l3.2 1.1l3.6-2.9l-3.2-1.6z" class="c7"/><path d="M465 340.3l3.2-0.1l3.6-2.3l-3.2-0.5z" class="c8"/><path d="M468.1 340.1l3.2-1.7l3.6-1.8l-3.2 1.2z" class="c11"/><path d="M471.3 338.4l3.2-1.3l3.6-1.4l-3.2 0.9z" class="c15"/><path d="M474.5 337.2l1.1-0.1l3.6-1.3l-1.1 0z" class="c18"/><path d="M475.5 337.1l1.1-0.1l3.6-1.2l-1.1 0z" class="c18"/><path d="M476.6 336.9l1.1-0.3l3.6-1.1l-1.1 0.3z" class="c20"/><path d="M477.7 336.6l1.1-0.6l3.6-1.1l-1.1 0.5z" class="c21"/><path d="M478.8 336.1l1.1-0.8l3.6-1.1l-1.1 0.8z" class="c23"/><path d="M479.8 335.3l1.1-1l3.6-1.1l-1.1 1z" class="c25"/><path d="M480.9 334.3l1.1-1.1l3.6-1.1l-1.1 1.2z" class="c27"/><path d="M482 333.2l1.1-1.1l3.6-1.1l-1.1 1.1z" class="c30"/><path d="M483.1 332.1l2.9-1.4l3.6-1.2l-2.9 1.4z" class="c33"/><path d="M486 330.7l2.9 0.4l3.6-1.2l-2.9-0.4z" class="c36"/><path d="M488.8 331.1l2.9 1.1l3.6-1.2l-2.9-1.1z" class="c37"/><path d="M491.7 332.2l2.9 1.2l3.6-1.2l-2.9-1.2z" class="c37"/><path d="M460.4 335.4L463.6 337.5L466.8 338.8L469.9 339L473.1 337.6L476.2 336.5L477.3 336.5L478.4 336.4L479.5 336.1L480.6 335.5L481.6 334.7L482.7 333.7L483.8 332.6L484.9 331.5L487.7 330.1L490.6 330.5L493.5 331.6L496.4 332.8" class="el"/><path d="M462.2 333.7L465.4 335.7L468.5 337.4L471.7 337.8L474.9 336.6L478 335.8L479.1 335.8L480.2 335.8L481.3 335.5L482.3 335L483.4 334.2L484.5 333.2L485.6 332.1L486.6 331L489.5 329.5L492.4 329.9L495.3 331L498.1 332.2" class="el"/><path d="M486.4 330.7L488.2 330.1L490 329.5" class="cr"/><path d="M455.1 340.9l3.2 1.4l3.6-3.1l-3.2-1.9z" class="c4"/><path d="M458.2 342.3l3.2 0.5l3.6-2.5l-3.2-1.1z" class="c4"/><path d="M461.4 342.8l3.2-0.8l3.6-1.9l-3.2 0.1z" class="c6"/><path d="M464.6 342l3.2-2.4l3.6-1.2l-3.2 1.7z" class="c10"/><path d="M467.7 339.7l3.2-1.5l3.6-1l-3.2 1.3z" class="c15"/><path d="M470.9 338.2l1.1 0l3.6-1.1l-1.1 0.1z" class="c18"/><path d="M472 338.2l1.1-0.1l3.6-1.2l-1.1 0.1z" class="c18"/><path d="M473 338.1l1.1-0.3l3.6-1.2l-1.1 0.3z" class="c20"/><path d="M474.1 337.8l1.1-0.5l3.6-1.2l-1.1 0.6z" class="c21"/><path d="M475.2 337.3l1.1-0.8l3.6-1.2l-1.1 0.8z" class="c23"/><path d="M476.3 336.5l1.1-1l3.6-1.2l-1.1 1z" class="c25"/><path d="M477.4 335.5l1.1-1.1l3.6-1.2l-1.1 1.1z" class="c28"/><path d="M478.4 334.3l1.1-1.1l3.6-1.2l-1.1 1.1z" class="c30"/><path d="M479.5 333.3l2.9-1.4l3.6-1.2l-2.9 1.4z" class="c33"/><path d="M482.4 331.9l2.9 0.4l3.6-1.2l-2.9-0.4z" class="c36"/><path d="M485.3 332.2l2.9 1.1l3.6-1.2l-2.9-1.1z" class="c37"/><path d="M488.1 333.4l2.9 1.2l3.6-1.2l-2.9-1.2z" class="c37"/><path d="M455.1 340.9L458.2 342.3L461.4 342.8L464.6 342L467.7 339.7L470.9 338.2L472 338.2L473 338.1L474.1 337.8L475.2 337.3L476.3 336.5L477.4 335.5L478.4 334.3L479.5 333.3L482.4 331.9L485.3 332.2L488.1 333.4L491 334.6" class="el"/><path d="M456.9 339.1L460 340.8L463.2 341.6L466.4 341.1L469.5 339.1L472.7 337.7L473.7 337.7L474.8 337.5L475.9 337.2L477 336.7L478.1 335.9L479.1 334.9L480.2 333.7L481.3 332.7L484.2 331.3L487 331.7L489.9 332.8L492.8 334" class="el"/><path d="M458.7 337.3L461.8 339.2L465 340.3L468.1 340.1L471.3 338.4L474.5 337.2L475.5 337.1L476.6 336.9L477.7 336.6L478.8 336.1L479.8 335.3L480.9 334.3L482 333.2L483.1 332.1L486 330.7L488.8 331.1L491.7 332.2L494.6 333.4" class="el"/><path d="M482.9 331.8L484.6 331.3L486.4 330.7" class="cr"/></g><text x="292.9" y="275" class="t" text-anchor="middle">0</text><text x="301.65" y="275" class="t" text-anchor="middle">20</text><text x="310.4" y="275" class="t" text-anchor="middle">40</text><text x="314.65" y="279.1" class="t" text-anchor="middle">400</text><text x="314.65" y="292.18" class="t" text-anchor="middle">350</text><text x="314.65" y="305.27" class="t" text-anchor="middle">300</text><text x="314.65" y="318.35" class="t" text-anchor="middle">250</text><text x="314.65" y="331.43" class="t" text-anchor="middle">200</text><text x="314.65" y="344.52" class="t" text-anchor="middle">150</text><text x="314.65" y="357.6" class="t" text-anchor="middle">100</text><text x="320.2" y="362.15" class="t" text-anchor="middle">15</text><text x="320.2" y="385.05" class="t" text-anchor="middle">15</text><text x="339.73" y="362.15" class="t" text-anchor="middle">20</text><text x="339.73" y="385.05" class="t" text-anchor="middle">20</text><text x="359.26" y="362.15" class="t" text-anchor="middle">25</text><text x="359.26" y="385.05" class="t" text-anchor="middle">25</text><text x="378.79" y="362.15" class="t" text-anchor="middle">30</text><text x="378.79" y="385.05" class="t" text-anchor="middle">30</text><text x="398.32" y="362.15" class="t" text-anchor="middle">35</text><text x="398.32" y="385.05" class="t" text-anchor="middle">35</text><text x="417.85" y="362.15" class="t" text-anchor="middle">40</text><text x="417.85" y="385.05" class="t" text-anchor="middle">40</text><text x="444.7" y="344.95" class="t" text-anchor="middle">10</text><text x="459.07" y="351.02" class="t" text-anchor="middle">20</text><text x="473.43" y="357.08" class="t" text-anchor="middle">30</text><text x="487.8" y="363.15" class="t" text-anchor="middle">40</text><text x="495.6" y="362.95" class="t" text-anchor="middle">100</text><text x="512.27" y="357.52" class="t" text-anchor="middle">200</text><text x="528.93" y="352.08" class="t" text-anchor="middle">300</text><text x="545.6" y="346.65" class="t" text-anchor="middle">400</text><text x="290.5" y="279.1" class="t" text-anchor="end">400</text><text x="290.5" y="292.18" class="t" text-anchor="end">350</text><text x="290.5" y="305.27" class="t" text-anchor="end">300</text><text x="290.5" y="318.35" class="t" text-anchor="end">250</text><text x="290.5" y="331.43" class="t" text-anchor="end">200</text><text x="290.5" y="344.52" class="t" text-anchor="end">150</text><text x="290.5" y="357.6" class="t" text-anchor="end">100</text><text x="318.05" y="368.05" class="t" text-anchor="end">40</text><text x="318.05" y="374.75" class="t" text-anchor="end">20</text><text x="318.05" y="381.75" class="t" text-anchor="end">0</text><text x="427.6" y="353.62" class="t" text-anchor="start">75</text><text x="427.6" y="344.48" class="t" text-anchor="start">80</text><text x="427.6" y="335.34" class="t" text-anchor="start">85</text><text x="427.6" y="326.2" class="t" text-anchor="start">90</text><text x="427.6" y="317.06" class="t" text-anchor="start">95</text><text x="427.6" y="307.92" class="t" text-anchor="start">100</text><text x="427.6" y="298.79" class="t" text-anchor="start">105</text><text x="427.6" y="289.65" class="t" text-anchor="start">110</text><text x="427.6" y="280.51" class="t" text-anchor="start">115</text><text x="445.7" y="342.15" class="t" text-anchor="end">70</text><text x="445.7" y="333.45" class="t" text-anchor="end">80</text><text x="445.7" y="324.75" class="t" text-anchor="end">90</text><text x="445.7" y="316.05" class="t" text-anchor="end">100</text><text x="445.7" y="307.35" class="t" text-anchor="end">110</text><text x="445.7" y="298.65" class="t" text-anchor="end">120</text><text x="369.9" y="392.3" class="al" text-anchor="middle" textLength="38.3" lengthAdjust="spacingAndGlyphs" style="font-size:6.3px">Sensing Range</text><text x="430.2" y="391.7" class="pl" text-anchor="middle">(f)</text><text x="456.1" y="363" class="al3" text-anchor="middle" textLength="30.7" lengthAdjust="spacingAndGlyphs">Sensing Range</text><text x="528.7" y="364.5" class="al3" text-anchor="middle" textLength="30.6" lengthAdjust="spacingAndGlyphs">No. of Sensors</text><text transform="translate(280.6 313) rotate(-90)" text-anchor="middle" class="al" style="font-size:6.1px" textLength="37.5" lengthAdjust="spacingAndGlyphs">No. of Sensors</text><text transform="translate(437 320) rotate(-90)" text-anchor="middle" class="zl">No. of Barriers</text></svg></body></html>
